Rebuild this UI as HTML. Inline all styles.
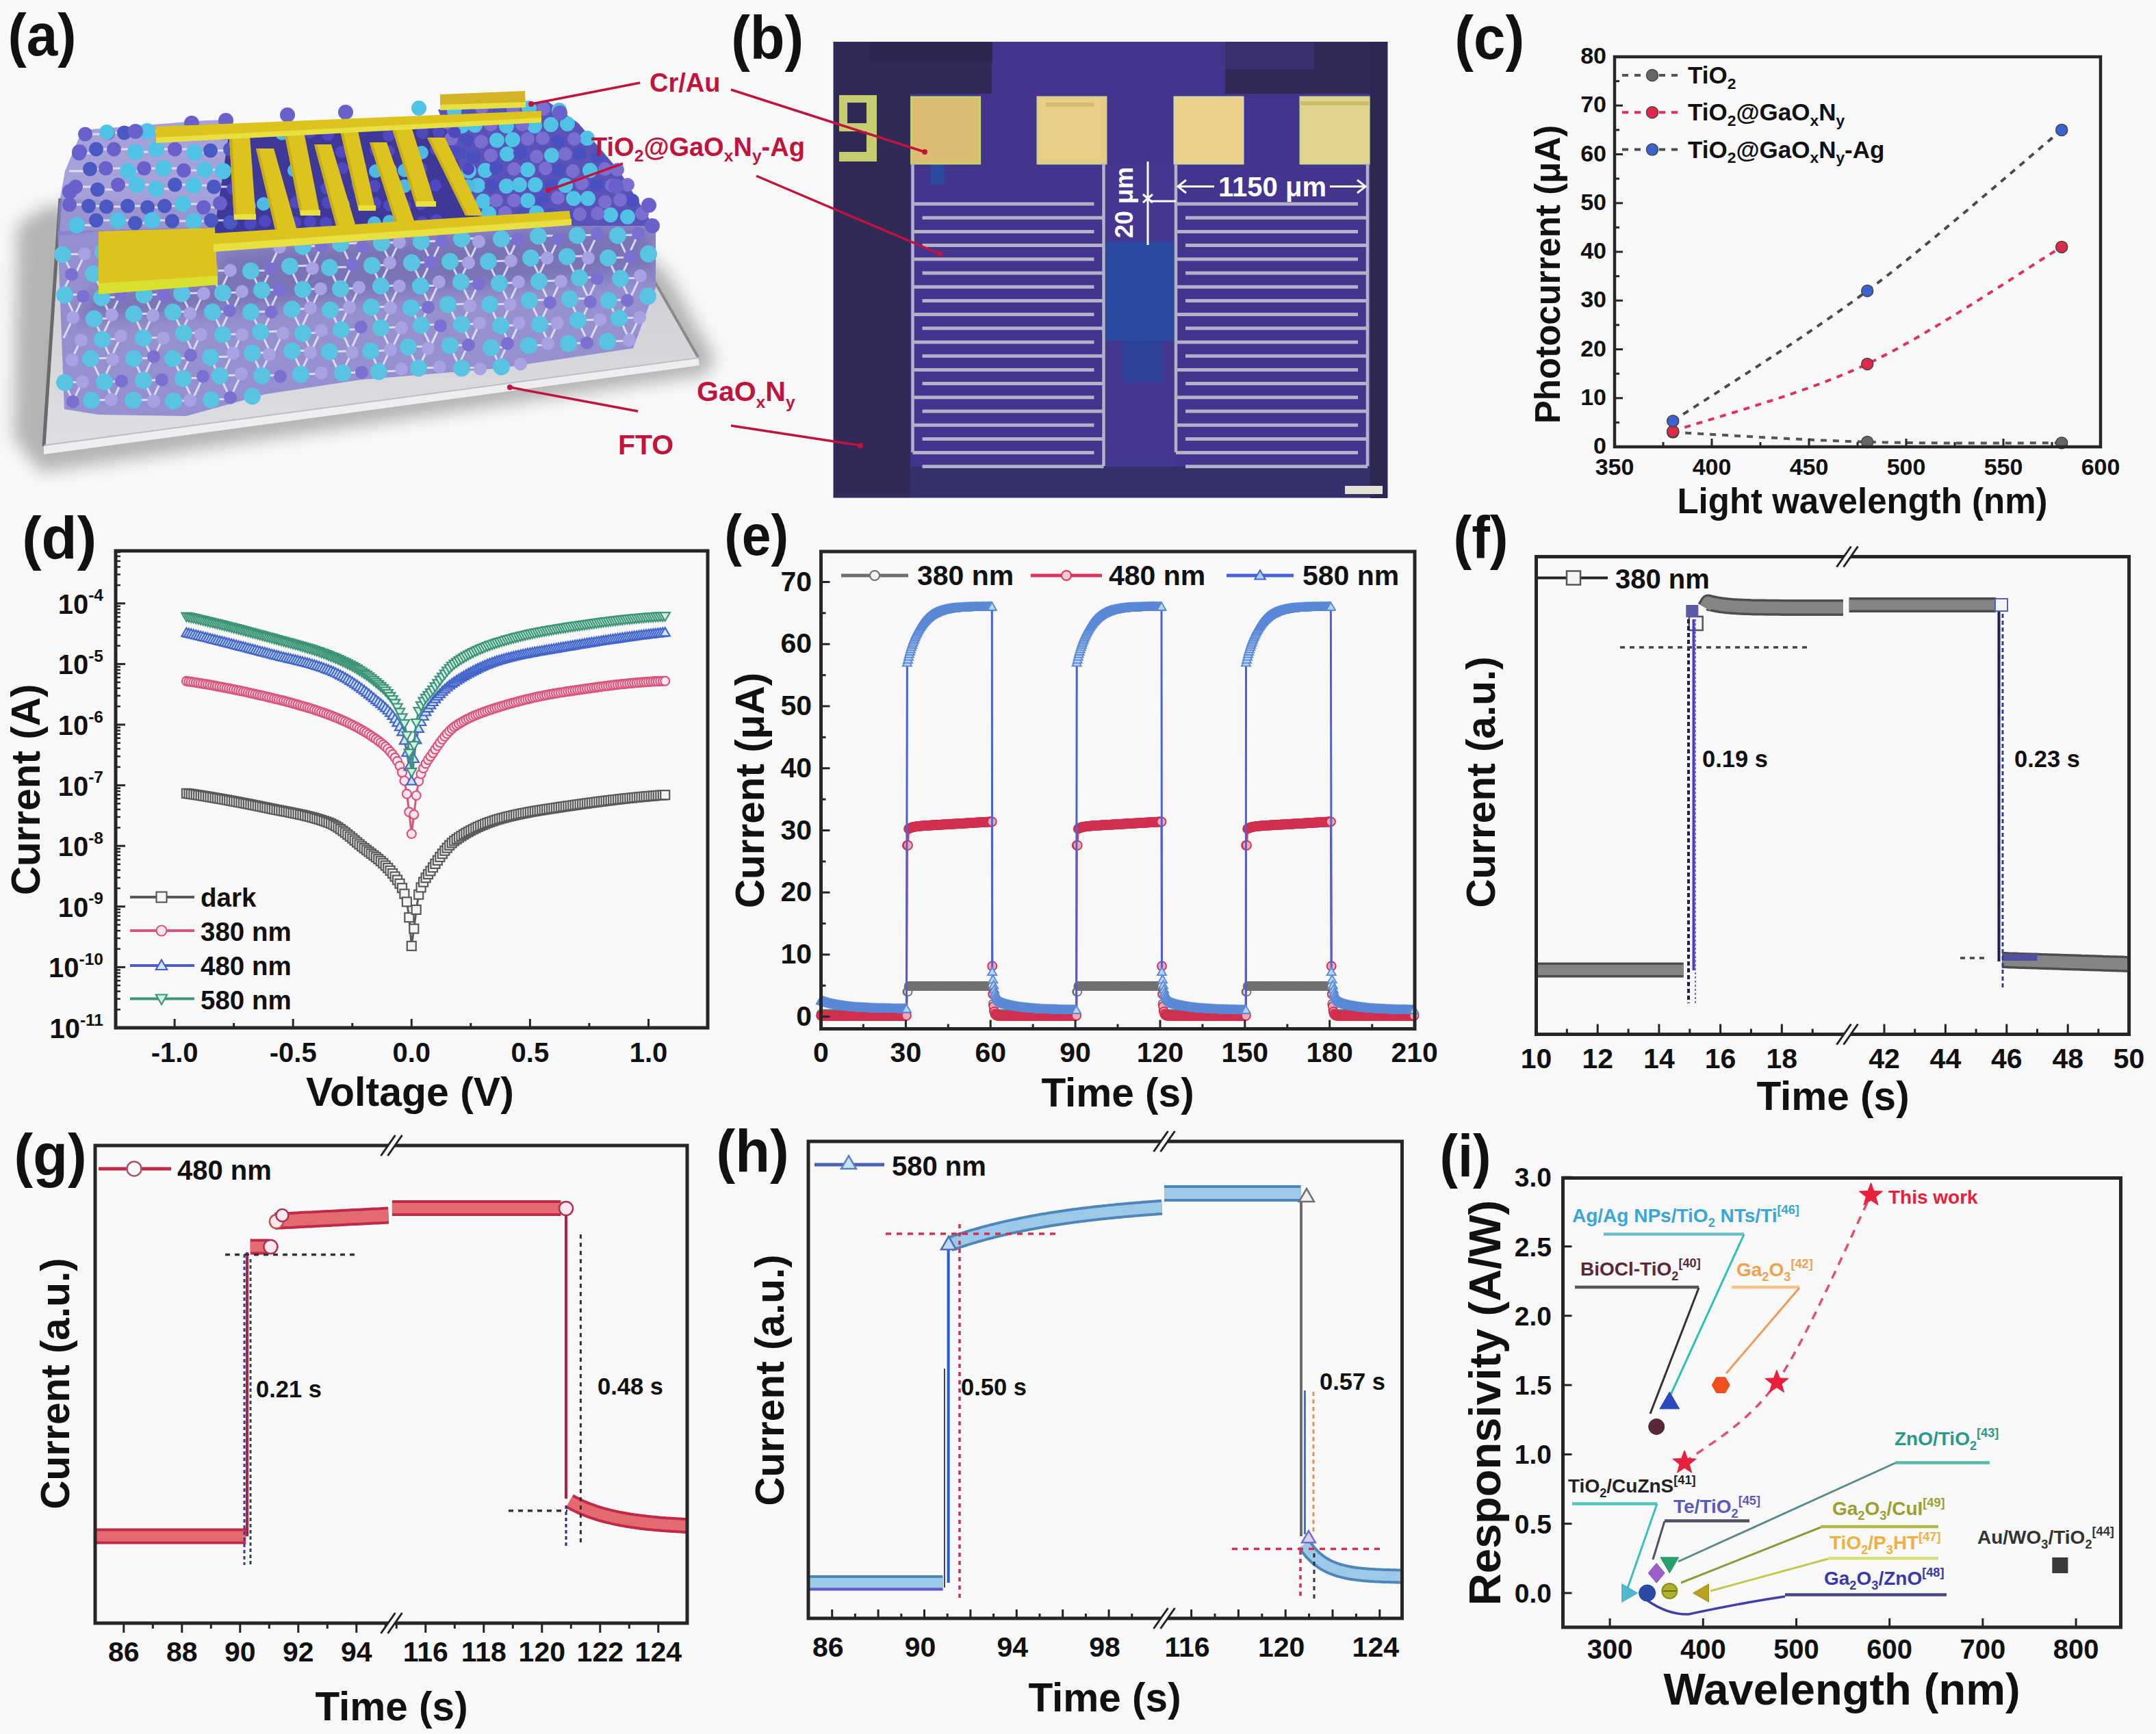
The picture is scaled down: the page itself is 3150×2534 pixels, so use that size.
<!DOCTYPE html>
<html><head><meta charset="utf-8"><title>Figure</title><style>
html,body{margin:0;padding:0;background:#f8f8f8;overflow:hidden}
svg{display:block}
text{font-family:"Liberation Sans",Arial,sans-serif;font-weight:bold}
</style></head><body>
<svg width="3150" height="2534" viewBox="0 0 3150 2534">
<rect x="0" y="0" width="3150" height="2534" fill="#f8f8f8"/>
<defs><filter id="blur12" x="-20%" y="-20%" width="140%" height="140%"><feGaussianBlur stdDeviation="12"/></filter><filter id="blur3"><feGaussianBlur stdDeviation="2"/></filter><linearGradient id="slabg" x1="0" y1="0" x2="0" y2="1"><stop offset="0" stop-color="#c8c8d0"/><stop offset="1" stop-color="#dedee2"/></linearGradient><clipPath id="lowclip"><polygon points="84,338 316,332 316,367 835,328 958,330 958,420 925,509 731,538 527,555 388,576 272,608 144,606 94,598"/></clipPath><marker id="m0" markerUnits="userSpaceOnUse" markerWidth="26.6" markerHeight="26.6" refX="13.3" refY="13.3" overflow="visible"><rect x="6.8" y="6.8" width="13.0" height="13.0" fill="#f4f4f4" stroke="#5a5a5a" stroke-width="2.2"/></marker><marker id="m1" markerUnits="userSpaceOnUse" markerWidth="26.6" markerHeight="26.6" refX="13.3" refY="13.3" overflow="visible"><circle cx="13.3" cy="13.3" r="6.5" fill="#fbe6ee" stroke="#d9557c" stroke-width="2.2"/></marker><marker id="m2" markerUnits="userSpaceOnUse" markerWidth="26.6" markerHeight="26.6" refX="13.3" refY="13.3" overflow="visible"><polygon points="13.3,6.2 20.5,18.5 6.2,18.5" fill="#cfe6f8" stroke="#4466cc" stroke-width="2.2"/></marker><marker id="m3" markerUnits="userSpaceOnUse" markerWidth="26.6" markerHeight="26.6" refX="13.3" refY="13.3" overflow="visible"><polygon points="13.3,20.5 20.5,8.1 6.2,8.1" fill="#d2efe6" stroke="#3d9478" stroke-width="2.2"/></marker><marker id="m4" markerUnits="userSpaceOnUse" markerWidth="24.4" markerHeight="24.4" refX="12.2" refY="12.2" overflow="visible"><circle cx="12.2" cy="12.2" r="6.0" fill="#f0f0f0" stroke="#707070" stroke-width="1.8"/></marker><marker id="m5" markerUnits="userSpaceOnUse" markerWidth="25.8" markerHeight="25.8" refX="12.9" refY="12.9" overflow="visible"><circle cx="12.9" cy="12.9" r="6.5" fill="#f0a8b8" stroke="#d03050" stroke-width="1.8"/></marker><marker id="m6" markerUnits="userSpaceOnUse" markerWidth="24.4" markerHeight="24.4" refX="12.2" refY="12.2" overflow="visible"><polygon points="12.2,5.6 18.8,17.0 5.6,17.0" fill="#b4d6f4" stroke="#5a88d6" stroke-width="1.8"/></marker></defs>
<polygon points="70,300 900,330 975,400 1045,525 1030,548 60,690 20,640 25,330" fill="#a8a8a8" filter="url(#blur12)" opacity="0.85"/>
<polygon points="88,290 900,330 950,400 1020,522 64,650" fill="url(#slabg)"/>
<polygon points="64,650 1020,522 1022,534 64,664" fill="#eeeeee"/>
<line x1="88" y1="290" x2="64" y2="652" stroke="#6a6a6a" stroke-width="5"/>
<line x1="950" y1="400" x2="1020" y2="522" stroke="#8a8a8a" stroke-width="4"/>
<line x1="64" y1="651" x2="1020" y2="523" stroke="#bdbdc4" stroke-width="2"/>
<polygon points="84,338 316,332 316,367 835,328 958,330 958,420 925,509 731,538 527,555 388,576 272,608 144,606 94,598" fill="#918ace" opacity="0.92"/>
<polygon points="86,300 95,250 120,190 300,176 340,175 350,330 312,341 150,338 84,345" fill="#8680cc" opacity="0.72"/>
<g clip-path="url(#lowclip)"><polygon points="144,420 316,412 316,367 835,328 958,330 958,400 600,430 300,455 100,470" fill="#5a5298" opacity="0.45" filter="url(#blur12)"/></g>
<polygon points="336,185 700,168 710,320 312,345" fill="#3e3898"/>
<polygon points="640,160 800,148 845,180 905,250 955,330 835,330 700,318" fill="#5a52b8"/>
<path d="M92,372l29,-1M92,372l14,30M124,371l-14,30M151,368l29,-1M151,368l14,30M179,370l-14,30M206,367l29,-1M206,367l14,30M235,369l-14,30M263,369l29,-1M263,369l14,30M298,366l-14,30M408,361l-14,30M442,360l29,-1M442,360l14,30M470,359l-14,30M498,356l29,-1M498,356l14,30M530,360l-14,30M557,355l29,-1M557,355l14,30M583,354l-14,30M616,353l29,-1M616,353l14,30M645,352l-14,30M674,349l29,-1M674,349l14,30M699,353l-14,30M733,349l29,-1M733,349l14,30M756,350l-14,30M787,345l29,-1M787,345l14,30M816,349l-14,30M844,344l29,-1M844,344l14,30M873,342l-14,30M902,344l29,-1M902,344l14,30M933,341l-14,30M104,401l-14,30M137,400l29,-1M137,400l14,30M166,399l-14,30M195,400l29,-1M195,400l14,30M220,401l-14,30M250,399l29,-1M250,399l14,30M279,395l-14,30M307,396l29,-1M307,396l14,30M336,395l-14,30M367,396l29,-1M367,396l14,30M396,393l-14,30M423,389l29,-1M423,389l14,30M456,392l-14,30M481,391l29,-1M481,391l14,30M515,386l-14,30M543,388l29,-1M543,388l14,30M570,384l-14,30M602,384l29,-1M602,384l14,30M629,383l-14,30M658,382l29,-1M658,382l14,30M684,384l-14,30M713,382l29,-1M713,382l14,30M746,381l-14,30M776,377l29,-1M776,377l14,30M799,377l-14,30M828,375l29,-1M828,375l14,30M859,377l-14,30M888,377l29,-1M888,377l14,30M921,375l-14,30M95,431l29,-1M95,431l14,30M122,433l-14,30M149,435l29,-1M149,435l14,30M176,431l-14,30M210,431l29,-1M210,431l14,30M238,431l-14,30M265,429l29,-1M265,429l14,30M297,429l-14,30M326,428l29,-1M326,428l14,30M353,426l-14,30M382,424l29,-1M382,424l14,30M408,424l-14,30M442,423l29,-1M442,423l14,30M468,422l-14,30M498,422l29,-1M498,422l14,30M525,420l-14,30M557,418l29,-1M557,418l14,30M583,418l-14,30M615,418l29,-1M615,418l14,30M642,412l-14,30M673,412l29,-1M673,412l14,30M699,415l-14,30M730,414l29,-1M730,414l14,30M758,412l-14,30M788,411l29,-1M788,411l14,30M819,411l-14,30M846,406l29,-1M846,406l14,30M873,407l-14,30M906,407l29,-1M906,407l14,30M936,403l-14,30M107,464l-14,30M137,466l29,-1M137,466l14,30M164,460l-14,30M195,459l29,-1M195,459l14,30M223,461l-14,30M253,456l29,-1M253,456l14,30M278,458l-14,30M311,456l29,-1M311,456l14,30M336,454l-14,30M367,456l29,-1M367,456l14,30M397,456l-14,30M426,452l29,-1M426,452l14,30M454,450l-14,30M483,453l29,-1M483,453l14,30M510,449l-14,30M542,449l29,-1M542,449l14,30M571,450l-14,30M601,450l29,-1M601,450l14,30M626,449l-14,30M655,445l29,-1M655,445l14,30M687,447l-14,30M715,445l29,-1M715,445l14,30M746,445l-14,30M774,439l29,-1M774,439l14,30M803,442l-14,30M832,437l29,-1M832,437l14,30M862,441l-14,30M889,439l29,-1M889,439l14,30M917,439l-14,30M118,497l-14,30M149,496l29,-1M149,496l14,30M177,491l-14,30M209,494l29,-1M209,494l14,30M238,494l-14,30M269,487l29,-1M269,487l14,30M293,489l-14,30M325,489l29,-1M325,489l14,30M353,489l-14,30M381,485l29,-1M381,485l14,30M413,487l-14,30M442,487l29,-1M442,487l14,30M469,483l-14,30M498,482l29,-1M498,482l14,30M528,478l-14,30M556,479l29,-1M556,479l14,30M587,479l-14,30M615,475l29,-1M615,475l14,30M643,476l-14,30M675,474l29,-1M675,474l14,30M701,472l-14,30M732,476l29,-1M732,476l14,30M759,472l-14,30M789,474l29,-1M789,474l14,30M815,472l-14,30M844,468l29,-1M844,468l14,30M876,467l-14,30M905,465l29,-1M905,465l14,30M934,464l-14,30M133,524l29,-1M133,524l14,30M165,525l-14,30M195,524l29,-1M195,524l14,30M224,521l-14,30M253,524l29,-1M253,524l14,30M279,519l-14,30M307,522l29,-1M307,522l14,30M340,516l-14,30M368,516l29,-1M368,516l14,30M394,518l-14,30M427,513l29,-1M427,513l14,30M453,515l-14,30M481,514l29,-1M481,514l14,30M514,515l-14,30M541,513l29,-1M541,513l14,30M570,511l-14,30M596,507l29,-1M596,507l14,30M625,509l-14,30M657,505l29,-1M657,505l14,30M684,504l-14,30M718,508l29,-1M718,508l14,30M742,502l-14,30M773,505l29,-1M831,502l29,-1M887,499l29,-1M94,559l29,-1M94,559l14,30M120,558l-14,30M153,558l29,-1M153,558l14,30M178,557l-14,30M210,556l29,-1M210,556l14,30M236,555l-14,30M267,553l29,-1M267,553l14,30M297,550l-14,30M321,549l29,-1M321,549l14,30M353,546l-14,30M383,549l29,-1M439,547l29,-1M501,545l29,-1M553,543l29,-1M611,538l29,-1M674,538l29,-1M134,585l29,-1M195,585l29,-1M254,586l29,-1M309,584l29,-1M125,196l28,0M157,194l28,0M182,194l28,0M215,192l28,0M242,196l28,0M266,194l28,0M298,194l28,0M116,224l28,0M141,218l28,0M167,218l28,0M198,222l28,0M228,218l28,0M255,218l28,0M284,223l28,0M307,220l28,0M101,250l28,0M131,247l28,0M154,246l28,0M187,250l28,0M211,246l28,0M239,246l28,0M269,249l28,0M299,248l28,0M110,273l28,0M143,277l28,0M172,270l28,0M200,270l28,0M228,276l28,0M255,270l28,0M283,271l28,0M312,273l28,0M101,299l28,0M130,301l28,0M155,302l28,0M187,301l28,0M215,303l28,0M240,301l28,0M267,298l28,0M298,303l28,0M112,329l28,0M140,322l28,0M172,322l28,0M198,326l28,0M222,322l28,0M252,323l28,0M283,323l28,0M308,322l28,0" stroke="#e8e6f8" stroke-width="3" fill="none" opacity="0.85"/>
<path d="M79,372a12.5,12.5 0 1,0 25.0,0a12.5,12.5 0 1,0 -25.0,0M138,368a12.5,12.5 0 1,0 25.0,0a12.5,12.5 0 1,0 -25.0,0M193,367a12.5,12.5 0 1,0 25.0,0a12.5,12.5 0 1,0 -25.0,0M251,369a12.5,12.5 0 1,0 25.0,0a12.5,12.5 0 1,0 -25.0,0M430,360a12.5,12.5 0 1,0 25.0,0a12.5,12.5 0 1,0 -25.0,0M485,356a12.5,12.5 0 1,0 25.0,0a12.5,12.5 0 1,0 -25.0,0M545,355a12.5,12.5 0 1,0 25.0,0a12.5,12.5 0 1,0 -25.0,0M603,353a12.5,12.5 0 1,0 25.0,0a12.5,12.5 0 1,0 -25.0,0M662,349a12.5,12.5 0 1,0 25.0,0a12.5,12.5 0 1,0 -25.0,0M720,349a12.5,12.5 0 1,0 25.0,0a12.5,12.5 0 1,0 -25.0,0M774,345a12.5,12.5 0 1,0 25.0,0a12.5,12.5 0 1,0 -25.0,0M831,344a12.5,12.5 0 1,0 25.0,0a12.5,12.5 0 1,0 -25.0,0M890,344a12.5,12.5 0 1,0 25.0,0a12.5,12.5 0 1,0 -25.0,0M124,400a12.5,12.5 0 1,0 25.0,0a12.5,12.5 0 1,0 -25.0,0M183,400a12.5,12.5 0 1,0 25.0,0a12.5,12.5 0 1,0 -25.0,0M237,399a12.5,12.5 0 1,0 25.0,0a12.5,12.5 0 1,0 -25.0,0M294,396a12.5,12.5 0 1,0 25.0,0a12.5,12.5 0 1,0 -25.0,0M354,396a12.5,12.5 0 1,0 25.0,0a12.5,12.5 0 1,0 -25.0,0M411,389a12.5,12.5 0 1,0 25.0,0a12.5,12.5 0 1,0 -25.0,0M469,391a12.5,12.5 0 1,0 25.0,0a12.5,12.5 0 1,0 -25.0,0M531,388a12.5,12.5 0 1,0 25.0,0a12.5,12.5 0 1,0 -25.0,0M589,384a12.5,12.5 0 1,0 25.0,0a12.5,12.5 0 1,0 -25.0,0M645,382a12.5,12.5 0 1,0 25.0,0a12.5,12.5 0 1,0 -25.0,0M701,382a12.5,12.5 0 1,0 25.0,0a12.5,12.5 0 1,0 -25.0,0M763,377a12.5,12.5 0 1,0 25.0,0a12.5,12.5 0 1,0 -25.0,0M816,375a12.5,12.5 0 1,0 25.0,0a12.5,12.5 0 1,0 -25.0,0M876,377a12.5,12.5 0 1,0 25.0,0a12.5,12.5 0 1,0 -25.0,0M935,371a12.5,12.5 0 1,0 25.0,0a12.5,12.5 0 1,0 -25.0,0M82,431a12.5,12.5 0 1,0 25.0,0a12.5,12.5 0 1,0 -25.0,0M136,435a12.5,12.5 0 1,0 25.0,0a12.5,12.5 0 1,0 -25.0,0M198,431a12.5,12.5 0 1,0 25.0,0a12.5,12.5 0 1,0 -25.0,0M253,429a12.5,12.5 0 1,0 25.0,0a12.5,12.5 0 1,0 -25.0,0M313,428a12.5,12.5 0 1,0 25.0,0a12.5,12.5 0 1,0 -25.0,0M370,424a12.5,12.5 0 1,0 25.0,0a12.5,12.5 0 1,0 -25.0,0M430,423a12.5,12.5 0 1,0 25.0,0a12.5,12.5 0 1,0 -25.0,0M485,422a12.5,12.5 0 1,0 25.0,0a12.5,12.5 0 1,0 -25.0,0M544,418a12.5,12.5 0 1,0 25.0,0a12.5,12.5 0 1,0 -25.0,0M602,418a12.5,12.5 0 1,0 25.0,0a12.5,12.5 0 1,0 -25.0,0M661,412a12.5,12.5 0 1,0 25.0,0a12.5,12.5 0 1,0 -25.0,0M717,414a12.5,12.5 0 1,0 25.0,0a12.5,12.5 0 1,0 -25.0,0M775,411a12.5,12.5 0 1,0 25.0,0a12.5,12.5 0 1,0 -25.0,0M834,406a12.5,12.5 0 1,0 25.0,0a12.5,12.5 0 1,0 -25.0,0M894,407a12.5,12.5 0 1,0 25.0,0a12.5,12.5 0 1,0 -25.0,0M125,466a12.5,12.5 0 1,0 25.0,0a12.5,12.5 0 1,0 -25.0,0M183,459a12.5,12.5 0 1,0 25.0,0a12.5,12.5 0 1,0 -25.0,0M240,456a12.5,12.5 0 1,0 25.0,0a12.5,12.5 0 1,0 -25.0,0M298,456a12.5,12.5 0 1,0 25.0,0a12.5,12.5 0 1,0 -25.0,0M354,456a12.5,12.5 0 1,0 25.0,0a12.5,12.5 0 1,0 -25.0,0M414,452a12.5,12.5 0 1,0 25.0,0a12.5,12.5 0 1,0 -25.0,0M470,453a12.5,12.5 0 1,0 25.0,0a12.5,12.5 0 1,0 -25.0,0M530,449a12.5,12.5 0 1,0 25.0,0a12.5,12.5 0 1,0 -25.0,0M588,450a12.5,12.5 0 1,0 25.0,0a12.5,12.5 0 1,0 -25.0,0M642,445a12.5,12.5 0 1,0 25.0,0a12.5,12.5 0 1,0 -25.0,0M703,445a12.5,12.5 0 1,0 25.0,0a12.5,12.5 0 1,0 -25.0,0M761,439a12.5,12.5 0 1,0 25.0,0a12.5,12.5 0 1,0 -25.0,0M820,437a12.5,12.5 0 1,0 25.0,0a12.5,12.5 0 1,0 -25.0,0M877,439a12.5,12.5 0 1,0 25.0,0a12.5,12.5 0 1,0 -25.0,0M934,433a12.5,12.5 0 1,0 25.0,0a12.5,12.5 0 1,0 -25.0,0M137,496a12.5,12.5 0 1,0 25.0,0a12.5,12.5 0 1,0 -25.0,0M197,494a12.5,12.5 0 1,0 25.0,0a12.5,12.5 0 1,0 -25.0,0M256,487a12.5,12.5 0 1,0 25.0,0a12.5,12.5 0 1,0 -25.0,0M313,489a12.5,12.5 0 1,0 25.0,0a12.5,12.5 0 1,0 -25.0,0M368,485a12.5,12.5 0 1,0 25.0,0a12.5,12.5 0 1,0 -25.0,0M430,487a12.5,12.5 0 1,0 25.0,0a12.5,12.5 0 1,0 -25.0,0M486,482a12.5,12.5 0 1,0 25.0,0a12.5,12.5 0 1,0 -25.0,0M544,479a12.5,12.5 0 1,0 25.0,0a12.5,12.5 0 1,0 -25.0,0M603,475a12.5,12.5 0 1,0 25.0,0a12.5,12.5 0 1,0 -25.0,0M662,474a12.5,12.5 0 1,0 25.0,0a12.5,12.5 0 1,0 -25.0,0M719,476a12.5,12.5 0 1,0 25.0,0a12.5,12.5 0 1,0 -25.0,0M776,474a12.5,12.5 0 1,0 25.0,0a12.5,12.5 0 1,0 -25.0,0M832,468a12.5,12.5 0 1,0 25.0,0a12.5,12.5 0 1,0 -25.0,0M892,465a12.5,12.5 0 1,0 25.0,0a12.5,12.5 0 1,0 -25.0,0M120,524a12.5,12.5 0 1,0 25.0,0a12.5,12.5 0 1,0 -25.0,0M183,524a12.5,12.5 0 1,0 25.0,0a12.5,12.5 0 1,0 -25.0,0M240,524a12.5,12.5 0 1,0 25.0,0a12.5,12.5 0 1,0 -25.0,0M295,522a12.5,12.5 0 1,0 25.0,0a12.5,12.5 0 1,0 -25.0,0M356,516a12.5,12.5 0 1,0 25.0,0a12.5,12.5 0 1,0 -25.0,0M414,513a12.5,12.5 0 1,0 25.0,0a12.5,12.5 0 1,0 -25.0,0M469,514a12.5,12.5 0 1,0 25.0,0a12.5,12.5 0 1,0 -25.0,0M529,513a12.5,12.5 0 1,0 25.0,0a12.5,12.5 0 1,0 -25.0,0M584,507a12.5,12.5 0 1,0 25.0,0a12.5,12.5 0 1,0 -25.0,0M645,505a12.5,12.5 0 1,0 25.0,0a12.5,12.5 0 1,0 -25.0,0M705,508a12.5,12.5 0 1,0 25.0,0a12.5,12.5 0 1,0 -25.0,0M760,505a12.5,12.5 0 1,0 25.0,0a12.5,12.5 0 1,0 -25.0,0M818,502a12.5,12.5 0 1,0 25.0,0a12.5,12.5 0 1,0 -25.0,0M875,499a12.5,12.5 0 1,0 25.0,0a12.5,12.5 0 1,0 -25.0,0M82,559a12.5,12.5 0 1,0 25.0,0a12.5,12.5 0 1,0 -25.0,0M140,558a12.5,12.5 0 1,0 25.0,0a12.5,12.5 0 1,0 -25.0,0M197,556a12.5,12.5 0 1,0 25.0,0a12.5,12.5 0 1,0 -25.0,0M255,553a12.5,12.5 0 1,0 25.0,0a12.5,12.5 0 1,0 -25.0,0M309,549a12.5,12.5 0 1,0 25.0,0a12.5,12.5 0 1,0 -25.0,0M370,549a12.5,12.5 0 1,0 25.0,0a12.5,12.5 0 1,0 -25.0,0M427,547a12.5,12.5 0 1,0 25.0,0a12.5,12.5 0 1,0 -25.0,0M488,545a12.5,12.5 0 1,0 25.0,0a12.5,12.5 0 1,0 -25.0,0M541,543a12.5,12.5 0 1,0 25.0,0a12.5,12.5 0 1,0 -25.0,0M599,538a12.5,12.5 0 1,0 25.0,0a12.5,12.5 0 1,0 -25.0,0M662,538a12.5,12.5 0 1,0 25.0,0a12.5,12.5 0 1,0 -25.0,0M720,536a12.5,12.5 0 1,0 25.0,0a12.5,12.5 0 1,0 -25.0,0M121,585a12.5,12.5 0 1,0 25.0,0a12.5,12.5 0 1,0 -25.0,0M182,585a12.5,12.5 0 1,0 25.0,0a12.5,12.5 0 1,0 -25.0,0M241,586a12.5,12.5 0 1,0 25.0,0a12.5,12.5 0 1,0 -25.0,0M296,584a12.5,12.5 0 1,0 25.0,0a12.5,12.5 0 1,0 -25.0,0M356,579a12.5,12.5 0 1,0 25.0,0a12.5,12.5 0 1,0 -25.0,0" fill="#58c4e2"/>
<path d="M114,371a9.5,9.5 0 1,0 19.0,0a9.5,9.5 0 1,0 -19.0,0M399,361a9.5,9.5 0 1,0 19.0,0a9.5,9.5 0 1,0 -19.0,0M574,354a9.5,9.5 0 1,0 19.0,0a9.5,9.5 0 1,0 -19.0,0M690,353a9.5,9.5 0 1,0 19.0,0a9.5,9.5 0 1,0 -19.0,0M157,399a9.5,9.5 0 1,0 19.0,0a9.5,9.5 0 1,0 -19.0,0M210,401a9.5,9.5 0 1,0 19.0,0a9.5,9.5 0 1,0 -19.0,0M269,395a9.5,9.5 0 1,0 19.0,0a9.5,9.5 0 1,0 -19.0,0M327,395a9.5,9.5 0 1,0 19.0,0a9.5,9.5 0 1,0 -19.0,0M447,392a9.5,9.5 0 1,0 19.0,0a9.5,9.5 0 1,0 -19.0,0M560,384a9.5,9.5 0 1,0 19.0,0a9.5,9.5 0 1,0 -19.0,0M675,384a9.5,9.5 0 1,0 19.0,0a9.5,9.5 0 1,0 -19.0,0M737,381a9.5,9.5 0 1,0 19.0,0a9.5,9.5 0 1,0 -19.0,0M790,377a9.5,9.5 0 1,0 19.0,0a9.5,9.5 0 1,0 -19.0,0M850,377a9.5,9.5 0 1,0 19.0,0a9.5,9.5 0 1,0 -19.0,0M288,429a9.5,9.5 0 1,0 19.0,0a9.5,9.5 0 1,0 -19.0,0M344,426a9.5,9.5 0 1,0 19.0,0a9.5,9.5 0 1,0 -19.0,0M459,422a9.5,9.5 0 1,0 19.0,0a9.5,9.5 0 1,0 -19.0,0M515,420a9.5,9.5 0 1,0 19.0,0a9.5,9.5 0 1,0 -19.0,0M574,418a9.5,9.5 0 1,0 19.0,0a9.5,9.5 0 1,0 -19.0,0M632,412a9.5,9.5 0 1,0 19.0,0a9.5,9.5 0 1,0 -19.0,0M748,412a9.5,9.5 0 1,0 19.0,0a9.5,9.5 0 1,0 -19.0,0M810,411a9.5,9.5 0 1,0 19.0,0a9.5,9.5 0 1,0 -19.0,0M926,403a9.5,9.5 0 1,0 19.0,0a9.5,9.5 0 1,0 -19.0,0M97,464a9.5,9.5 0 1,0 19.0,0a9.5,9.5 0 1,0 -19.0,0M154,460a9.5,9.5 0 1,0 19.0,0a9.5,9.5 0 1,0 -19.0,0M214,461a9.5,9.5 0 1,0 19.0,0a9.5,9.5 0 1,0 -19.0,0M268,458a9.5,9.5 0 1,0 19.0,0a9.5,9.5 0 1,0 -19.0,0M444,450a9.5,9.5 0 1,0 19.0,0a9.5,9.5 0 1,0 -19.0,0M501,449a9.5,9.5 0 1,0 19.0,0a9.5,9.5 0 1,0 -19.0,0M561,450a9.5,9.5 0 1,0 19.0,0a9.5,9.5 0 1,0 -19.0,0M677,447a9.5,9.5 0 1,0 19.0,0a9.5,9.5 0 1,0 -19.0,0M736,445a9.5,9.5 0 1,0 19.0,0a9.5,9.5 0 1,0 -19.0,0M109,497a9.5,9.5 0 1,0 19.0,0a9.5,9.5 0 1,0 -19.0,0M167,491a9.5,9.5 0 1,0 19.0,0a9.5,9.5 0 1,0 -19.0,0M229,494a9.5,9.5 0 1,0 19.0,0a9.5,9.5 0 1,0 -19.0,0M284,489a9.5,9.5 0 1,0 19.0,0a9.5,9.5 0 1,0 -19.0,0M344,489a9.5,9.5 0 1,0 19.0,0a9.5,9.5 0 1,0 -19.0,0M404,487a9.5,9.5 0 1,0 19.0,0a9.5,9.5 0 1,0 -19.0,0M460,483a9.5,9.5 0 1,0 19.0,0a9.5,9.5 0 1,0 -19.0,0M577,479a9.5,9.5 0 1,0 19.0,0a9.5,9.5 0 1,0 -19.0,0M691,472a9.5,9.5 0 1,0 19.0,0a9.5,9.5 0 1,0 -19.0,0M749,472a9.5,9.5 0 1,0 19.0,0a9.5,9.5 0 1,0 -19.0,0M805,472a9.5,9.5 0 1,0 19.0,0a9.5,9.5 0 1,0 -19.0,0M867,467a9.5,9.5 0 1,0 19.0,0a9.5,9.5 0 1,0 -19.0,0M925,464a9.5,9.5 0 1,0 19.0,0a9.5,9.5 0 1,0 -19.0,0M96,526a9.5,9.5 0 1,0 19.0,0a9.5,9.5 0 1,0 -19.0,0M155,525a9.5,9.5 0 1,0 19.0,0a9.5,9.5 0 1,0 -19.0,0M331,516a9.5,9.5 0 1,0 19.0,0a9.5,9.5 0 1,0 -19.0,0M384,518a9.5,9.5 0 1,0 19.0,0a9.5,9.5 0 1,0 -19.0,0M444,515a9.5,9.5 0 1,0 19.0,0a9.5,9.5 0 1,0 -19.0,0M505,515a9.5,9.5 0 1,0 19.0,0a9.5,9.5 0 1,0 -19.0,0M561,511a9.5,9.5 0 1,0 19.0,0a9.5,9.5 0 1,0 -19.0,0M616,509a9.5,9.5 0 1,0 19.0,0a9.5,9.5 0 1,0 -19.0,0M791,502a9.5,9.5 0 1,0 19.0,0a9.5,9.5 0 1,0 -19.0,0M910,497a9.5,9.5 0 1,0 19.0,0a9.5,9.5 0 1,0 -19.0,0M111,558a9.5,9.5 0 1,0 19.0,0a9.5,9.5 0 1,0 -19.0,0M343,546a9.5,9.5 0 1,0 19.0,0a9.5,9.5 0 1,0 -19.0,0M460,545a9.5,9.5 0 1,0 19.0,0a9.5,9.5 0 1,0 -19.0,0M577,539a9.5,9.5 0 1,0 19.0,0a9.5,9.5 0 1,0 -19.0,0M633,536a9.5,9.5 0 1,0 19.0,0a9.5,9.5 0 1,0 -19.0,0M692,539a9.5,9.5 0 1,0 19.0,0a9.5,9.5 0 1,0 -19.0,0M751,532a9.5,9.5 0 1,0 19.0,0a9.5,9.5 0 1,0 -19.0,0M153,584a9.5,9.5 0 1,0 19.0,0a9.5,9.5 0 1,0 -19.0,0M215,586a9.5,9.5 0 1,0 19.0,0a9.5,9.5 0 1,0 -19.0,0M268,585a9.5,9.5 0 1,0 19.0,0a9.5,9.5 0 1,0 -19.0,0" fill="#a8a2e2"/>
<path d="M170,370a9.5,9.5 0 1,0 19.0,0a9.5,9.5 0 1,0 -19.0,0M225,369a9.5,9.5 0 1,0 19.0,0a9.5,9.5 0 1,0 -19.0,0M288,366a9.5,9.5 0 1,0 19.0,0a9.5,9.5 0 1,0 -19.0,0M460,359a9.5,9.5 0 1,0 19.0,0a9.5,9.5 0 1,0 -19.0,0M520,360a9.5,9.5 0 1,0 19.0,0a9.5,9.5 0 1,0 -19.0,0M636,352a9.5,9.5 0 1,0 19.0,0a9.5,9.5 0 1,0 -19.0,0M747,350a9.5,9.5 0 1,0 19.0,0a9.5,9.5 0 1,0 -19.0,0M806,349a9.5,9.5 0 1,0 19.0,0a9.5,9.5 0 1,0 -19.0,0M863,342a9.5,9.5 0 1,0 19.0,0a9.5,9.5 0 1,0 -19.0,0M923,341a9.5,9.5 0 1,0 19.0,0a9.5,9.5 0 1,0 -19.0,0M95,401a9.5,9.5 0 1,0 19.0,0a9.5,9.5 0 1,0 -19.0,0M386,393a9.5,9.5 0 1,0 19.0,0a9.5,9.5 0 1,0 -19.0,0M505,386a9.5,9.5 0 1,0 19.0,0a9.5,9.5 0 1,0 -19.0,0M620,383a9.5,9.5 0 1,0 19.0,0a9.5,9.5 0 1,0 -19.0,0M911,375a9.5,9.5 0 1,0 19.0,0a9.5,9.5 0 1,0 -19.0,0M112,433a9.5,9.5 0 1,0 19.0,0a9.5,9.5 0 1,0 -19.0,0M167,431a9.5,9.5 0 1,0 19.0,0a9.5,9.5 0 1,0 -19.0,0M229,431a9.5,9.5 0 1,0 19.0,0a9.5,9.5 0 1,0 -19.0,0M399,424a9.5,9.5 0 1,0 19.0,0a9.5,9.5 0 1,0 -19.0,0M690,415a9.5,9.5 0 1,0 19.0,0a9.5,9.5 0 1,0 -19.0,0M863,407a9.5,9.5 0 1,0 19.0,0a9.5,9.5 0 1,0 -19.0,0M326,454a9.5,9.5 0 1,0 19.0,0a9.5,9.5 0 1,0 -19.0,0M387,456a9.5,9.5 0 1,0 19.0,0a9.5,9.5 0 1,0 -19.0,0M616,449a9.5,9.5 0 1,0 19.0,0a9.5,9.5 0 1,0 -19.0,0M794,442a9.5,9.5 0 1,0 19.0,0a9.5,9.5 0 1,0 -19.0,0M853,441a9.5,9.5 0 1,0 19.0,0a9.5,9.5 0 1,0 -19.0,0M907,439a9.5,9.5 0 1,0 19.0,0a9.5,9.5 0 1,0 -19.0,0M518,478a9.5,9.5 0 1,0 19.0,0a9.5,9.5 0 1,0 -19.0,0M634,476a9.5,9.5 0 1,0 19.0,0a9.5,9.5 0 1,0 -19.0,0M215,521a9.5,9.5 0 1,0 19.0,0a9.5,9.5 0 1,0 -19.0,0M269,519a9.5,9.5 0 1,0 19.0,0a9.5,9.5 0 1,0 -19.0,0M675,504a9.5,9.5 0 1,0 19.0,0a9.5,9.5 0 1,0 -19.0,0M732,502a9.5,9.5 0 1,0 19.0,0a9.5,9.5 0 1,0 -19.0,0M848,501a9.5,9.5 0 1,0 19.0,0a9.5,9.5 0 1,0 -19.0,0M168,557a9.5,9.5 0 1,0 19.0,0a9.5,9.5 0 1,0 -19.0,0M227,555a9.5,9.5 0 1,0 19.0,0a9.5,9.5 0 1,0 -19.0,0M287,550a9.5,9.5 0 1,0 19.0,0a9.5,9.5 0 1,0 -19.0,0M400,550a9.5,9.5 0 1,0 19.0,0a9.5,9.5 0 1,0 -19.0,0M519,544a9.5,9.5 0 1,0 19.0,0a9.5,9.5 0 1,0 -19.0,0M97,587a9.5,9.5 0 1,0 19.0,0a9.5,9.5 0 1,0 -19.0,0M327,581a9.5,9.5 0 1,0 19.0,0a9.5,9.5 0 1,0 -19.0,0" fill="#7a70d2"/>
<path d="M114,196a10.5,10.5 0 1,0 21.0,0a10.5,10.5 0 1,0 -21.0,0M147,194a10.5,10.5 0 1,0 21.0,0a10.5,10.5 0 1,0 -21.0,0M317,194a10.5,10.5 0 1,0 21.0,0a10.5,10.5 0 1,0 -21.0,0M105,224a10.5,10.5 0 1,0 21.0,0a10.5,10.5 0 1,0 -21.0,0M156,218a10.5,10.5 0 1,0 21.0,0a10.5,10.5 0 1,0 -21.0,0M245,218a10.5,10.5 0 1,0 21.0,0a10.5,10.5 0 1,0 -21.0,0M144,246a10.5,10.5 0 1,0 21.0,0a10.5,10.5 0 1,0 -21.0,0M200,246a10.5,10.5 0 1,0 21.0,0a10.5,10.5 0 1,0 -21.0,0M258,249a10.5,10.5 0 1,0 21.0,0a10.5,10.5 0 1,0 -21.0,0M100,273a10.5,10.5 0 1,0 21.0,0a10.5,10.5 0 1,0 -21.0,0M162,270a10.5,10.5 0 1,0 21.0,0a10.5,10.5 0 1,0 -21.0,0M91,299a10.5,10.5 0 1,0 21.0,0a10.5,10.5 0 1,0 -21.0,0M287,303a10.5,10.5 0 1,0 21.0,0a10.5,10.5 0 1,0 -21.0,0M311,297a10.5,10.5 0 1,0 21.0,0a10.5,10.5 0 1,0 -21.0,0" fill="#6a60cc"/>
<path d="M171,194a10.5,10.5 0 1,0 21.0,0a10.5,10.5 0 1,0 -21.0,0M232,196a10.5,10.5 0 1,0 21.0,0a10.5,10.5 0 1,0 -21.0,0M288,194a10.5,10.5 0 1,0 21.0,0a10.5,10.5 0 1,0 -21.0,0M130,218a10.5,10.5 0 1,0 21.0,0a10.5,10.5 0 1,0 -21.0,0M297,220a10.5,10.5 0 1,0 21.0,0a10.5,10.5 0 1,0 -21.0,0M326,218a10.5,10.5 0 1,0 21.0,0a10.5,10.5 0 1,0 -21.0,0M121,247a10.5,10.5 0 1,0 21.0,0a10.5,10.5 0 1,0 -21.0,0M132,277a10.5,10.5 0 1,0 21.0,0a10.5,10.5 0 1,0 -21.0,0M245,270a10.5,10.5 0 1,0 21.0,0a10.5,10.5 0 1,0 -21.0,0M302,273a10.5,10.5 0 1,0 21.0,0a10.5,10.5 0 1,0 -21.0,0M119,301a10.5,10.5 0 1,0 21.0,0a10.5,10.5 0 1,0 -21.0,0M145,302a10.5,10.5 0 1,0 21.0,0a10.5,10.5 0 1,0 -21.0,0M176,301a10.5,10.5 0 1,0 21.0,0a10.5,10.5 0 1,0 -21.0,0M205,303a10.5,10.5 0 1,0 21.0,0a10.5,10.5 0 1,0 -21.0,0M230,301a10.5,10.5 0 1,0 21.0,0a10.5,10.5 0 1,0 -21.0,0M130,322a10.5,10.5 0 1,0 21.0,0a10.5,10.5 0 1,0 -21.0,0M187,326a10.5,10.5 0 1,0 21.0,0a10.5,10.5 0 1,0 -21.0,0M241,323a10.5,10.5 0 1,0 21.0,0a10.5,10.5 0 1,0 -21.0,0M298,322a10.5,10.5 0 1,0 21.0,0a10.5,10.5 0 1,0 -21.0,0M326,325a10.5,10.5 0 1,0 21.0,0a10.5,10.5 0 1,0 -21.0,0" fill="#4a58c4"/>
<path d="M203,192a12,12 0 1,0 24,0a12,12 0 1,0 -24,0M254,194a12,12 0 1,0 24,0a12,12 0 1,0 -24,0M186,222a12,12 0 1,0 24,0a12,12 0 1,0 -24,0M216,218a12,12 0 1,0 24,0a12,12 0 1,0 -24,0M272,223a12,12 0 1,0 24,0a12,12 0 1,0 -24,0M175,250a12,12 0 1,0 24,0a12,12 0 1,0 -24,0M227,246a12,12 0 1,0 24,0a12,12 0 1,0 -24,0M287,248a12,12 0 1,0 24,0a12,12 0 1,0 -24,0M314,250a12,12 0 1,0 24,0a12,12 0 1,0 -24,0M188,270a12,12 0 1,0 24,0a12,12 0 1,0 -24,0M216,276a12,12 0 1,0 24,0a12,12 0 1,0 -24,0M271,271a12,12 0 1,0 24,0a12,12 0 1,0 -24,0M255,298a12,12 0 1,0 24,0a12,12 0 1,0 -24,0M100,329a12,12 0 1,0 24,0a12,12 0 1,0 -24,0M160,322a12,12 0 1,0 24,0a12,12 0 1,0 -24,0M210,322a12,12 0 1,0 24,0a12,12 0 1,0 -24,0M271,323a12,12 0 1,0 24,0a12,12 0 1,0 -24,0" fill="#4fc2e6"/>
<path d="M653,162a11,11 0 1,0 22,0a11,11 0 1,0 -22,0M762,158a11,11 0 1,0 22,0a11,11 0 1,0 -22,0M806,161a11,11 0 1,0 22,0a11,11 0 1,0 -22,0M664,184a11,11 0 1,0 22,0a11,11 0 1,0 -22,0M683,183a11,11 0 1,0 22,0a11,11 0 1,0 -22,0M729,184a11,11 0 1,0 22,0a11,11 0 1,0 -22,0M770,184a11,11 0 1,0 22,0a11,11 0 1,0 -22,0M794,182a11,11 0 1,0 22,0a11,11 0 1,0 -22,0M818,181a11,11 0 1,0 22,0a11,11 0 1,0 -22,0M715,205a11,11 0 1,0 22,0a11,11 0 1,0 -22,0M738,204a11,11 0 1,0 22,0a11,11 0 1,0 -22,0M847,202a11,11 0 1,0 22,0a11,11 0 1,0 -22,0M730,225a11,11 0 1,0 22,0a11,11 0 1,0 -22,0M795,227a11,11 0 1,0 22,0a11,11 0 1,0 -22,0M674,250a11,11 0 1,0 22,0a11,11 0 1,0 -22,0M698,249a11,11 0 1,0 22,0a11,11 0 1,0 -22,0M760,248a11,11 0 1,0 22,0a11,11 0 1,0 -22,0M851,249a11,11 0 1,0 22,0a11,11 0 1,0 -22,0M687,271a11,11 0 1,0 22,0a11,11 0 1,0 -22,0M729,272a11,11 0 1,0 22,0a11,11 0 1,0 -22,0M748,270a11,11 0 1,0 22,0a11,11 0 1,0 -22,0M771,270a11,11 0 1,0 22,0a11,11 0 1,0 -22,0M815,271a11,11 0 1,0 22,0a11,11 0 1,0 -22,0M695,294a11,11 0 1,0 22,0a11,11 0 1,0 -22,0M760,293a11,11 0 1,0 22,0a11,11 0 1,0 -22,0M827,290a11,11 0 1,0 22,0a11,11 0 1,0 -22,0M848,290a11,11 0 1,0 22,0a11,11 0 1,0 -22,0M703,312a11,11 0 1,0 22,0a11,11 0 1,0 -22,0M773,311a11,11 0 1,0 22,0a11,11 0 1,0 -22,0M881,314a11,11 0 1,0 22,0a11,11 0 1,0 -22,0M906,317a11,11 0 1,0 22,0a11,11 0 1,0 -22,0" fill="#4fc2e6"/>
<path d="M674,163a10,10 0 1,0 20,0a10,10 0 1,0 -20,0M720,159a10,10 0 1,0 20,0a10,10 0 1,0 -20,0M672,204a10,10 0 1,0 20,0a10,10 0 1,0 -20,0M805,207a10,10 0 1,0 20,0a10,10 0 1,0 -20,0M661,224a10,10 0 1,0 20,0a10,10 0 1,0 -20,0M682,229a10,10 0 1,0 20,0a10,10 0 1,0 -20,0M750,223a10,10 0 1,0 20,0a10,10 0 1,0 -20,0M837,225a10,10 0 1,0 20,0a10,10 0 1,0 -20,0M863,228a10,10 0 1,0 20,0a10,10 0 1,0 -20,0M715,246a10,10 0 1,0 20,0a10,10 0 1,0 -20,0M806,248a10,10 0 1,0 20,0a10,10 0 1,0 -20,0M708,271a10,10 0 1,0 20,0a10,10 0 1,0 -20,0M795,269a10,10 0 1,0 20,0a10,10 0 1,0 -20,0M862,270a10,10 0 1,0 20,0a10,10 0 1,0 -20,0M782,292a10,10 0 1,0 20,0a10,10 0 1,0 -20,0M914,293a10,10 0 1,0 20,0a10,10 0 1,0 -20,0M753,313a10,10 0 1,0 20,0a10,10 0 1,0 -20,0M797,313a10,10 0 1,0 20,0a10,10 0 1,0 -20,0M820,317a10,10 0 1,0 20,0a10,10 0 1,0 -20,0" fill="#4a50c0"/>
<path d="M694,157a10,10 0 1,0 20,0a10,10 0 1,0 -20,0M740,159a10,10 0 1,0 20,0a10,10 0 1,0 -20,0M784,159a10,10 0 1,0 20,0a10,10 0 1,0 -20,0M643,179a10,10 0 1,0 20,0a10,10 0 1,0 -20,0M707,182a10,10 0 1,0 20,0a10,10 0 1,0 -20,0M753,182a10,10 0 1,0 20,0a10,10 0 1,0 -20,0M649,203a10,10 0 1,0 20,0a10,10 0 1,0 -20,0M693,207a10,10 0 1,0 20,0a10,10 0 1,0 -20,0M761,203a10,10 0 1,0 20,0a10,10 0 1,0 -20,0M783,202a10,10 0 1,0 20,0a10,10 0 1,0 -20,0M829,203a10,10 0 1,0 20,0a10,10 0 1,0 -20,0M707,227a10,10 0 1,0 20,0a10,10 0 1,0 -20,0M774,229a10,10 0 1,0 20,0a10,10 0 1,0 -20,0M816,225a10,10 0 1,0 20,0a10,10 0 1,0 -20,0M741,247a10,10 0 1,0 20,0a10,10 0 1,0 -20,0M787,246a10,10 0 1,0 20,0a10,10 0 1,0 -20,0M827,250a10,10 0 1,0 20,0a10,10 0 1,0 -20,0M874,247a10,10 0 1,0 20,0a10,10 0 1,0 -20,0M892,248a10,10 0 1,0 20,0a10,10 0 1,0 -20,0M840,268a10,10 0 1,0 20,0a10,10 0 1,0 -20,0M884,271a10,10 0 1,0 20,0a10,10 0 1,0 -20,0M907,270a10,10 0 1,0 20,0a10,10 0 1,0 -20,0M715,293a10,10 0 1,0 20,0a10,10 0 1,0 -20,0M741,293a10,10 0 1,0 20,0a10,10 0 1,0 -20,0M805,289a10,10 0 1,0 20,0a10,10 0 1,0 -20,0M874,295a10,10 0 1,0 20,0a10,10 0 1,0 -20,0M896,292a10,10 0 1,0 20,0a10,10 0 1,0 -20,0M728,311a10,10 0 1,0 20,0a10,10 0 1,0 -20,0M837,313a10,10 0 1,0 20,0a10,10 0 1,0 -20,0M863,312a10,10 0 1,0 20,0a10,10 0 1,0 -20,0M928,312a10,10 0 1,0 20,0a10,10 0 1,0 -20,0" fill="#7a6ed0"/>
<path d="M402,195a10,10 0 1,0 20,0a10,10 0 1,0 -20,0M583,195a10,10 0 1,0 20,0a10,10 0 1,0 -20,0M606,223a10,10 0 1,0 20,0a10,10 0 1,0 -20,0M420,249a10,10 0 1,0 20,0a10,10 0 1,0 -20,0M470,249a10,10 0 1,0 20,0a10,10 0 1,0 -20,0M539,250a10,10 0 1,0 20,0a10,10 0 1,0 -20,0M560,248a10,10 0 1,0 20,0a10,10 0 1,0 -20,0M581,249a10,10 0 1,0 20,0a10,10 0 1,0 -20,0M581,272a10,10 0 1,0 20,0a10,10 0 1,0 -20,0M674,272a10,10 0 1,0 20,0a10,10 0 1,0 -20,0M354,301a10,10 0 1,0 20,0a10,10 0 1,0 -20,0M375,298a10,10 0 1,0 20,0a10,10 0 1,0 -20,0M443,296a10,10 0 1,0 20,0a10,10 0 1,0 -20,0M491,299a10,10 0 1,0 20,0a10,10 0 1,0 -20,0M537,326a10,10 0 1,0 20,0a10,10 0 1,0 -20,0M559,324a10,10 0 1,0 20,0a10,10 0 1,0 -20,0" fill="#4fb8e0"/>
<path d="M444,193a9,9 0 1,0 18,0a9,9 0 1,0 -18,0M470,197a9,9 0 1,0 18,0a9,9 0 1,0 -18,0M559,198a9,9 0 1,0 18,0a9,9 0 1,0 -18,0M608,194a9,9 0 1,0 18,0a9,9 0 1,0 -18,0M632,193a9,9 0 1,0 18,0a9,9 0 1,0 -18,0M655,193a9,9 0 1,0 18,0a9,9 0 1,0 -18,0M334,218a9,9 0 1,0 18,0a9,9 0 1,0 -18,0M490,222a9,9 0 1,0 18,0a9,9 0 1,0 -18,0M540,219a9,9 0 1,0 18,0a9,9 0 1,0 -18,0M559,221a9,9 0 1,0 18,0a9,9 0 1,0 -18,0M628,218a9,9 0 1,0 18,0a9,9 0 1,0 -18,0M653,221a9,9 0 1,0 18,0a9,9 0 1,0 -18,0M352,245a9,9 0 1,0 18,0a9,9 0 1,0 -18,0M491,246a9,9 0 1,0 18,0a9,9 0 1,0 -18,0M518,244a9,9 0 1,0 18,0a9,9 0 1,0 -18,0M606,246a9,9 0 1,0 18,0a9,9 0 1,0 -18,0M655,248a9,9 0 1,0 18,0a9,9 0 1,0 -18,0M675,247a9,9 0 1,0 18,0a9,9 0 1,0 -18,0M331,276a9,9 0 1,0 18,0a9,9 0 1,0 -18,0M468,275a9,9 0 1,0 18,0a9,9 0 1,0 -18,0M513,271a9,9 0 1,0 18,0a9,9 0 1,0 -18,0M538,272a9,9 0 1,0 18,0a9,9 0 1,0 -18,0M608,272a9,9 0 1,0 18,0a9,9 0 1,0 -18,0M627,271a9,9 0 1,0 18,0a9,9 0 1,0 -18,0M423,296a9,9 0 1,0 18,0a9,9 0 1,0 -18,0M470,296a9,9 0 1,0 18,0a9,9 0 1,0 -18,0M539,297a9,9 0 1,0 18,0a9,9 0 1,0 -18,0M560,300a9,9 0 1,0 18,0a9,9 0 1,0 -18,0M583,301a9,9 0 1,0 18,0a9,9 0 1,0 -18,0M606,298a9,9 0 1,0 18,0a9,9 0 1,0 -18,0M357,327a9,9 0 1,0 18,0a9,9 0 1,0 -18,0M378,323a9,9 0 1,0 18,0a9,9 0 1,0 -18,0M399,322a9,9 0 1,0 18,0a9,9 0 1,0 -18,0M422,325a9,9 0 1,0 18,0a9,9 0 1,0 -18,0M444,324a9,9 0 1,0 18,0a9,9 0 1,0 -18,0M467,326a9,9 0 1,0 18,0a9,9 0 1,0 -18,0M490,324a9,9 0 1,0 18,0a9,9 0 1,0 -18,0M583,322a9,9 0 1,0 18,0a9,9 0 1,0 -18,0M608,325a9,9 0 1,0 18,0a9,9 0 1,0 -18,0M629,322a9,9 0 1,0 18,0a9,9 0 1,0 -18,0" fill="#5048c0"/>
<circle cx="156" cy="193" r="11" fill="#4fc2e6"/>
<circle cx="198" cy="192" r="11" fill="#6a60cc"/>
<circle cx="116" cy="222" r="11" fill="#6a60cc"/>
<circle cx="102" cy="280" r="11" fill="#6a60cc"/>
<circle cx="280" cy="180" r="11" fill="#6a60cc"/>
<circle cx="330" cy="176" r="11" fill="#6a60cc"/>
<circle cx="420" cy="168" r="11" fill="#6a60cc"/>
<circle cx="505" cy="164" r="11" fill="#6a60cc"/>
<circle cx="612" cy="158" r="11" fill="#4fc2e6"/>
<circle cx="818" cy="165" r="11" fill="#6a60cc"/>
<circle cx="900" cy="272" r="11" fill="#6a60cc"/>
<circle cx="953" cy="330" r="11" fill="#6a60cc"/>
<circle cx="948" cy="300" r="11" fill="#6a60cc"/>
<polygon points="144,338 314,333 318,416 144,430" fill="#dcc31e"/>
<polygon points="144,414 318,403 318,416 144,430" fill="#d8e030"/>
<polygon points="334,185 364,185 374,321 342,321" fill="#dcc31e"/>
<polygon points="334,185 338,185 346,321 342,321" fill="#c8ac18"/>
<polygon points="413,182 442,182 468,315 439,315" fill="#dcc31e"/>
<polygon points="413,182 417,182 443,315 439,315" fill="#c8ac18"/>
<polygon points="494,178 520,178 549,308 524,308" fill="#dcc31e"/>
<polygon points="494,178 498,178 528,308 524,308" fill="#c8ac18"/>
<polygon points="569,175 598,175 637,302 608,302" fill="#dcc31e"/>
<polygon points="569,175 573,175 612,302 608,302" fill="#c8ac18"/>
<polygon points="374,217 400,217 436,344 404,344" fill="#dcc31e"/>
<polygon points="374,217 378,217 408,344 404,344" fill="#c8ac18"/>
<polygon points="459,211 484,211 523,341 494,341" fill="#dcc31e"/>
<polygon points="459,211 463,211 498,341 494,341" fill="#c8ac18"/>
<polygon points="540,208 565,208 608,331 579,331" fill="#dcc31e"/>
<polygon points="540,208 544,208 583,331 579,331" fill="#c8ac18"/>
<polygon points="624,201 650,201 705,315 680,315" fill="#dcc31e"/>
<polygon points="624,201 628,201 684,315 680,315" fill="#c8ac18"/>
<polygon points="342,313 374,313 374,321 342,321" fill="#e8e040"/>
<polygon points="439,307 468,307 468,315 439,315" fill="#e8e040"/>
<polygon points="524,300 549,300 549,308 524,308" fill="#e8e040"/>
<polygon points="608,294 637,294 637,302 608,302" fill="#e8e040"/>
<polygon points="228,185 791,162 791,177 228,208" fill="#dcc31e"/>
<polygon points="228,201 791,172 791,179 228,209" fill="#e8e040"/>
<polygon points="643,138 767,133 768,156 643,160" fill="#d2b424"/>
<polygon points="643,153 768,149 768,157 643,161" fill="#e8e040"/>
<polygon points="312,341 832,308 835,328 312,367" fill="#dcc31e"/>
<polygon points="312,357 835,320 835,329 312,368" fill="#e8e040"/>
<rect x="1217.5" y="61" width="810.0" height="666.5" fill="#2f2a58"/>
<rect x="1330" y="137" width="672" height="545" fill="#43358e"/>
<rect x="1449" y="61" width="341" height="80" fill="#43358e"/>
<rect x="1790" y="61" width="130" height="40" fill="#3a3070"/>
<rect x="1270" y="61" width="180" height="30" fill="#2c2750"/>
<rect x="2002" y="61" width="25" height="667" fill="#2c2852"/>
<rect x="1330" y="682" width="672" height="45" fill="#34306a"/>
<rect x="1616" y="240" width="100" height="442" fill="#45378f"/>
<rect x="1616" y="353" width="100" height="145" fill="#2a4aa0"/>
<rect x="1640" y="498" width="60" height="60" fill="#2f429a"/>
<rect x="1360" y="240" width="20" height="30" fill="#2a4aa0"/>
<rect x="1331.6" y="142" width="100" height="97" fill="#dcbd72" stroke="#c8d070" stroke-width="3"/>
<rect x="1516.0" y="142" width="100" height="97" fill="#e8cd84" stroke="#d8d090" stroke-width="3"/>
<rect x="1716.0" y="142" width="100" height="97" fill="#ecd088" stroke="#d8d8a0" stroke-width="3"/>
<rect x="1900.0" y="142" width="100" height="97" fill="#e2d48c" stroke="#d0d890" stroke-width="3"/>
<rect x="1900" y="148" width="100" height="6" fill="#c8b060" opacity="0.7"/>
<rect x="1528" y="150" width="70" height="6" fill="#d0b468" opacity="0.8"/>
<path d="M1226,139 h55 v97 h-55 v-14 h40 v-30 h-40 z M1238,150 v30 h28 v-30 z" fill="#c8cc70" fill-rule="evenodd"/>
<line x1="1333.5" y1="239" x2="1333.5" y2="661" stroke="#b4b0c8" stroke-width="4.5"/>
<line x1="1612.5" y1="239" x2="1612.5" y2="681" stroke="#b4b0c8" stroke-width="4.5"/>
<line x1="1333.5" y1="298.0" x2="1598.5" y2="298.0" stroke="#b4b0c8" stroke-width="5"/>
<line x1="1347.5" y1="318.2" x2="1612.5" y2="318.2" stroke="#b4b0c8" stroke-width="5"/>
<line x1="1333.5" y1="338.4" x2="1598.5" y2="338.4" stroke="#b4b0c8" stroke-width="5"/>
<line x1="1347.5" y1="358.6" x2="1612.5" y2="358.6" stroke="#b4b0c8" stroke-width="5"/>
<line x1="1333.5" y1="378.8" x2="1598.5" y2="378.8" stroke="#b4b0c8" stroke-width="5"/>
<line x1="1347.5" y1="399.0" x2="1612.5" y2="399.0" stroke="#b4b0c8" stroke-width="5"/>
<line x1="1333.5" y1="419.2" x2="1598.5" y2="419.2" stroke="#b4b0c8" stroke-width="5"/>
<line x1="1347.5" y1="439.4" x2="1612.5" y2="439.4" stroke="#b4b0c8" stroke-width="5"/>
<line x1="1333.5" y1="459.6" x2="1598.5" y2="459.6" stroke="#b4b0c8" stroke-width="5"/>
<line x1="1347.5" y1="479.8" x2="1612.5" y2="479.8" stroke="#b4b0c8" stroke-width="5"/>
<line x1="1333.5" y1="500.0" x2="1598.5" y2="500.0" stroke="#b4b0c8" stroke-width="5"/>
<line x1="1347.5" y1="520.2" x2="1612.5" y2="520.2" stroke="#b4b0c8" stroke-width="5"/>
<line x1="1333.5" y1="540.4" x2="1598.5" y2="540.4" stroke="#b4b0c8" stroke-width="5"/>
<line x1="1347.5" y1="560.6" x2="1612.5" y2="560.6" stroke="#b4b0c8" stroke-width="5"/>
<line x1="1333.5" y1="580.8" x2="1598.5" y2="580.8" stroke="#b4b0c8" stroke-width="5"/>
<line x1="1347.5" y1="601.0" x2="1612.5" y2="601.0" stroke="#b4b0c8" stroke-width="5"/>
<line x1="1333.5" y1="621.2" x2="1598.5" y2="621.2" stroke="#b4b0c8" stroke-width="5"/>
<line x1="1347.5" y1="641.4" x2="1612.5" y2="641.4" stroke="#b4b0c8" stroke-width="5"/>
<line x1="1333.5" y1="661.6" x2="1598.5" y2="661.6" stroke="#b4b0c8" stroke-width="5"/>
<line x1="1347.5" y1="681.8" x2="1612.5" y2="681.8" stroke="#b4b0c8" stroke-width="5"/>
<line x1="1718" y1="239" x2="1718" y2="661" stroke="#b4b0c8" stroke-width="4.5"/>
<line x1="1998" y1="239" x2="1998" y2="681" stroke="#b4b0c8" stroke-width="4.5"/>
<line x1="1718" y1="298.0" x2="1984" y2="298.0" stroke="#b4b0c8" stroke-width="5"/>
<line x1="1732" y1="318.2" x2="1998" y2="318.2" stroke="#b4b0c8" stroke-width="5"/>
<line x1="1718" y1="338.4" x2="1984" y2="338.4" stroke="#b4b0c8" stroke-width="5"/>
<line x1="1732" y1="358.6" x2="1998" y2="358.6" stroke="#b4b0c8" stroke-width="5"/>
<line x1="1718" y1="378.8" x2="1984" y2="378.8" stroke="#b4b0c8" stroke-width="5"/>
<line x1="1732" y1="399.0" x2="1998" y2="399.0" stroke="#b4b0c8" stroke-width="5"/>
<line x1="1718" y1="419.2" x2="1984" y2="419.2" stroke="#b4b0c8" stroke-width="5"/>
<line x1="1732" y1="439.4" x2="1998" y2="439.4" stroke="#b4b0c8" stroke-width="5"/>
<line x1="1718" y1="459.6" x2="1984" y2="459.6" stroke="#b4b0c8" stroke-width="5"/>
<line x1="1732" y1="479.8" x2="1998" y2="479.8" stroke="#b4b0c8" stroke-width="5"/>
<line x1="1718" y1="500.0" x2="1984" y2="500.0" stroke="#b4b0c8" stroke-width="5"/>
<line x1="1732" y1="520.2" x2="1998" y2="520.2" stroke="#b4b0c8" stroke-width="5"/>
<line x1="1718" y1="540.4" x2="1984" y2="540.4" stroke="#b4b0c8" stroke-width="5"/>
<line x1="1732" y1="560.6" x2="1998" y2="560.6" stroke="#b4b0c8" stroke-width="5"/>
<line x1="1718" y1="580.8" x2="1984" y2="580.8" stroke="#b4b0c8" stroke-width="5"/>
<line x1="1732" y1="601.0" x2="1998" y2="601.0" stroke="#b4b0c8" stroke-width="5"/>
<line x1="1718" y1="621.2" x2="1984" y2="621.2" stroke="#b4b0c8" stroke-width="5"/>
<line x1="1732" y1="641.4" x2="1998" y2="641.4" stroke="#b4b0c8" stroke-width="5"/>
<line x1="1718" y1="661.6" x2="1984" y2="661.6" stroke="#b4b0c8" stroke-width="5"/>
<line x1="1732" y1="681.8" x2="1998" y2="681.8" stroke="#b4b0c8" stroke-width="5"/>
<line x1="1677" y1="236" x2="1677" y2="358" stroke="#fff" stroke-width="3"/>
<line x1="1670" y1="284" x2="1684" y2="296" stroke="#fff" stroke-width="3"/><line x1="1670" y1="296" x2="1684" y2="284" stroke="#fff" stroke-width="3"/>
<line x1="1680" y1="294" x2="1718" y2="294" stroke="#fff" stroke-width="3"/>
<text x="1655.0" y="296.0" font-size="36" text-anchor="middle" fill="#ffffff" transform="rotate(-90 1655.0 296.0)">20 μm</text>
<text x="1859.0" y="286.5" font-size="40" text-anchor="middle" fill="#ffffff">1150 μm</text>
<line x1="1722" y1="272.6" x2="1774" y2="272.6" stroke="#fff" stroke-width="3"/>
<polyline points="1733,263 1721,272.6 1733,282" fill="none" stroke="#fff" stroke-width="3"/>
<line x1="1943" y1="272.6" x2="1994" y2="272.6" stroke="#fff" stroke-width="3"/>
<polyline points="1983,263 1995,272.6 1983,282" fill="none" stroke="#fff" stroke-width="3"/>
<rect x="1965" y="710" width="55" height="12" fill="#e4e2d6"/>
<polyline points="2444.2,631.6 2446.6,631.7 2449.2,631.9 2452.0,632.0 2454.9,632.2 2457.9,632.4 2461.1,632.5 2464.4,632.7 2467.8,632.9 2471.4,633.1 2475.1,633.3 2478.9,633.5 2482.8,633.8 2486.9,634.0 2491.0,634.2 2495.2,634.5 2499.6,634.7 2504.0,635.0 2508.5,635.3 2513.1,635.5 2517.8,635.8 2522.6,636.1 2527.4,636.3 2532.4,636.6 2537.4,636.9 2542.4,637.2 2547.5,637.5 2552.7,637.8 2557.9,638.1 2563.1,638.4 2568.4,638.7 2573.8,639.0 2579.2,639.2 2584.6,639.5 2590.0,639.8 2595.5,640.1 2601.0,640.4 2606.5,640.7 2612.0,641.0 2617.5,641.3 2623.0,641.5 2628.5,641.8 2634.1,642.1 2639.6,642.4 2645.1,642.6 2650.5,642.9 2656.0,643.1 2661.4,643.4 2666.9,643.6 2672.2,643.9 2677.6,644.1 2682.9,644.3 2688.1,644.5 2693.4,644.7 2698.5,644.9 2703.6,645.1 2708.7,645.3 2713.7,645.4 2718.6,645.6 2723.4,645.7 2728.2,645.9 2733.0,646.0 2737.8,646.1 2742.7,646.2 2747.7,646.3 2752.8,646.4 2757.9,646.5 2763.0,646.6 2768.3,646.7 2773.5,646.8 2778.8,646.9 2784.2,646.9 2789.5,647.0 2795.0,647.1 2800.4,647.1 2805.9,647.2 2811.3,647.2 2816.8,647.3 2822.3,647.3 2827.9,647.3 2833.4,647.4 2838.9,647.4 2844.4,647.4 2849.9,647.4 2855.4,647.4 2860.9,647.5 2866.4,647.5 2871.8,647.5 2877.2,647.5 2882.6,647.5 2887.9,647.5 2893.3,647.5 2898.5,647.5 2903.7,647.5 2908.9,647.5 2914.0,647.5 2919.0,647.4 2924.0,647.4 2929.0,647.4 2933.8,647.4 2938.6,647.4 2943.3,647.4 2947.9,647.4 2952.4,647.4 2956.8,647.4 2961.2,647.3 2965.4,647.3 2969.5,647.3 2973.6,647.3 2977.5,647.3 2981.3,647.3 2985.0,647.3 2988.6,647.3 2992.0,647.3 2995.3,647.3 2998.5,647.3 3001.5,647.3 3004.4,647.3 3007.2,647.3 3009.8,647.3 3012.2,647.3" fill="none" stroke="#555" stroke-width="4" stroke-dasharray="9,9" stroke-linejoin="round"/>
<polyline points="2444.2,615.2 2446.6,613.6 2449.2,611.9 2452.0,610.1 2454.9,608.2 2457.9,606.2 2461.1,604.1 2464.4,602.0 2467.8,599.7 2471.4,597.4 2475.1,595.1 2478.9,592.6 2482.8,590.1 2486.9,587.5 2491.0,584.8 2495.2,582.1 2499.6,579.3 2504.0,576.5 2508.5,573.6 2513.1,570.6 2517.8,567.6 2522.6,564.5 2527.4,561.4 2532.4,558.2 2537.4,555.0 2542.4,551.7 2547.5,548.4 2552.7,545.1 2557.9,541.7 2563.1,538.3 2568.4,534.8 2573.8,531.3 2579.2,527.8 2584.6,524.3 2590.0,520.7 2595.5,517.1 2601.0,513.5 2606.5,509.8 2612.0,506.2 2617.5,502.5 2623.0,498.8 2628.5,495.1 2634.1,491.4 2639.6,487.6 2645.1,483.9 2650.5,480.2 2656.0,476.4 2661.4,472.7 2666.9,469.0 2672.2,465.2 2677.6,461.5 2682.9,457.8 2688.1,454.1 2693.4,450.4 2698.5,446.7 2703.6,443.0 2708.7,439.4 2713.7,435.8 2718.6,432.1 2723.4,428.6 2728.2,425.0 2733.0,421.4 2737.8,417.7 2742.7,414.0 2747.7,410.1 2752.8,406.2 2757.9,402.2 2763.0,398.2 2768.3,394.1 2773.5,389.9 2778.8,385.7 2784.2,381.4 2789.5,377.1 2795.0,372.7 2800.4,368.3 2805.9,363.9 2811.3,359.4 2816.8,354.9 2822.3,350.4 2827.9,345.8 2833.4,341.2 2838.9,336.7 2844.4,332.1 2849.9,327.5 2855.4,322.9 2860.9,318.3 2866.4,313.7 2871.8,309.2 2877.2,304.6 2882.6,300.1 2887.9,295.5 2893.3,291.1 2898.5,286.6 2903.7,282.2 2908.9,277.8 2914.0,273.4 2919.0,269.2 2924.0,264.9 2929.0,260.7 2933.8,256.6 2938.6,252.5 2943.3,248.5 2947.9,244.5 2952.4,240.7 2956.8,236.9 2961.2,233.2 2965.4,229.6 2969.5,226.0 2973.6,222.6 2977.5,219.2 2981.3,216.0 2985.0,212.8 2988.6,209.8 2992.0,206.9 2995.3,204.1 2998.5,201.4 3001.5,198.8 3004.4,196.4 3007.2,194.1 3009.8,191.9 3012.2,189.9" fill="none" stroke="#4a4a4a" stroke-width="4" stroke-dasharray="9,9" stroke-linejoin="round"/>
<polyline points="2444.2,630.2 2446.6,629.4 2449.2,628.5 2452.0,627.6 2454.9,626.7 2457.9,625.7 2461.1,624.7 2464.4,623.6 2467.8,622.6 2471.4,621.5 2475.1,620.3 2478.9,619.2 2482.8,618.0 2486.9,616.8 2491.0,615.5 2495.2,614.2 2499.6,612.9 2504.0,611.6 2508.5,610.2 2513.1,608.8 2517.8,607.4 2522.6,605.9 2527.4,604.5 2532.4,603.0 2537.4,601.4 2542.4,599.9 2547.5,598.3 2552.7,596.7 2557.9,595.1 2563.1,593.4 2568.4,591.7 2573.8,590.0 2579.2,588.3 2584.6,586.5 2590.0,584.8 2595.5,583.0 2601.0,581.2 2606.5,579.3 2612.0,577.5 2617.5,575.6 2623.0,573.7 2628.5,571.8 2634.1,569.8 2639.6,567.9 2645.1,565.9 2650.5,563.9 2656.0,561.9 2661.4,559.8 2666.9,557.8 2672.2,555.7 2677.6,553.6 2682.9,551.5 2688.1,549.4 2693.4,547.2 2698.5,545.1 2703.6,542.9 2708.7,540.7 2713.7,538.5 2718.6,536.3 2723.4,534.1 2728.2,531.9 2733.0,529.6 2737.8,527.2 2742.7,524.8 2747.7,522.2 2752.8,519.6 2757.9,516.9 2763.0,514.2 2768.3,511.4 2773.5,508.5 2778.8,505.6 2784.2,502.6 2789.5,499.6 2795.0,496.5 2800.4,493.4 2805.9,490.2 2811.3,487.0 2816.8,483.8 2822.3,480.5 2827.9,477.2 2833.4,473.9 2838.9,470.6 2844.4,467.2 2849.9,463.9 2855.4,460.5 2860.9,457.1 2866.4,453.7 2871.8,450.3 2877.2,447.0 2882.6,443.6 2887.9,440.2 2893.3,436.9 2898.5,433.5 2903.7,430.2 2908.9,426.9 2914.0,423.7 2919.0,420.5 2924.0,417.3 2929.0,414.1 2933.8,411.0 2938.6,407.9 2943.3,404.9 2947.9,401.9 2952.4,399.0 2956.8,396.1 2961.2,393.3 2965.4,390.6 2969.5,387.9 2973.6,385.3 2977.5,382.8 2981.3,380.3 2985.0,378.0 2988.6,375.7 2992.0,373.5 2995.3,371.4 2998.5,369.4 3001.5,367.5 3004.4,365.7 3007.2,364.0 3009.8,362.4 3012.2,360.9" fill="none" stroke="#e0305a" stroke-width="4" stroke-dasharray="9,9" stroke-linejoin="round"/>
<g><circle cx="2444.2" cy="631.6" r="8.5" fill="#666" stroke="#444" stroke-width="1.5"/><circle cx="2728.2" cy="645.9" r="8.5" fill="#666" stroke="#444" stroke-width="1.5"/><circle cx="3012.2" cy="647.3" r="8.5" fill="#666" stroke="#444" stroke-width="1.5"/></g>
<g><circle cx="2444.2" cy="630.2" r="8.5" fill="#e02848" stroke="#444" stroke-width="1.5"/><circle cx="2728.2" cy="531.9" r="8.5" fill="#e02848" stroke="#444" stroke-width="1.5"/><circle cx="3012.2" cy="360.9" r="8.5" fill="#e02848" stroke="#444" stroke-width="1.5"/></g>
<g><circle cx="2444.2" cy="615.2" r="8.5" fill="#3a62d0" stroke="#444" stroke-width="1.5"/><circle cx="2728.2" cy="425.0" r="8.5" fill="#3a62d0" stroke="#444" stroke-width="1.5"/><circle cx="3012.2" cy="189.9" r="8.5" fill="#3a62d0" stroke="#444" stroke-width="1.5"/></g>
<rect x="2359.0" y="83.0" width="710.0" height="570.0" fill="none" stroke="#262626" stroke-width="4.5"/>
<line x1="2359.0" y1="653.0" x2="2359.0" y2="641.0" stroke="#262626" stroke-width="3"/>
<line x1="2430.0" y1="653.0" x2="2430.0" y2="646.0" stroke="#262626" stroke-width="3"/>
<line x1="2501.0" y1="653.0" x2="2501.0" y2="641.0" stroke="#262626" stroke-width="3"/>
<line x1="2572.0" y1="653.0" x2="2572.0" y2="646.0" stroke="#262626" stroke-width="3"/>
<line x1="2643.0" y1="653.0" x2="2643.0" y2="641.0" stroke="#262626" stroke-width="3"/>
<line x1="2714.0" y1="653.0" x2="2714.0" y2="646.0" stroke="#262626" stroke-width="3"/>
<line x1="2785.0" y1="653.0" x2="2785.0" y2="641.0" stroke="#262626" stroke-width="3"/>
<line x1="2856.0" y1="653.0" x2="2856.0" y2="646.0" stroke="#262626" stroke-width="3"/>
<line x1="2927.0" y1="653.0" x2="2927.0" y2="641.0" stroke="#262626" stroke-width="3"/>
<line x1="2998.0" y1="653.0" x2="2998.0" y2="646.0" stroke="#262626" stroke-width="3"/>
<line x1="3069.0" y1="653.0" x2="3069.0" y2="641.0" stroke="#262626" stroke-width="3"/>
<line x1="2359.0" y1="653.0" x2="2371.0" y2="653.0" stroke="#262626" stroke-width="3"/>
<line x1="2359.0" y1="617.4" x2="2366.0" y2="617.4" stroke="#262626" stroke-width="3"/>
<line x1="2359.0" y1="581.8" x2="2371.0" y2="581.8" stroke="#262626" stroke-width="3"/>
<line x1="2359.0" y1="546.1" x2="2366.0" y2="546.1" stroke="#262626" stroke-width="3"/>
<line x1="2359.0" y1="510.5" x2="2371.0" y2="510.5" stroke="#262626" stroke-width="3"/>
<line x1="2359.0" y1="474.9" x2="2366.0" y2="474.9" stroke="#262626" stroke-width="3"/>
<line x1="2359.0" y1="439.2" x2="2371.0" y2="439.2" stroke="#262626" stroke-width="3"/>
<line x1="2359.0" y1="403.6" x2="2366.0" y2="403.6" stroke="#262626" stroke-width="3"/>
<line x1="2359.0" y1="368.0" x2="2371.0" y2="368.0" stroke="#262626" stroke-width="3"/>
<line x1="2359.0" y1="332.4" x2="2366.0" y2="332.4" stroke="#262626" stroke-width="3"/>
<line x1="2359.0" y1="296.8" x2="2371.0" y2="296.8" stroke="#262626" stroke-width="3"/>
<line x1="2359.0" y1="261.1" x2="2366.0" y2="261.1" stroke="#262626" stroke-width="3"/>
<line x1="2359.0" y1="225.5" x2="2371.0" y2="225.5" stroke="#262626" stroke-width="3"/>
<line x1="2359.0" y1="189.9" x2="2366.0" y2="189.9" stroke="#262626" stroke-width="3"/>
<line x1="2359.0" y1="154.2" x2="2371.0" y2="154.2" stroke="#262626" stroke-width="3"/>
<line x1="2359.0" y1="118.6" x2="2366.0" y2="118.6" stroke="#262626" stroke-width="3"/>
<line x1="2359.0" y1="83.0" x2="2371.0" y2="83.0" stroke="#262626" stroke-width="3"/>
<text x="2359.0" y="694.0" font-size="34" text-anchor="middle" fill="#111">350</text>
<text x="2501.0" y="694.0" font-size="34" text-anchor="middle" fill="#111">400</text>
<text x="2643.0" y="694.0" font-size="34" text-anchor="middle" fill="#111">450</text>
<text x="2785.0" y="694.0" font-size="34" text-anchor="middle" fill="#111">500</text>
<text x="2927.0" y="694.0" font-size="34" text-anchor="middle" fill="#111">550</text>
<text x="3069.0" y="694.0" font-size="34" text-anchor="middle" fill="#111">600</text>
<text x="2347.0" y="663.0" font-size="34" text-anchor="end" fill="#111">0</text>
<text x="2347.0" y="591.8" font-size="34" text-anchor="end" fill="#111">10</text>
<text x="2347.0" y="520.5" font-size="34" text-anchor="end" fill="#111">20</text>
<text x="2347.0" y="449.2" font-size="34" text-anchor="end" fill="#111">30</text>
<text x="2347.0" y="378.0" font-size="34" text-anchor="end" fill="#111">40</text>
<text x="2347.0" y="306.8" font-size="34" text-anchor="end" fill="#111">50</text>
<text x="2347.0" y="235.5" font-size="34" text-anchor="end" fill="#111">60</text>
<text x="2347.0" y="164.2" font-size="34" text-anchor="end" fill="#111">70</text>
<text x="2347.0" y="93.0" font-size="34" text-anchor="end" fill="#111">80</text>
<text x="2721.0" y="750.0" font-size="51" text-anchor="middle" fill="#111">Light wavelength (nm)</text>
<text x="2279.0" y="401.0" font-size="51" text-anchor="middle" fill="#111" transform="rotate(-90 2279.0 401.0)">Photocurrent (μA)</text>
<line x1="2370.0" y1="110.0" x2="2455.0" y2="110.0" stroke="#555" stroke-width="4" stroke-dasharray="9,9"/>
<circle cx="2414.0" cy="110.0" r="8.5" fill="#666" stroke="#444" stroke-width="1.5"/>
<text x="2466.0" y="122.0" font-size="35" text-anchor="start" fill="#111">TiO<tspan font-size="22.8" dy="7.7">2</tspan></text>
<line x1="2370.0" y1="164.3" x2="2455.0" y2="164.3" stroke="#e0305a" stroke-width="4" stroke-dasharray="9,9"/>
<circle cx="2414.0" cy="164.3" r="8.5" fill="#e02848" stroke="#444" stroke-width="1.5"/>
<text x="2466.0" y="176.3" font-size="35" text-anchor="start" fill="#111">TiO<tspan font-size="22.8" dy="7.7">2</tspan><tspan dy="-7.7">@GaO</tspan><tspan font-size="22.8" dy="7.7">x</tspan><tspan dy="-7.7">N</tspan><tspan font-size="22.8" dy="7.7">y</tspan></text>
<line x1="2370.0" y1="218.6" x2="2455.0" y2="218.6" stroke="#4a4a4a" stroke-width="4" stroke-dasharray="9,9"/>
<circle cx="2414.0" cy="218.6" r="8.5" fill="#3a62d0" stroke="#444" stroke-width="1.5"/>
<text x="2466.0" y="230.6" font-size="35" text-anchor="start" fill="#111">TiO<tspan font-size="22.8" dy="7.7">2</tspan><tspan dy="-7.7">@GaO</tspan><tspan font-size="22.8" dy="7.7">x</tspan><tspan dy="-7.7">N</tspan><tspan font-size="22.8" dy="7.7">y</tspan><tspan dy="-7.7">-Ag</tspan></text>
<polyline points="272.4,1159.4 275.9,1159.9 279.3,1160.4 282.8,1160.9 286.3,1161.4 289.7,1162.0 293.2,1162.5 296.6,1163.1 300.1,1163.6 303.6,1164.2 307.0,1164.8 310.5,1165.4 314.0,1166.0 317.4,1166.6 320.9,1167.2 324.3,1167.8 327.8,1168.4 331.3,1169.0 334.7,1169.7 338.2,1170.3 341.6,1171.0 345.1,1171.6 348.6,1172.3 352.0,1172.9 355.5,1173.6 359.0,1174.3 362.4,1174.9 365.9,1175.6 369.3,1176.3 372.8,1177.0 376.3,1177.7 379.7,1178.4 383.2,1179.1 386.7,1179.8 390.1,1180.5 393.6,1181.3 397.0,1182.0 400.5,1182.7 404.0,1183.4 407.4,1184.0 410.9,1184.7 414.4,1185.4 417.8,1186.0 421.3,1186.7 424.7,1187.4 428.2,1188.1 431.7,1188.8 435.1,1189.5 438.6,1190.3 442.0,1191.0 445.5,1191.8 449.0,1192.7 452.4,1193.5 455.9,1194.4 459.4,1195.4 462.8,1196.4 466.3,1197.4 469.7,1198.5 473.2,1199.7 476.7,1200.9 480.1,1202.1 483.6,1203.5 487.1,1205.2 490.5,1207.1 494.0,1209.2 497.4,1211.6 500.9,1214.1 504.4,1216.7 507.8,1219.5 511.3,1222.3 514.8,1225.2 518.2,1228.1 521.7,1231.0 525.1,1233.9 528.6,1236.8 532.1,1239.5 535.5,1242.2 539.0,1244.8 542.4,1247.4 545.9,1250.0 549.4,1252.7 552.8,1255.5 556.3,1258.4 559.8,1261.5 563.2,1264.9 566.7,1268.4 570.1,1272.3 573.6,1276.5 577.1,1281.0 580.5,1285.9 584.0,1291.3 587.5,1297.7 590.9,1306.2 594.4,1317.9 597.8,1340.7 601.3,1382.4 604.8,1357.2 608.2,1329.4 611.7,1307.3 615.1,1296.9 618.6,1289.0 622.1,1282.8 625.5,1277.6 629.0,1272.8 632.5,1267.7 635.9,1262.4 639.4,1257.3 642.8,1252.4 646.3,1247.7 649.8,1243.2 653.2,1239.1 656.7,1235.3 660.2,1231.9 663.6,1228.9 667.1,1226.4 670.5,1224.0 674.0,1221.7 677.5,1219.5 680.9,1217.5 684.4,1215.5 687.8,1213.6 691.3,1211.8 694.8,1210.1 698.2,1208.4 701.7,1206.9 705.2,1205.4 708.6,1204.0 712.1,1202.6 715.5,1201.4 719.0,1200.2 722.5,1199.0 725.9,1197.9 729.4,1196.9 732.9,1195.9 736.3,1195.0 739.8,1194.1 743.2,1193.2 746.7,1192.4 750.2,1191.6 753.6,1190.8 757.1,1190.1 760.6,1189.3 764.0,1188.6 767.5,1188.0 770.9,1187.3 774.4,1186.6 777.9,1186.0 781.3,1185.4 784.8,1184.8 788.2,1184.2 791.7,1183.7 795.2,1183.1 798.6,1182.6 802.1,1182.0 805.6,1181.5 809.0,1181.0 812.5,1180.5 815.9,1180.0 819.4,1179.4 822.9,1178.9 826.3,1178.4 829.8,1177.9 833.3,1177.4 836.7,1176.9 840.2,1176.4 843.6,1175.9 847.1,1175.4 850.6,1174.9 854.0,1174.5 857.5,1174.0 860.9,1173.5 864.4,1173.0 867.9,1172.6 871.3,1172.1 874.8,1171.6 878.3,1171.2 881.7,1170.8 885.2,1170.3 888.6,1169.9 892.1,1169.5 895.6,1169.0 899.0,1168.6 902.5,1168.2 906.0,1167.8 909.4,1167.4 912.9,1167.0 916.3,1166.6 919.8,1166.3 923.3,1165.9 926.7,1165.6 930.2,1165.2 933.7,1164.9 937.1,1164.5 940.6,1164.2 944.0,1163.9 947.5,1163.6 951.0,1163.3 954.4,1163.0 957.9,1162.7 961.3,1162.4 964.8,1162.2 968.3,1161.9 971.7,1161.7" fill="none" stroke="#5a5a5a" stroke-width="3" stroke-linejoin="round" marker-start="url(#m0)" marker-mid="url(#m0)" marker-end="url(#m0)"/>
<polyline points="272.4,995.4 275.9,995.9 279.3,996.4 282.8,997.0 286.3,997.5 289.7,998.0 293.2,998.6 296.6,999.1 300.1,999.7 303.6,1000.3 307.0,1000.9 310.5,1001.5 314.0,1002.2 317.4,1002.8 320.9,1003.5 324.3,1004.1 327.8,1004.8 331.3,1005.5 334.7,1006.2 338.2,1006.9 341.6,1007.6 345.1,1008.3 348.6,1009.0 352.0,1009.7 355.5,1010.5 359.0,1011.2 362.4,1012.0 365.9,1012.8 369.3,1013.5 372.8,1014.3 376.3,1015.1 379.7,1015.9 383.2,1016.7 386.7,1017.5 390.1,1018.3 393.6,1019.1 397.0,1020.0 400.5,1020.8 404.0,1021.6 407.4,1022.5 410.9,1023.3 414.4,1024.2 417.8,1025.1 421.3,1026.0 424.7,1026.9 428.2,1027.9 431.7,1028.8 435.1,1029.8 438.6,1030.8 442.0,1031.8 445.5,1032.8 449.0,1033.9 452.4,1034.9 455.9,1036.0 459.4,1037.2 462.8,1038.3 466.3,1039.5 469.7,1040.7 473.2,1041.9 476.7,1043.1 480.1,1044.4 483.6,1045.7 487.1,1047.1 490.5,1048.5 494.0,1049.9 497.4,1051.3 500.9,1052.8 504.4,1054.4 507.8,1056.0 511.3,1057.6 514.8,1059.3 518.2,1061.1 521.7,1062.9 525.1,1064.8 528.6,1066.8 532.1,1068.8 535.5,1070.9 539.0,1073.1 542.4,1075.4 545.9,1077.8 549.4,1080.2 552.8,1082.7 556.3,1085.3 559.8,1088.1 563.2,1091.2 566.7,1094.5 570.1,1098.3 573.6,1102.4 577.1,1107.1 580.5,1112.4 584.0,1119.3 587.5,1128.8 590.9,1141.0 594.4,1160.1 597.8,1186.7 601.3,1218.5 604.8,1190.3 608.2,1162.5 611.7,1141.6 615.1,1131.0 618.6,1122.6 622.1,1115.9 625.5,1110.3 629.0,1105.3 632.5,1100.3 635.9,1095.1 639.4,1090.0 642.8,1085.1 646.3,1080.5 649.8,1076.1 653.2,1072.1 656.7,1068.4 660.2,1065.1 663.6,1062.2 667.1,1059.9 670.5,1057.7 674.0,1055.6 677.5,1053.6 680.9,1051.7 684.4,1050.0 687.8,1048.3 691.3,1046.7 694.8,1045.2 698.2,1043.8 701.7,1042.4 705.2,1041.1 708.6,1039.8 712.1,1038.6 715.5,1037.5 719.0,1036.3 722.5,1035.2 725.9,1034.1 729.4,1033.1 732.9,1032.0 736.3,1031.0 739.8,1029.9 743.2,1028.9 746.7,1027.9 750.2,1027.0 753.6,1026.0 757.1,1025.1 760.6,1024.2 764.0,1023.3 767.5,1022.4 770.9,1021.6 774.4,1020.8 777.9,1020.0 781.3,1019.2 784.8,1018.4 788.2,1017.7 791.7,1017.0 795.2,1016.3 798.6,1015.6 802.1,1014.9 805.6,1014.3 809.0,1013.7 812.5,1013.1 815.9,1012.5 819.4,1012.0 822.9,1011.5 826.3,1010.9 829.8,1010.4 833.3,1009.9 836.7,1009.3 840.2,1008.8 843.6,1008.3 847.1,1007.8 850.6,1007.3 854.0,1006.8 857.5,1006.3 860.9,1005.8 864.4,1005.3 867.9,1004.8 871.3,1004.3 874.8,1003.9 878.3,1003.4 881.7,1003.0 885.2,1002.5 888.6,1002.1 892.1,1001.6 895.6,1001.2 899.0,1000.8 902.5,1000.4 906.0,1000.0 909.4,999.7 912.9,999.3 916.3,999.0 919.8,998.6 923.3,998.3 926.7,998.0 930.2,997.7 933.7,997.4 937.1,997.1 940.6,996.8 944.0,996.6 947.5,996.4 951.0,996.1 954.4,995.9 957.9,995.7 961.3,995.6 964.8,995.4 968.3,995.3 971.7,995.2" fill="none" stroke="#d9557c" stroke-width="3" stroke-linejoin="round" marker-start="url(#m1)" marker-mid="url(#m1)" marker-end="url(#m1)"/>
<polyline points="272.4,924.7 275.9,925.6 279.3,926.4 282.8,927.3 286.3,928.1 289.7,928.9 293.2,929.8 296.6,930.6 300.1,931.5 303.6,932.3 307.0,933.2 310.5,934.1 314.0,934.9 317.4,935.8 320.9,936.7 324.3,937.5 327.8,938.4 331.3,939.3 334.7,940.1 338.2,941.0 341.6,941.9 345.1,942.8 348.6,943.7 352.0,944.6 355.5,945.4 359.0,946.3 362.4,947.2 365.9,948.1 369.3,949.0 372.8,949.9 376.3,950.8 379.7,951.7 383.2,952.6 386.7,953.5 390.1,954.4 393.6,955.3 397.0,956.2 400.5,957.1 404.0,958.0 407.4,958.8 410.9,959.6 414.4,960.5 417.8,961.3 421.3,962.1 424.7,962.9 428.2,963.7 431.7,964.5 435.1,965.4 438.6,966.2 442.0,967.1 445.5,968.0 449.0,968.9 452.4,969.8 455.9,970.8 459.4,971.8 462.8,972.9 466.3,974.0 469.7,975.1 473.2,976.3 476.7,977.6 480.1,978.9 483.6,980.2 487.1,981.7 490.5,983.3 494.0,984.9 497.4,986.7 500.9,988.5 504.4,990.5 507.8,992.5 511.3,994.6 514.8,996.8 518.2,999.1 521.7,1001.4 525.1,1003.9 528.6,1006.4 532.1,1009.0 535.5,1011.6 539.0,1014.4 542.4,1017.2 545.9,1020.0 549.4,1022.9 552.8,1025.7 556.3,1028.5 559.8,1031.4 563.2,1034.4 566.7,1037.8 570.1,1041.5 573.6,1045.7 577.1,1050.5 580.5,1055.9 584.0,1062.1 587.5,1069.5 590.9,1082.1 594.4,1099.7 597.8,1120.2 601.3,1141.4 604.8,1108.8 608.2,1081.1 611.7,1064.7 615.1,1054.8 618.6,1046.8 622.1,1040.3 625.5,1034.9 629.0,1030.2 632.5,1025.8 635.9,1021.5 639.4,1017.5 642.8,1013.9 646.3,1010.4 649.8,1007.2 653.2,1004.3 656.7,1001.5 660.2,999.0 663.6,996.6 667.1,994.3 670.5,992.1 674.0,990.0 677.5,988.0 680.9,986.0 684.4,984.0 687.8,982.2 691.3,980.4 694.8,978.6 698.2,976.9 701.7,975.3 705.2,973.8 708.6,972.3 712.1,970.9 715.5,969.5 719.0,968.2 722.5,967.0 725.9,965.9 729.4,964.8 732.9,963.8 736.3,962.8 739.8,961.9 743.2,961.0 746.7,960.2 750.2,959.3 753.6,958.5 757.1,957.7 760.6,957.0 764.0,956.3 767.5,955.6 770.9,954.9 774.4,954.2 777.9,953.6 781.3,952.9 784.8,952.3 788.2,951.7 791.7,951.1 795.2,950.5 798.6,949.9 802.1,949.4 805.6,948.8 809.0,948.2 812.5,947.6 815.9,947.0 819.4,946.4 822.9,945.8 826.3,945.2 829.8,944.6 833.3,944.1 836.7,943.5 840.2,942.9 843.6,942.3 847.1,941.7 850.6,941.2 854.0,940.6 857.5,940.0 860.9,939.5 864.4,938.9 867.9,938.4 871.3,937.8 874.8,937.3 878.3,936.7 881.7,936.2 885.2,935.7 888.6,935.2 892.1,934.6 895.6,934.1 899.0,933.6 902.5,933.1 906.0,932.6 909.4,932.1 912.9,931.6 916.3,931.1 919.8,930.6 923.3,930.2 926.7,929.7 930.2,929.2 933.7,928.8 937.1,928.3 940.6,927.9 944.0,927.4 947.5,927.0 951.0,926.6 954.4,926.2 957.9,925.8 961.3,925.4 964.8,925.0 968.3,924.6 971.7,924.2" fill="none" stroke="#4a78c8" stroke-width="3" stroke-linejoin="round" marker-start="url(#m2)" marker-mid="url(#m2)" marker-end="url(#m2)"/>
<polyline points="272.4,900.8 275.9,901.6 279.3,902.4 282.8,903.1 286.3,903.9 289.7,904.7 293.2,905.6 296.6,906.4 300.1,907.2 303.6,908.0 307.0,908.9 310.5,909.7 314.0,910.5 317.4,911.4 320.9,912.2 324.3,913.1 327.8,914.0 331.3,914.9 334.7,915.7 338.2,916.6 341.6,917.5 345.1,918.4 348.6,919.3 352.0,920.2 355.5,921.1 359.0,922.0 362.4,923.0 365.9,923.9 369.3,924.8 372.8,925.7 376.3,926.7 379.7,927.6 383.2,928.6 386.7,929.5 390.1,930.5 393.6,931.4 397.0,932.4 400.5,933.3 404.0,934.2 407.4,935.2 410.9,936.1 414.4,937.0 417.8,938.0 421.3,938.9 424.7,939.8 428.2,940.8 431.7,941.7 435.1,942.7 438.6,943.7 442.0,944.7 445.5,945.7 449.0,946.8 452.4,947.8 455.9,948.9 459.4,950.1 462.8,951.2 466.3,952.4 469.7,953.7 473.2,954.9 476.7,956.2 480.1,957.6 483.6,959.0 487.1,960.4 490.5,961.8 494.0,963.3 497.4,964.9 500.9,966.5 504.4,968.1 507.8,969.8 511.3,971.6 514.8,973.4 518.2,975.4 521.7,977.4 525.1,979.5 528.6,981.7 532.1,984.0 535.5,986.4 539.0,988.9 542.4,991.6 545.9,994.4 549.4,997.2 552.8,1000.1 556.3,1003.0 559.8,1006.1 563.2,1009.5 566.7,1013.3 570.1,1017.5 573.6,1022.2 577.1,1027.6 580.5,1033.7 584.0,1040.6 587.5,1048.5 590.9,1057.3 594.4,1074.5 597.8,1100.3 601.3,1128.1 604.8,1089.0 608.2,1056.2 611.7,1039.3 615.1,1031.1 618.6,1024.8 622.1,1020.0 625.5,1016.0 629.0,1012.3 632.5,1008.1 635.9,1003.4 639.4,998.6 642.8,993.9 646.3,989.3 649.8,984.8 653.2,980.6 656.7,976.7 660.2,973.2 663.6,970.2 667.1,967.7 670.5,965.3 674.0,963.1 677.5,960.9 680.9,958.9 684.4,956.9 687.8,955.1 691.3,953.3 694.8,951.6 698.2,950.0 701.7,948.4 705.2,947.0 708.6,945.6 712.1,944.2 715.5,942.9 719.0,941.7 722.5,940.5 725.9,939.4 729.4,938.3 732.9,937.2 736.3,936.2 739.8,935.1 743.2,934.2 746.7,933.2 750.2,932.3 753.6,931.4 757.1,930.5 760.6,929.6 764.0,928.8 767.5,928.0 770.9,927.2 774.4,926.4 777.9,925.7 781.3,924.9 784.8,924.2 788.2,923.5 791.7,922.9 795.2,922.2 798.6,921.6 802.1,921.0 805.6,920.4 809.0,919.8 812.5,919.2 815.9,918.6 819.4,918.1 822.9,917.5 826.3,917.0 829.8,916.4 833.3,915.9 836.7,915.4 840.2,914.8 843.6,914.3 847.1,913.8 850.6,913.3 854.0,912.8 857.5,912.3 860.9,911.8 864.4,911.3 867.9,910.8 871.3,910.3 874.8,909.8 878.3,909.4 881.7,908.9 885.2,908.4 888.6,908.0 892.1,907.6 895.6,907.1 899.0,906.7 902.5,906.3 906.0,905.9 909.4,905.5 912.9,905.1 916.3,904.7 919.8,904.4 923.3,904.0 926.7,903.7 930.2,903.3 933.7,903.0 937.1,902.7 940.6,902.4 944.0,902.1 947.5,901.9 951.0,901.6 954.4,901.4 957.9,901.1 961.3,900.9 964.8,900.7 968.3,900.5 971.7,900.3" fill="none" stroke="#3d9478" stroke-width="3" stroke-linejoin="round" marker-start="url(#m3)" marker-mid="url(#m3)" marker-end="url(#m3)"/>
<rect x="169.0" y="805.0" width="865.0" height="697.0" fill="none" stroke="#262626" stroke-width="5"/>
<line x1="168.5" y1="1502.0" x2="168.5" y2="1495.0" stroke="#262626" stroke-width="3"/>
<line x1="255.1" y1="1502.0" x2="255.1" y2="1489.0" stroke="#262626" stroke-width="3"/>
<line x1="341.6" y1="1502.0" x2="341.6" y2="1495.0" stroke="#262626" stroke-width="3"/>
<line x1="428.2" y1="1502.0" x2="428.2" y2="1489.0" stroke="#262626" stroke-width="3"/>
<line x1="514.8" y1="1502.0" x2="514.8" y2="1495.0" stroke="#262626" stroke-width="3"/>
<line x1="601.3" y1="1502.0" x2="601.3" y2="1489.0" stroke="#262626" stroke-width="3"/>
<line x1="687.8" y1="1502.0" x2="687.8" y2="1495.0" stroke="#262626" stroke-width="3"/>
<line x1="774.4" y1="1502.0" x2="774.4" y2="1489.0" stroke="#262626" stroke-width="3"/>
<line x1="860.9" y1="1502.0" x2="860.9" y2="1495.0" stroke="#262626" stroke-width="3"/>
<line x1="947.5" y1="1502.0" x2="947.5" y2="1489.0" stroke="#262626" stroke-width="3"/>
<line x1="1034.0" y1="1502.0" x2="1034.0" y2="1495.0" stroke="#262626" stroke-width="3"/>
<text x="255.1" y="1552.0" font-size="40" text-anchor="middle" fill="#111">-1.0</text>
<text x="428.2" y="1552.0" font-size="40" text-anchor="middle" fill="#111">-0.5</text>
<text x="601.3" y="1552.0" font-size="40" text-anchor="middle" fill="#111">0.0</text>
<text x="774.4" y="1552.0" font-size="40" text-anchor="middle" fill="#111">0.5</text>
<text x="947.5" y="1552.0" font-size="40" text-anchor="middle" fill="#111">1.0</text>
<line x1="169.0" y1="1502.0" x2="183.0" y2="1502.0" stroke="#262626" stroke-width="3"/>
<line x1="169.0" y1="1475.3" x2="176.0" y2="1475.3" stroke="#262626" stroke-width="2.5"/>
<line x1="169.0" y1="1459.7" x2="176.0" y2="1459.7" stroke="#262626" stroke-width="2.5"/>
<line x1="169.0" y1="1448.7" x2="176.0" y2="1448.7" stroke="#262626" stroke-width="2.5"/>
<line x1="169.0" y1="1440.1" x2="176.0" y2="1440.1" stroke="#262626" stroke-width="2.5"/>
<line x1="169.0" y1="1433.1" x2="176.0" y2="1433.1" stroke="#262626" stroke-width="2.5"/>
<line x1="169.0" y1="1427.1" x2="176.0" y2="1427.1" stroke="#262626" stroke-width="2.5"/>
<line x1="169.0" y1="1422.0" x2="176.0" y2="1422.0" stroke="#262626" stroke-width="2.5"/>
<line x1="169.0" y1="1417.5" x2="176.0" y2="1417.5" stroke="#262626" stroke-width="2.5"/>
<line x1="169.0" y1="1413.4" x2="183.0" y2="1413.4" stroke="#262626" stroke-width="3"/>
<line x1="169.0" y1="1386.7" x2="176.0" y2="1386.7" stroke="#262626" stroke-width="2.5"/>
<line x1="169.0" y1="1371.1" x2="176.0" y2="1371.1" stroke="#262626" stroke-width="2.5"/>
<line x1="169.0" y1="1360.1" x2="176.0" y2="1360.1" stroke="#262626" stroke-width="2.5"/>
<line x1="169.0" y1="1351.5" x2="176.0" y2="1351.5" stroke="#262626" stroke-width="2.5"/>
<line x1="169.0" y1="1344.5" x2="176.0" y2="1344.5" stroke="#262626" stroke-width="2.5"/>
<line x1="169.0" y1="1338.5" x2="176.0" y2="1338.5" stroke="#262626" stroke-width="2.5"/>
<line x1="169.0" y1="1333.4" x2="176.0" y2="1333.4" stroke="#262626" stroke-width="2.5"/>
<line x1="169.0" y1="1328.9" x2="176.0" y2="1328.9" stroke="#262626" stroke-width="2.5"/>
<line x1="169.0" y1="1324.8" x2="183.0" y2="1324.8" stroke="#262626" stroke-width="3"/>
<line x1="169.0" y1="1298.1" x2="176.0" y2="1298.1" stroke="#262626" stroke-width="2.5"/>
<line x1="169.0" y1="1282.5" x2="176.0" y2="1282.5" stroke="#262626" stroke-width="2.5"/>
<line x1="169.0" y1="1271.5" x2="176.0" y2="1271.5" stroke="#262626" stroke-width="2.5"/>
<line x1="169.0" y1="1262.9" x2="176.0" y2="1262.9" stroke="#262626" stroke-width="2.5"/>
<line x1="169.0" y1="1255.9" x2="176.0" y2="1255.9" stroke="#262626" stroke-width="2.5"/>
<line x1="169.0" y1="1249.9" x2="176.0" y2="1249.9" stroke="#262626" stroke-width="2.5"/>
<line x1="169.0" y1="1244.8" x2="176.0" y2="1244.8" stroke="#262626" stroke-width="2.5"/>
<line x1="169.0" y1="1240.3" x2="176.0" y2="1240.3" stroke="#262626" stroke-width="2.5"/>
<line x1="169.0" y1="1236.2" x2="183.0" y2="1236.2" stroke="#262626" stroke-width="3"/>
<line x1="169.0" y1="1209.5" x2="176.0" y2="1209.5" stroke="#262626" stroke-width="2.5"/>
<line x1="169.0" y1="1193.9" x2="176.0" y2="1193.9" stroke="#262626" stroke-width="2.5"/>
<line x1="169.0" y1="1182.9" x2="176.0" y2="1182.9" stroke="#262626" stroke-width="2.5"/>
<line x1="169.0" y1="1174.3" x2="176.0" y2="1174.3" stroke="#262626" stroke-width="2.5"/>
<line x1="169.0" y1="1167.3" x2="176.0" y2="1167.3" stroke="#262626" stroke-width="2.5"/>
<line x1="169.0" y1="1161.3" x2="176.0" y2="1161.3" stroke="#262626" stroke-width="2.5"/>
<line x1="169.0" y1="1156.2" x2="176.0" y2="1156.2" stroke="#262626" stroke-width="2.5"/>
<line x1="169.0" y1="1151.7" x2="176.0" y2="1151.7" stroke="#262626" stroke-width="2.5"/>
<line x1="169.0" y1="1147.6" x2="183.0" y2="1147.6" stroke="#262626" stroke-width="3"/>
<line x1="169.0" y1="1120.9" x2="176.0" y2="1120.9" stroke="#262626" stroke-width="2.5"/>
<line x1="169.0" y1="1105.3" x2="176.0" y2="1105.3" stroke="#262626" stroke-width="2.5"/>
<line x1="169.0" y1="1094.3" x2="176.0" y2="1094.3" stroke="#262626" stroke-width="2.5"/>
<line x1="169.0" y1="1085.7" x2="176.0" y2="1085.7" stroke="#262626" stroke-width="2.5"/>
<line x1="169.0" y1="1078.7" x2="176.0" y2="1078.7" stroke="#262626" stroke-width="2.5"/>
<line x1="169.0" y1="1072.7" x2="176.0" y2="1072.7" stroke="#262626" stroke-width="2.5"/>
<line x1="169.0" y1="1067.6" x2="176.0" y2="1067.6" stroke="#262626" stroke-width="2.5"/>
<line x1="169.0" y1="1063.1" x2="176.0" y2="1063.1" stroke="#262626" stroke-width="2.5"/>
<line x1="169.0" y1="1059.0" x2="183.0" y2="1059.0" stroke="#262626" stroke-width="3"/>
<line x1="169.0" y1="1032.3" x2="176.0" y2="1032.3" stroke="#262626" stroke-width="2.5"/>
<line x1="169.0" y1="1016.7" x2="176.0" y2="1016.7" stroke="#262626" stroke-width="2.5"/>
<line x1="169.0" y1="1005.7" x2="176.0" y2="1005.7" stroke="#262626" stroke-width="2.5"/>
<line x1="169.0" y1="997.1" x2="176.0" y2="997.1" stroke="#262626" stroke-width="2.5"/>
<line x1="169.0" y1="990.1" x2="176.0" y2="990.1" stroke="#262626" stroke-width="2.5"/>
<line x1="169.0" y1="984.1" x2="176.0" y2="984.1" stroke="#262626" stroke-width="2.5"/>
<line x1="169.0" y1="979.0" x2="176.0" y2="979.0" stroke="#262626" stroke-width="2.5"/>
<line x1="169.0" y1="974.5" x2="176.0" y2="974.5" stroke="#262626" stroke-width="2.5"/>
<line x1="169.0" y1="970.4" x2="183.0" y2="970.4" stroke="#262626" stroke-width="3"/>
<line x1="169.0" y1="943.7" x2="176.0" y2="943.7" stroke="#262626" stroke-width="2.5"/>
<line x1="169.0" y1="928.1" x2="176.0" y2="928.1" stroke="#262626" stroke-width="2.5"/>
<line x1="169.0" y1="917.1" x2="176.0" y2="917.1" stroke="#262626" stroke-width="2.5"/>
<line x1="169.0" y1="908.5" x2="176.0" y2="908.5" stroke="#262626" stroke-width="2.5"/>
<line x1="169.0" y1="901.5" x2="176.0" y2="901.5" stroke="#262626" stroke-width="2.5"/>
<line x1="169.0" y1="895.5" x2="176.0" y2="895.5" stroke="#262626" stroke-width="2.5"/>
<line x1="169.0" y1="890.4" x2="176.0" y2="890.4" stroke="#262626" stroke-width="2.5"/>
<line x1="169.0" y1="885.9" x2="176.0" y2="885.9" stroke="#262626" stroke-width="2.5"/>
<line x1="169.0" y1="881.8" x2="183.0" y2="881.8" stroke="#262626" stroke-width="3"/>
<line x1="169.0" y1="855.1" x2="176.0" y2="855.1" stroke="#262626" stroke-width="2.5"/>
<line x1="169.0" y1="839.5" x2="176.0" y2="839.5" stroke="#262626" stroke-width="2.5"/>
<line x1="169.0" y1="828.5" x2="176.0" y2="828.5" stroke="#262626" stroke-width="2.5"/>
<line x1="169.0" y1="819.9" x2="176.0" y2="819.9" stroke="#262626" stroke-width="2.5"/>
<line x1="169.0" y1="812.9" x2="176.0" y2="812.9" stroke="#262626" stroke-width="2.5"/>
<line x1="169.0" y1="806.9" x2="176.0" y2="806.9" stroke="#262626" stroke-width="2.5"/>
<text x="151.0" y="1517.0" font-size="40" text-anchor="end" fill="#111">10<tspan font-size="24.5" dy="-18.5">-11</tspan></text>
<text x="151.0" y="1428.4" font-size="40" text-anchor="end" fill="#111">10<tspan font-size="24.5" dy="-18.5">-10</tspan></text>
<text x="151.0" y="1339.8" font-size="40" text-anchor="end" fill="#111">10<tspan font-size="24.5" dy="-18.5">-9</tspan></text>
<text x="151.0" y="1251.2" font-size="40" text-anchor="end" fill="#111">10<tspan font-size="24.5" dy="-18.5">-8</tspan></text>
<text x="151.0" y="1162.6" font-size="40" text-anchor="end" fill="#111">10<tspan font-size="24.5" dy="-18.5">-7</tspan></text>
<text x="151.0" y="1074.0" font-size="40" text-anchor="end" fill="#111">10<tspan font-size="24.5" dy="-18.5">-6</tspan></text>
<text x="151.0" y="985.4" font-size="40" text-anchor="end" fill="#111">10<tspan font-size="24.5" dy="-18.5">-5</tspan></text>
<text x="151.0" y="896.8" font-size="40" text-anchor="end" fill="#111">10<tspan font-size="24.5" dy="-18.5">-4</tspan></text>
<text x="599.0" y="1616.0" font-size="59" text-anchor="middle" fill="#111">Voltage (V)</text>
<text x="58.0" y="1154.0" font-size="58.5" text-anchor="middle" fill="#111" transform="rotate(-90 58.0 1154.0)">Current (A)</text>
<line x1="190.0" y1="1311.0" x2="284.0" y2="1311.0" stroke="#5a5a5a" stroke-width="4"/>
<rect x="228.5" y="1303.5" width="15.0" height="15.0" fill="#f4f4f4" stroke="#5a5a5a" stroke-width="2.2"/>
<text x="293.0" y="1325.4" font-size="38.5" text-anchor="start" fill="#111">dark</text>
<line x1="190.0" y1="1360.0" x2="284.0" y2="1360.0" stroke="#d9557c" stroke-width="4"/>
<circle cx="236.0" cy="1360.0" r="7.5" fill="#fbe6ee" stroke="#d9557c" stroke-width="2.2"/>
<text x="293.0" y="1374.7" font-size="38.5" text-anchor="start" fill="#111">380 nm</text>
<line x1="190.0" y1="1411.0" x2="284.0" y2="1411.0" stroke="#4a5cd0" stroke-width="4"/>
<polygon points="236.0,1402.8 244.2,1417.0 227.8,1417.0" fill="#cfe6f8" stroke="#4a5cd0" stroke-width="2.2"/>
<text x="293.0" y="1424.5" font-size="38.5" text-anchor="start" fill="#111">480 nm</text>
<line x1="190.0" y1="1459.5" x2="284.0" y2="1459.5" stroke="#3d9478" stroke-width="4"/>
<polygon points="236.0,1467.8 244.2,1453.5 227.8,1453.5" fill="#d2efe6" stroke="#3d9478" stroke-width="2.2"/>
<text x="293.0" y="1474.5" font-size="38.5" text-anchor="start" fill="#111">580 nm</text>
<polyline points="1199.5,1481.6 1200.5,1481.6 1201.6,1481.6 1202.6,1481.6 1203.6,1481.6 1204.7,1481.6 1205.7,1481.6 1206.7,1481.6 1207.8,1481.6 1208.8,1481.6 1209.8,1481.6 1210.9,1481.6 1211.9,1481.6 1212.9,1481.6 1214.0,1481.6 1215.0,1481.6 1216.0,1481.6 1217.0,1481.6 1218.1,1481.6 1219.1,1481.6 1220.1,1481.6 1221.2,1481.6 1222.2,1481.6 1223.2,1481.6 1224.3,1481.6 1225.3,1481.6 1226.3,1481.6 1227.4,1481.6 1228.4,1481.6 1229.4,1481.6 1230.5,1481.6 1231.5,1481.6 1232.5,1481.6 1233.6,1481.6 1234.6,1481.6 1235.6,1481.6 1236.7,1481.6 1237.7,1481.6 1238.7,1481.6 1239.8,1481.6 1240.8,1481.6 1241.8,1481.6 1242.9,1481.6 1243.9,1481.6 1244.9,1481.6 1246.0,1481.6 1247.0,1481.6 1248.0,1481.6 1249.0,1481.6 1250.1,1481.6 1251.1,1481.6 1252.1,1481.6 1253.2,1481.6 1254.2,1481.6 1255.2,1481.6 1256.3,1481.6 1257.3,1481.6 1258.3,1481.6 1259.4,1481.6 1260.4,1481.6 1261.4,1481.6 1262.5,1481.6 1263.5,1481.6 1264.5,1481.6 1265.6,1481.6 1266.6,1481.6 1267.6,1481.6 1268.7,1481.6 1269.7,1481.6 1270.7,1481.6 1271.8,1481.6 1272.8,1481.6 1273.8,1481.6 1274.9,1481.6 1275.9,1481.6 1276.9,1481.6 1278.0,1481.6 1279.0,1481.6 1280.0,1481.6 1281.0,1481.6 1282.1,1481.6 1283.1,1481.6 1284.1,1481.6 1285.2,1481.6 1286.2,1481.6 1287.2,1481.6 1288.3,1481.6 1289.3,1481.6 1290.3,1481.6 1291.4,1481.6 1292.4,1481.6 1293.4,1481.6 1294.5,1481.6 1295.5,1481.6 1296.5,1481.6 1297.6,1481.6 1298.6,1481.6 1299.6,1481.6 1300.7,1481.6 1301.7,1481.6 1302.7,1481.6 1303.8,1481.6 1304.8,1481.6 1305.8,1481.6 1306.9,1481.6 1307.9,1481.6 1308.9,1481.6 1310.0,1481.6 1311.0,1481.6 1312.0,1481.6 1313.0,1481.6 1314.1,1481.6 1315.1,1481.6 1316.1,1481.6 1317.2,1481.6 1318.2,1481.6 1319.2,1481.6 1320.3,1481.6 1321.3,1481.6 1322.3,1481.6 1323.4,1481.6 1324.4,1481.6 1325.4,1449.4 1326.5,1449.4 1327.5,1441.2 1328.5,1441.2 1329.6,1441.2 1330.6,1441.2 1331.6,1441.2 1332.7,1441.2 1333.7,1441.2 1334.7,1441.2 1335.8,1441.2 1336.8,1441.2 1337.8,1441.2 1338.9,1441.2 1339.9,1441.2 1340.9,1441.2 1342.0,1441.2 1343.0,1441.2 1344.0,1441.2 1345.0,1441.2 1346.1,1441.2 1347.1,1441.2 1348.1,1441.2 1349.2,1441.2 1350.2,1441.2 1351.2,1441.2 1352.3,1441.2 1353.3,1441.2 1354.3,1441.2 1355.4,1441.2 1356.4,1441.2 1357.4,1441.2 1358.5,1441.2 1359.5,1441.2 1360.5,1441.2 1361.6,1441.2 1362.6,1441.2 1363.6,1441.2 1364.7,1441.2 1365.7,1441.2 1366.7,1441.2 1367.8,1441.2 1368.8,1441.2 1369.8,1441.2 1370.9,1441.2 1371.9,1441.2 1372.9,1441.2 1374.0,1441.2 1375.0,1441.2 1376.0,1441.2 1377.0,1441.2 1378.1,1441.2 1379.1,1441.2 1380.1,1441.2 1381.2,1441.2 1382.2,1441.2 1383.2,1441.2 1384.3,1441.2 1385.3,1441.2 1386.3,1441.2 1387.4,1441.2 1388.4,1441.2 1389.4,1441.2 1390.5,1441.2 1391.5,1441.2 1392.5,1441.2 1393.6,1441.2 1394.6,1441.2 1395.6,1441.2 1396.7,1441.2 1397.7,1441.2 1398.7,1441.2 1399.8,1441.2 1400.8,1441.2 1401.8,1441.2 1402.9,1441.2 1403.9,1441.2 1404.9,1441.2 1406.0,1441.2 1407.0,1441.2 1408.0,1441.2 1409.0,1441.2 1410.1,1441.2 1411.1,1441.2 1412.1,1441.2 1413.2,1441.2 1414.2,1441.2 1415.2,1441.2 1416.3,1441.2 1417.3,1441.2 1418.3,1441.2 1419.4,1441.2 1420.4,1441.2 1421.4,1441.2 1422.5,1441.2 1423.5,1441.2 1424.5,1441.2 1425.6,1441.2 1426.6,1441.2 1427.6,1441.2 1428.7,1441.2 1429.7,1441.2 1430.7,1441.2 1431.8,1441.2 1432.8,1441.2 1433.8,1441.2 1434.9,1441.2 1435.9,1441.2 1436.9,1441.2 1437.9,1441.2 1439.0,1441.2 1440.0,1441.2 1441.0,1441.2 1442.1,1441.2 1443.1,1441.2 1444.1,1441.2 1445.2,1441.2 1446.2,1441.2 1447.2,1441.2 1448.3,1441.2 1449.3,1441.2 1449.7,1441.7 1450.7,1466.9 1451.8,1476.2 1452.8,1479.6 1453.8,1480.9 1454.9,1481.3 1455.9,1481.5 1456.9,1481.6 1458.0,1481.6 1459.0,1481.6 1460.0,1481.6 1461.1,1481.6 1462.1,1481.6 1463.1,1481.6 1464.2,1481.6 1465.2,1481.6 1466.2,1481.6 1467.3,1481.6 1468.3,1481.6 1469.3,1481.6 1470.4,1481.6 1471.4,1481.6 1472.4,1481.6 1473.5,1481.6 1474.5,1481.6 1475.5,1481.6 1476.6,1481.6 1477.6,1481.6 1478.6,1481.6 1479.7,1481.6 1480.7,1481.6 1481.7,1481.6 1482.7,1481.6 1483.8,1481.6 1484.8,1481.6 1485.8,1481.6 1486.9,1481.6 1487.9,1481.6 1488.9,1481.6 1490.0,1481.6 1491.0,1481.6 1492.0,1481.6 1493.1,1481.6 1494.1,1481.6 1495.1,1481.6 1496.2,1481.6 1497.2,1481.6 1498.2,1481.6 1499.3,1481.6 1500.3,1481.6 1501.3,1481.6 1502.4,1481.6 1503.4,1481.6 1504.4,1481.6 1505.5,1481.6 1506.5,1481.6 1507.5,1481.6 1508.6,1481.6 1509.6,1481.6 1510.6,1481.6 1511.7,1481.6 1512.7,1481.6 1513.7,1481.6 1514.7,1481.6 1515.8,1481.6 1516.8,1481.6 1517.8,1481.6 1518.9,1481.6 1519.9,1481.6 1520.9,1481.6 1522.0,1481.6 1523.0,1481.6 1524.0,1481.6 1525.1,1481.6 1526.1,1481.6 1527.1,1481.6 1528.2,1481.6 1529.2,1481.6 1530.2,1481.6 1531.3,1481.6 1532.3,1481.6 1533.3,1481.6 1534.4,1481.6 1535.4,1481.6 1536.4,1481.6 1537.5,1481.6 1538.5,1481.6 1539.5,1481.6 1540.6,1481.6 1541.6,1481.6 1542.6,1481.6 1543.7,1481.6 1544.7,1481.6 1545.7,1481.6 1546.7,1481.6 1547.8,1481.6 1548.8,1481.6 1549.8,1481.6 1550.9,1481.6 1551.9,1481.6 1552.9,1481.6 1554.0,1481.6 1555.0,1481.6 1556.0,1481.6 1557.1,1481.6 1558.1,1481.6 1559.1,1481.6 1560.2,1481.6 1561.2,1481.6 1562.2,1481.6 1563.3,1481.6 1564.3,1481.6 1565.3,1481.6 1566.4,1481.6 1567.4,1481.6 1568.4,1481.6 1569.5,1481.6 1570.5,1481.6 1571.5,1481.6 1572.6,1481.6 1573.2,1449.4 1574.2,1449.4 1575.2,1441.2 1576.3,1441.2 1577.3,1441.2 1578.3,1441.2 1579.4,1441.2 1580.4,1441.2 1581.4,1441.2 1582.5,1441.2 1583.5,1441.2 1584.5,1441.2 1585.6,1441.2 1586.6,1441.2 1587.6,1441.2 1588.7,1441.2 1589.7,1441.2 1590.7,1441.2 1591.8,1441.2 1592.8,1441.2 1593.8,1441.2 1594.9,1441.2 1595.9,1441.2 1596.9,1441.2 1597.9,1441.2 1599.0,1441.2 1600.0,1441.2 1601.0,1441.2 1602.1,1441.2 1603.1,1441.2 1604.1,1441.2 1605.2,1441.2 1606.2,1441.2 1607.2,1441.2 1608.3,1441.2 1609.3,1441.2 1610.3,1441.2 1611.4,1441.2 1612.4,1441.2 1613.4,1441.2 1614.5,1441.2 1615.5,1441.2 1616.5,1441.2 1617.6,1441.2 1618.6,1441.2 1619.6,1441.2 1620.7,1441.2 1621.7,1441.2 1622.7,1441.2 1623.8,1441.2 1624.8,1441.2 1625.8,1441.2 1626.9,1441.2 1627.9,1441.2 1628.9,1441.2 1629.9,1441.2 1631.0,1441.2 1632.0,1441.2 1633.0,1441.2 1634.1,1441.2 1635.1,1441.2 1636.1,1441.2 1637.2,1441.2 1638.2,1441.2 1639.2,1441.2 1640.3,1441.2 1641.3,1441.2 1642.3,1441.2 1643.4,1441.2 1644.4,1441.2 1645.4,1441.2 1646.5,1441.2 1647.5,1441.2 1648.5,1441.2 1649.6,1441.2 1650.6,1441.2 1651.6,1441.2 1652.7,1441.2 1653.7,1441.2 1654.7,1441.2 1655.8,1441.2 1656.8,1441.2 1657.8,1441.2 1658.9,1441.2 1659.9,1441.2 1660.9,1441.2 1661.9,1441.2 1663.0,1441.2 1664.0,1441.2 1665.0,1441.2 1666.1,1441.2 1667.1,1441.2 1668.1,1441.2 1669.2,1441.2 1670.2,1441.2 1671.2,1441.2 1672.3,1441.2 1673.3,1441.2 1674.3,1441.2 1675.4,1441.2 1676.4,1441.2 1677.4,1441.2 1678.5,1441.2 1679.5,1441.2 1680.5,1441.2 1681.6,1441.2 1682.6,1441.2 1683.6,1441.2 1684.7,1441.2 1685.7,1441.2 1686.7,1441.2 1687.8,1441.2 1688.8,1441.2 1689.8,1441.2 1690.9,1441.2 1691.9,1441.2 1692.9,1441.2 1693.9,1441.2 1695.0,1441.2 1696.0,1441.2 1697.0,1441.2 1697.5,1441.7 1698.5,1466.9 1699.5,1476.2 1700.6,1479.6 1701.6,1480.9 1702.6,1481.3 1703.7,1481.5 1704.7,1481.6 1705.7,1481.6 1706.7,1481.6 1707.8,1481.6 1708.8,1481.6 1709.8,1481.6 1710.9,1481.6 1711.9,1481.6 1712.9,1481.6 1714.0,1481.6 1715.0,1481.6 1716.0,1481.6 1717.1,1481.6 1718.1,1481.6 1719.1,1481.6 1720.2,1481.6 1721.2,1481.6 1722.2,1481.6 1723.3,1481.6 1724.3,1481.6 1725.3,1481.6 1726.4,1481.6 1727.4,1481.6 1728.4,1481.6 1729.5,1481.6 1730.5,1481.6 1731.5,1481.6 1732.6,1481.6 1733.6,1481.6 1734.6,1481.6 1735.7,1481.6 1736.7,1481.6 1737.7,1481.6 1738.7,1481.6 1739.8,1481.6 1740.8,1481.6 1741.8,1481.6 1742.9,1481.6 1743.9,1481.6 1744.9,1481.6 1746.0,1481.6 1747.0,1481.6 1748.0,1481.6 1749.1,1481.6 1750.1,1481.6 1751.1,1481.6 1752.2,1481.6 1753.2,1481.6 1754.2,1481.6 1755.3,1481.6 1756.3,1481.6 1757.3,1481.6 1758.4,1481.6 1759.4,1481.6 1760.4,1481.6 1761.5,1481.6 1762.5,1481.6 1763.5,1481.6 1764.6,1481.6 1765.6,1481.6 1766.6,1481.6 1767.7,1481.6 1768.7,1481.6 1769.7,1481.6 1770.7,1481.6 1771.8,1481.6 1772.8,1481.6 1773.8,1481.6 1774.9,1481.6 1775.9,1481.6 1776.9,1481.6 1778.0,1481.6 1779.0,1481.6 1780.0,1481.6 1781.1,1481.6 1782.1,1481.6 1783.1,1481.6 1784.2,1481.6 1785.2,1481.6 1786.2,1481.6 1787.3,1481.6 1788.3,1481.6 1789.3,1481.6 1790.4,1481.6 1791.4,1481.6 1792.4,1481.6 1793.5,1481.6 1794.5,1481.6 1795.5,1481.6 1796.6,1481.6 1797.6,1481.6 1798.6,1481.6 1799.7,1481.6 1800.7,1481.6 1801.7,1481.6 1802.7,1481.6 1803.8,1481.6 1804.8,1481.6 1805.8,1481.6 1806.9,1481.6 1807.9,1481.6 1808.9,1481.6 1810.0,1481.6 1811.0,1481.6 1812.0,1481.6 1813.1,1481.6 1814.1,1481.6 1815.1,1481.6 1816.2,1481.6 1817.2,1481.6 1818.2,1481.6 1819.3,1481.6 1820.3,1481.6 1820.5,1449.4 1821.5,1449.4 1822.6,1441.2 1823.6,1441.2 1824.6,1441.2 1825.7,1441.2 1826.7,1441.2 1827.7,1441.2 1828.8,1441.2 1829.8,1441.2 1830.8,1441.2 1831.9,1441.2 1832.9,1441.2 1833.9,1441.2 1835.0,1441.2 1836.0,1441.2 1837.0,1441.2 1838.0,1441.2 1839.1,1441.2 1840.1,1441.2 1841.1,1441.2 1842.2,1441.2 1843.2,1441.2 1844.2,1441.2 1845.3,1441.2 1846.3,1441.2 1847.3,1441.2 1848.4,1441.2 1849.4,1441.2 1850.4,1441.2 1851.5,1441.2 1852.5,1441.2 1853.5,1441.2 1854.6,1441.2 1855.6,1441.2 1856.6,1441.2 1857.7,1441.2 1858.7,1441.2 1859.7,1441.2 1860.8,1441.2 1861.8,1441.2 1862.8,1441.2 1863.9,1441.2 1864.9,1441.2 1865.9,1441.2 1867.0,1441.2 1868.0,1441.2 1869.0,1441.2 1870.0,1441.2 1871.1,1441.2 1872.1,1441.2 1873.1,1441.2 1874.2,1441.2 1875.2,1441.2 1876.2,1441.2 1877.3,1441.2 1878.3,1441.2 1879.3,1441.2 1880.4,1441.2 1881.4,1441.2 1882.4,1441.2 1883.5,1441.2 1884.5,1441.2 1885.5,1441.2 1886.6,1441.2 1887.6,1441.2 1888.6,1441.2 1889.7,1441.2 1890.7,1441.2 1891.7,1441.2 1892.8,1441.2 1893.8,1441.2 1894.8,1441.2 1895.9,1441.2 1896.9,1441.2 1897.9,1441.2 1899.0,1441.2 1900.0,1441.2 1901.0,1441.2 1902.0,1441.2 1903.1,1441.2 1904.1,1441.2 1905.1,1441.2 1906.2,1441.2 1907.2,1441.2 1908.2,1441.2 1909.3,1441.2 1910.3,1441.2 1911.3,1441.2 1912.4,1441.2 1913.4,1441.2 1914.4,1441.2 1915.5,1441.2 1916.5,1441.2 1917.5,1441.2 1918.6,1441.2 1919.6,1441.2 1920.6,1441.2 1921.7,1441.2 1922.7,1441.2 1923.7,1441.2 1924.8,1441.2 1925.8,1441.2 1926.8,1441.2 1927.9,1441.2 1928.9,1441.2 1929.9,1441.2 1931.0,1441.2 1932.0,1441.2 1933.0,1441.2 1934.0,1441.2 1935.1,1441.2 1936.1,1441.2 1937.1,1441.2 1938.2,1441.2 1939.2,1441.2 1940.2,1441.2 1941.3,1441.2 1942.3,1441.2 1943.3,1441.2 1944.4,1441.2 1945.2,1441.7 1946.2,1466.9 1947.3,1476.2 1948.3,1479.6 1949.3,1480.9 1950.4,1481.3 1951.4,1481.5 1952.4,1481.6 1953.5,1481.6 1954.5,1481.6 1955.5,1481.6 1956.6,1481.6 1957.6,1481.6 1958.6,1481.6 1959.6,1481.6 1960.7,1481.6 1961.7,1481.6 1962.7,1481.6 1963.8,1481.6 1964.8,1481.6 1965.8,1481.6 1966.9,1481.6 1967.9,1481.6 1968.9,1481.6 1970.0,1481.6 1971.0,1481.6 1972.0,1481.6 1973.1,1481.6 1974.1,1481.6 1975.1,1481.6 1976.2,1481.6 1977.2,1481.6 1978.2,1481.6 1979.3,1481.6 1980.3,1481.6 1981.3,1481.6 1982.4,1481.6 1983.4,1481.6 1984.4,1481.6 1985.5,1481.6 1986.5,1481.6 1987.5,1481.6 1988.6,1481.6 1989.6,1481.6 1990.6,1481.6 1991.6,1481.6 1992.7,1481.6 1993.7,1481.6 1994.7,1481.6 1995.8,1481.6 1996.8,1481.6 1997.8,1481.6 1998.9,1481.6 1999.9,1481.6 2000.9,1481.6 2002.0,1481.6 2003.0,1481.6 2004.0,1481.6 2005.1,1481.6 2006.1,1481.6 2007.1,1481.6 2008.2,1481.6 2009.2,1481.6 2010.2,1481.6 2011.3,1481.6 2012.3,1481.6 2013.3,1481.6 2014.4,1481.6 2015.4,1481.6 2016.4,1481.6 2017.5,1481.6 2018.5,1481.6 2019.5,1481.6 2020.6,1481.6 2021.6,1481.6 2022.6,1481.6 2023.6,1481.6 2024.7,1481.6 2025.7,1481.6 2026.7,1481.6 2027.8,1481.6 2028.8,1481.6 2029.8,1481.6 2030.9,1481.6 2031.9,1481.6 2032.9,1481.6 2034.0,1481.6 2035.0,1481.6 2036.0,1481.6 2037.1,1481.6 2038.1,1481.6 2039.1,1481.6 2040.2,1481.6 2041.2,1481.6 2042.2,1481.6 2043.3,1481.6 2044.3,1481.6 2045.3,1481.6 2046.4,1481.6 2047.4,1481.6 2048.4,1481.6 2049.5,1481.6 2050.5,1481.6 2051.5,1481.6 2052.6,1481.6 2053.6,1481.6 2054.6,1481.6 2055.6,1481.6 2056.7,1481.6 2057.7,1481.6 2058.7,1481.6 2059.8,1481.6 2060.8,1481.6 2061.8,1481.6 2062.9,1481.6 2063.9,1481.6 2064.9,1481.6 2066.0,1481.6" fill="none" stroke="#6e6e6e" stroke-width="3" stroke-linejoin="round" marker-start="url(#m4)" marker-mid="url(#m4)" marker-end="url(#m4)"/>
<polyline points="1199.5,1484.3 1200.5,1484.3 1201.6,1484.3 1202.6,1484.3 1203.6,1484.3 1204.7,1484.3 1205.7,1484.3 1206.7,1484.3 1207.8,1484.3 1208.8,1484.3 1209.8,1484.3 1210.9,1484.3 1211.9,1484.3 1212.9,1484.3 1214.0,1484.3 1215.0,1484.3 1216.0,1484.3 1217.0,1484.3 1218.1,1484.3 1219.1,1484.3 1220.1,1484.3 1221.2,1484.3 1222.2,1484.3 1223.2,1484.3 1224.3,1484.3 1225.3,1484.3 1226.3,1484.3 1227.4,1484.3 1228.4,1484.3 1229.4,1484.3 1230.5,1484.3 1231.5,1484.3 1232.5,1484.3 1233.6,1484.3 1234.6,1484.3 1235.6,1484.3 1236.7,1484.3 1237.7,1484.3 1238.7,1484.3 1239.8,1484.3 1240.8,1484.3 1241.8,1484.3 1242.9,1484.3 1243.9,1484.3 1244.9,1484.3 1246.0,1484.3 1247.0,1484.3 1248.0,1484.3 1249.0,1484.3 1250.1,1484.3 1251.1,1484.3 1252.1,1484.3 1253.2,1484.3 1254.2,1484.3 1255.2,1484.3 1256.3,1484.3 1257.3,1484.3 1258.3,1484.3 1259.4,1484.3 1260.4,1484.3 1261.4,1484.3 1262.5,1484.3 1263.5,1484.3 1264.5,1484.3 1265.6,1484.3 1266.6,1484.3 1267.6,1484.3 1268.7,1484.3 1269.7,1484.3 1270.7,1484.3 1271.8,1484.3 1272.8,1484.3 1273.8,1484.3 1274.9,1484.3 1275.9,1484.3 1276.9,1484.3 1278.0,1484.3 1279.0,1484.3 1280.0,1484.3 1281.0,1484.3 1282.1,1484.3 1283.1,1484.3 1284.1,1484.3 1285.2,1484.3 1286.2,1484.3 1287.2,1484.3 1288.3,1484.3 1289.3,1484.3 1290.3,1484.3 1291.4,1484.3 1292.4,1484.3 1293.4,1484.3 1294.5,1484.3 1295.5,1484.3 1296.5,1484.3 1297.6,1484.3 1298.6,1484.3 1299.6,1484.3 1300.7,1484.3 1301.7,1484.3 1302.7,1484.3 1303.8,1484.3 1304.8,1484.3 1305.8,1484.3 1306.9,1484.3 1307.9,1484.3 1308.9,1484.3 1310.0,1484.3 1311.0,1484.3 1312.0,1484.3 1313.0,1484.3 1314.1,1484.3 1315.1,1484.3 1316.1,1484.3 1317.2,1484.3 1318.2,1484.3 1319.2,1484.3 1320.3,1484.3 1321.3,1484.3 1322.3,1484.3 1323.4,1484.3 1324.4,1484.3 1325.4,1235.3 1326.5,1235.3 1327.5,1211.2 1328.5,1210.6 1329.6,1210.1 1330.6,1209.7 1331.6,1209.3 1332.7,1209.0 1333.7,1208.7 1334.7,1208.5 1335.8,1208.3 1336.8,1208.1 1337.8,1207.9 1338.9,1207.8 1339.9,1207.6 1340.9,1207.5 1342.0,1207.4 1343.0,1207.3 1344.0,1207.2 1345.0,1207.1 1346.1,1207.0 1347.1,1206.9 1348.1,1206.8 1349.2,1206.7 1350.2,1206.7 1351.2,1206.6 1352.3,1206.5 1353.3,1206.5 1354.3,1206.4 1355.4,1206.3 1356.4,1206.3 1357.4,1206.2 1358.5,1206.1 1359.5,1206.1 1360.5,1206.0 1361.6,1205.9 1362.6,1205.9 1363.6,1205.8 1364.7,1205.7 1365.7,1205.7 1366.7,1205.6 1367.8,1205.6 1368.8,1205.5 1369.8,1205.4 1370.9,1205.4 1371.9,1205.3 1372.9,1205.3 1374.0,1205.2 1375.0,1205.1 1376.0,1205.1 1377.0,1205.0 1378.1,1205.0 1379.1,1204.9 1380.1,1204.8 1381.2,1204.8 1382.2,1204.7 1383.2,1204.6 1384.3,1204.6 1385.3,1204.5 1386.3,1204.5 1387.4,1204.4 1388.4,1204.3 1389.4,1204.3 1390.5,1204.2 1391.5,1204.2 1392.5,1204.1 1393.6,1204.0 1394.6,1204.0 1395.6,1203.9 1396.7,1203.9 1397.7,1203.8 1398.7,1203.7 1399.8,1203.7 1400.8,1203.6 1401.8,1203.6 1402.9,1203.5 1403.9,1203.4 1404.9,1203.4 1406.0,1203.3 1407.0,1203.3 1408.0,1203.2 1409.0,1203.1 1410.1,1203.1 1411.1,1203.0 1412.1,1203.0 1413.2,1202.9 1414.2,1202.8 1415.2,1202.8 1416.3,1202.7 1417.3,1202.7 1418.3,1202.6 1419.4,1202.5 1420.4,1202.5 1421.4,1202.4 1422.5,1202.3 1423.5,1202.3 1424.5,1202.2 1425.6,1202.2 1426.6,1202.1 1427.6,1202.0 1428.7,1202.0 1429.7,1201.9 1430.7,1201.9 1431.8,1201.8 1432.8,1201.7 1433.8,1201.7 1434.9,1201.6 1435.9,1201.6 1436.9,1201.5 1437.9,1201.4 1439.0,1201.4 1440.0,1201.3 1441.0,1201.3 1442.1,1201.2 1443.1,1201.1 1444.1,1201.1 1445.2,1201.0 1446.2,1201.0 1447.2,1200.9 1448.3,1200.8 1449.3,1200.8 1449.7,1411.7 1450.7,1452.8 1451.8,1470.6 1452.8,1478.4 1453.8,1481.7 1454.9,1483.2 1455.9,1483.8 1456.9,1484.1 1458.0,1484.2 1459.0,1484.3 1460.0,1484.3 1461.1,1484.3 1462.1,1484.3 1463.1,1484.3 1464.2,1484.3 1465.2,1484.3 1466.2,1484.3 1467.3,1484.3 1468.3,1484.3 1469.3,1484.3 1470.4,1484.3 1471.4,1484.3 1472.4,1484.3 1473.5,1484.3 1474.5,1484.3 1475.5,1484.3 1476.6,1484.3 1477.6,1484.3 1478.6,1484.3 1479.7,1484.3 1480.7,1484.3 1481.7,1484.3 1482.7,1484.3 1483.8,1484.3 1484.8,1484.3 1485.8,1484.3 1486.9,1484.3 1487.9,1484.3 1488.9,1484.3 1490.0,1484.3 1491.0,1484.3 1492.0,1484.3 1493.1,1484.3 1494.1,1484.3 1495.1,1484.3 1496.2,1484.3 1497.2,1484.3 1498.2,1484.3 1499.3,1484.3 1500.3,1484.3 1501.3,1484.3 1502.4,1484.3 1503.4,1484.3 1504.4,1484.3 1505.5,1484.3 1506.5,1484.3 1507.5,1484.3 1508.6,1484.3 1509.6,1484.3 1510.6,1484.3 1511.7,1484.3 1512.7,1484.3 1513.7,1484.3 1514.7,1484.3 1515.8,1484.3 1516.8,1484.3 1517.8,1484.3 1518.9,1484.3 1519.9,1484.3 1520.9,1484.3 1522.0,1484.3 1523.0,1484.3 1524.0,1484.3 1525.1,1484.3 1526.1,1484.3 1527.1,1484.3 1528.2,1484.3 1529.2,1484.3 1530.2,1484.3 1531.3,1484.3 1532.3,1484.3 1533.3,1484.3 1534.4,1484.3 1535.4,1484.3 1536.4,1484.3 1537.5,1484.3 1538.5,1484.3 1539.5,1484.3 1540.6,1484.3 1541.6,1484.3 1542.6,1484.3 1543.7,1484.3 1544.7,1484.3 1545.7,1484.3 1546.7,1484.3 1547.8,1484.3 1548.8,1484.3 1549.8,1484.3 1550.9,1484.3 1551.9,1484.3 1552.9,1484.3 1554.0,1484.3 1555.0,1484.3 1556.0,1484.3 1557.1,1484.3 1558.1,1484.3 1559.1,1484.3 1560.2,1484.3 1561.2,1484.3 1562.2,1484.3 1563.3,1484.3 1564.3,1484.3 1565.3,1484.3 1566.4,1484.3 1567.4,1484.3 1568.4,1484.3 1569.5,1484.3 1570.5,1484.3 1571.5,1484.3 1572.6,1484.3 1573.2,1235.3 1574.2,1235.3 1575.2,1211.2 1576.3,1210.6 1577.3,1210.1 1578.3,1209.7 1579.4,1209.3 1580.4,1209.0 1581.4,1208.7 1582.5,1208.5 1583.5,1208.3 1584.5,1208.1 1585.6,1207.9 1586.6,1207.8 1587.6,1207.6 1588.7,1207.5 1589.7,1207.4 1590.7,1207.3 1591.8,1207.2 1592.8,1207.1 1593.8,1207.0 1594.9,1206.9 1595.9,1206.8 1596.9,1206.7 1597.9,1206.7 1599.0,1206.6 1600.0,1206.5 1601.0,1206.5 1602.1,1206.4 1603.1,1206.3 1604.1,1206.3 1605.2,1206.2 1606.2,1206.1 1607.2,1206.1 1608.3,1206.0 1609.3,1205.9 1610.3,1205.9 1611.4,1205.8 1612.4,1205.7 1613.4,1205.7 1614.5,1205.6 1615.5,1205.6 1616.5,1205.5 1617.6,1205.4 1618.6,1205.4 1619.6,1205.3 1620.7,1205.3 1621.7,1205.2 1622.7,1205.1 1623.8,1205.1 1624.8,1205.0 1625.8,1205.0 1626.9,1204.9 1627.9,1204.8 1628.9,1204.8 1629.9,1204.7 1631.0,1204.6 1632.0,1204.6 1633.0,1204.5 1634.1,1204.5 1635.1,1204.4 1636.1,1204.3 1637.2,1204.3 1638.2,1204.2 1639.2,1204.2 1640.3,1204.1 1641.3,1204.0 1642.3,1204.0 1643.4,1203.9 1644.4,1203.9 1645.4,1203.8 1646.5,1203.7 1647.5,1203.7 1648.5,1203.6 1649.6,1203.6 1650.6,1203.5 1651.6,1203.4 1652.7,1203.4 1653.7,1203.3 1654.7,1203.3 1655.8,1203.2 1656.8,1203.1 1657.8,1203.1 1658.9,1203.0 1659.9,1203.0 1660.9,1202.9 1661.9,1202.8 1663.0,1202.8 1664.0,1202.7 1665.0,1202.7 1666.1,1202.6 1667.1,1202.5 1668.1,1202.5 1669.2,1202.4 1670.2,1202.3 1671.2,1202.3 1672.3,1202.2 1673.3,1202.2 1674.3,1202.1 1675.4,1202.0 1676.4,1202.0 1677.4,1201.9 1678.5,1201.9 1679.5,1201.8 1680.5,1201.7 1681.6,1201.7 1682.6,1201.6 1683.6,1201.6 1684.7,1201.5 1685.7,1201.4 1686.7,1201.4 1687.8,1201.3 1688.8,1201.3 1689.8,1201.2 1690.9,1201.1 1691.9,1201.1 1692.9,1201.0 1693.9,1201.0 1695.0,1200.9 1696.0,1200.8 1697.0,1200.8 1697.5,1411.7 1698.5,1452.8 1699.5,1470.6 1700.6,1478.4 1701.6,1481.7 1702.6,1483.2 1703.7,1483.8 1704.7,1484.1 1705.7,1484.2 1706.7,1484.3 1707.8,1484.3 1708.8,1484.3 1709.8,1484.3 1710.9,1484.3 1711.9,1484.3 1712.9,1484.3 1714.0,1484.3 1715.0,1484.3 1716.0,1484.3 1717.1,1484.3 1718.1,1484.3 1719.1,1484.3 1720.2,1484.3 1721.2,1484.3 1722.2,1484.3 1723.3,1484.3 1724.3,1484.3 1725.3,1484.3 1726.4,1484.3 1727.4,1484.3 1728.4,1484.3 1729.5,1484.3 1730.5,1484.3 1731.5,1484.3 1732.6,1484.3 1733.6,1484.3 1734.6,1484.3 1735.7,1484.3 1736.7,1484.3 1737.7,1484.3 1738.7,1484.3 1739.8,1484.3 1740.8,1484.3 1741.8,1484.3 1742.9,1484.3 1743.9,1484.3 1744.9,1484.3 1746.0,1484.3 1747.0,1484.3 1748.0,1484.3 1749.1,1484.3 1750.1,1484.3 1751.1,1484.3 1752.2,1484.3 1753.2,1484.3 1754.2,1484.3 1755.3,1484.3 1756.3,1484.3 1757.3,1484.3 1758.4,1484.3 1759.4,1484.3 1760.4,1484.3 1761.5,1484.3 1762.5,1484.3 1763.5,1484.3 1764.6,1484.3 1765.6,1484.3 1766.6,1484.3 1767.7,1484.3 1768.7,1484.3 1769.7,1484.3 1770.7,1484.3 1771.8,1484.3 1772.8,1484.3 1773.8,1484.3 1774.9,1484.3 1775.9,1484.3 1776.9,1484.3 1778.0,1484.3 1779.0,1484.3 1780.0,1484.3 1781.1,1484.3 1782.1,1484.3 1783.1,1484.3 1784.2,1484.3 1785.2,1484.3 1786.2,1484.3 1787.3,1484.3 1788.3,1484.3 1789.3,1484.3 1790.4,1484.3 1791.4,1484.3 1792.4,1484.3 1793.5,1484.3 1794.5,1484.3 1795.5,1484.3 1796.6,1484.3 1797.6,1484.3 1798.6,1484.3 1799.7,1484.3 1800.7,1484.3 1801.7,1484.3 1802.7,1484.3 1803.8,1484.3 1804.8,1484.3 1805.8,1484.3 1806.9,1484.3 1807.9,1484.3 1808.9,1484.3 1810.0,1484.3 1811.0,1484.3 1812.0,1484.3 1813.1,1484.3 1814.1,1484.3 1815.1,1484.3 1816.2,1484.3 1817.2,1484.3 1818.2,1484.3 1819.3,1484.3 1820.3,1484.3 1820.5,1235.3 1821.5,1235.3 1822.6,1211.2 1823.6,1210.6 1824.6,1210.1 1825.7,1209.7 1826.7,1209.3 1827.7,1209.0 1828.8,1208.7 1829.8,1208.5 1830.8,1208.3 1831.9,1208.1 1832.9,1207.9 1833.9,1207.8 1835.0,1207.6 1836.0,1207.5 1837.0,1207.4 1838.0,1207.3 1839.1,1207.2 1840.1,1207.1 1841.1,1207.0 1842.2,1206.9 1843.2,1206.8 1844.2,1206.7 1845.3,1206.7 1846.3,1206.6 1847.3,1206.5 1848.4,1206.5 1849.4,1206.4 1850.4,1206.3 1851.5,1206.3 1852.5,1206.2 1853.5,1206.1 1854.6,1206.1 1855.6,1206.0 1856.6,1205.9 1857.7,1205.9 1858.7,1205.8 1859.7,1205.7 1860.8,1205.7 1861.8,1205.6 1862.8,1205.6 1863.9,1205.5 1864.9,1205.4 1865.9,1205.4 1867.0,1205.3 1868.0,1205.3 1869.0,1205.2 1870.0,1205.1 1871.1,1205.1 1872.1,1205.0 1873.1,1205.0 1874.2,1204.9 1875.2,1204.8 1876.2,1204.8 1877.3,1204.7 1878.3,1204.6 1879.3,1204.6 1880.4,1204.5 1881.4,1204.5 1882.4,1204.4 1883.5,1204.3 1884.5,1204.3 1885.5,1204.2 1886.6,1204.2 1887.6,1204.1 1888.6,1204.0 1889.7,1204.0 1890.7,1203.9 1891.7,1203.9 1892.8,1203.8 1893.8,1203.7 1894.8,1203.7 1895.9,1203.6 1896.9,1203.6 1897.9,1203.5 1899.0,1203.4 1900.0,1203.4 1901.0,1203.3 1902.0,1203.3 1903.1,1203.2 1904.1,1203.1 1905.1,1203.1 1906.2,1203.0 1907.2,1203.0 1908.2,1202.9 1909.3,1202.8 1910.3,1202.8 1911.3,1202.7 1912.4,1202.7 1913.4,1202.6 1914.4,1202.5 1915.5,1202.5 1916.5,1202.4 1917.5,1202.3 1918.6,1202.3 1919.6,1202.2 1920.6,1202.2 1921.7,1202.1 1922.7,1202.0 1923.7,1202.0 1924.8,1201.9 1925.8,1201.9 1926.8,1201.8 1927.9,1201.7 1928.9,1201.7 1929.9,1201.6 1931.0,1201.6 1932.0,1201.5 1933.0,1201.4 1934.0,1201.4 1935.1,1201.3 1936.1,1201.3 1937.1,1201.2 1938.2,1201.1 1939.2,1201.1 1940.2,1201.0 1941.3,1201.0 1942.3,1200.9 1943.3,1200.8 1944.4,1200.8 1945.2,1411.7 1946.2,1452.8 1947.3,1470.6 1948.3,1478.4 1949.3,1481.7 1950.4,1483.2 1951.4,1483.8 1952.4,1484.1 1953.5,1484.2 1954.5,1484.3 1955.5,1484.3 1956.6,1484.3 1957.6,1484.3 1958.6,1484.3 1959.6,1484.3 1960.7,1484.3 1961.7,1484.3 1962.7,1484.3 1963.8,1484.3 1964.8,1484.3 1965.8,1484.3 1966.9,1484.3 1967.9,1484.3 1968.9,1484.3 1970.0,1484.3 1971.0,1484.3 1972.0,1484.3 1973.1,1484.3 1974.1,1484.3 1975.1,1484.3 1976.2,1484.3 1977.2,1484.3 1978.2,1484.3 1979.3,1484.3 1980.3,1484.3 1981.3,1484.3 1982.4,1484.3 1983.4,1484.3 1984.4,1484.3 1985.5,1484.3 1986.5,1484.3 1987.5,1484.3 1988.6,1484.3 1989.6,1484.3 1990.6,1484.3 1991.6,1484.3 1992.7,1484.3 1993.7,1484.3 1994.7,1484.3 1995.8,1484.3 1996.8,1484.3 1997.8,1484.3 1998.9,1484.3 1999.9,1484.3 2000.9,1484.3 2002.0,1484.3 2003.0,1484.3 2004.0,1484.3 2005.1,1484.3 2006.1,1484.3 2007.1,1484.3 2008.2,1484.3 2009.2,1484.3 2010.2,1484.3 2011.3,1484.3 2012.3,1484.3 2013.3,1484.3 2014.4,1484.3 2015.4,1484.3 2016.4,1484.3 2017.5,1484.3 2018.5,1484.3 2019.5,1484.3 2020.6,1484.3 2021.6,1484.3 2022.6,1484.3 2023.6,1484.3 2024.7,1484.3 2025.7,1484.3 2026.7,1484.3 2027.8,1484.3 2028.8,1484.3 2029.8,1484.3 2030.9,1484.3 2031.9,1484.3 2032.9,1484.3 2034.0,1484.3 2035.0,1484.3 2036.0,1484.3 2037.1,1484.3 2038.1,1484.3 2039.1,1484.3 2040.2,1484.3 2041.2,1484.3 2042.2,1484.3 2043.3,1484.3 2044.3,1484.3 2045.3,1484.3 2046.4,1484.3 2047.4,1484.3 2048.4,1484.3 2049.5,1484.3 2050.5,1484.3 2051.5,1484.3 2052.6,1484.3 2053.6,1484.3 2054.6,1484.3 2055.6,1484.3 2056.7,1484.3 2057.7,1484.3 2058.7,1484.3 2059.8,1484.3 2060.8,1484.3 2061.8,1484.3 2062.9,1484.3 2063.9,1484.3 2064.9,1484.3 2066.0,1484.3" fill="none" stroke="#d8375a" stroke-width="3" stroke-linejoin="round" marker-start="url(#m5)" marker-mid="url(#m5)" marker-end="url(#m5)"/>
<polyline points="1199.5,1462.1 1200.5,1462.5 1201.6,1462.9 1202.6,1463.2 1203.6,1463.6 1204.7,1463.9 1205.7,1464.3 1206.7,1464.6 1207.8,1464.9 1208.8,1465.2 1209.8,1465.5 1210.9,1465.8 1211.9,1466.1 1212.9,1466.3 1214.0,1466.6 1215.0,1466.9 1216.0,1467.1 1217.0,1467.3 1218.1,1467.6 1219.1,1467.8 1220.1,1468.0 1221.2,1468.2 1222.2,1468.4 1223.2,1468.6 1224.3,1468.8 1225.3,1469.0 1226.3,1469.2 1227.4,1469.3 1228.4,1469.5 1229.4,1469.7 1230.5,1469.8 1231.5,1470.0 1232.5,1470.1 1233.6,1470.3 1234.6,1470.4 1235.6,1470.6 1236.7,1470.7 1237.7,1470.8 1238.7,1470.9 1239.8,1471.1 1240.8,1471.2 1241.8,1471.3 1242.9,1471.4 1243.9,1471.5 1244.9,1471.6 1246.0,1471.7 1247.0,1471.8 1248.0,1471.9 1249.0,1472.0 1250.1,1472.1 1251.1,1472.1 1252.1,1472.2 1253.2,1472.3 1254.2,1472.4 1255.2,1472.5 1256.3,1472.5 1257.3,1472.6 1258.3,1472.7 1259.4,1472.7 1260.4,1472.8 1261.4,1472.9 1262.5,1472.9 1263.5,1473.0 1264.5,1473.0 1265.6,1473.1 1266.6,1473.1 1267.6,1473.2 1268.7,1473.2 1269.7,1473.3 1270.7,1473.3 1271.8,1473.4 1272.8,1473.4 1273.8,1473.5 1274.9,1473.5 1275.9,1473.6 1276.9,1473.6 1278.0,1473.6 1279.0,1473.7 1280.0,1473.7 1281.0,1473.7 1282.1,1473.8 1283.1,1473.8 1284.1,1473.8 1285.2,1473.9 1286.2,1473.9 1287.2,1473.9 1288.3,1473.9 1289.3,1474.0 1290.3,1474.0 1291.4,1474.0 1292.4,1474.0 1293.4,1474.1 1294.5,1474.1 1295.5,1474.1 1296.5,1474.1 1297.6,1474.2 1298.6,1474.2 1299.6,1474.2 1300.7,1474.2 1301.7,1474.2 1302.7,1474.3 1303.8,1474.3 1304.8,1474.3 1305.8,1474.3 1306.9,1474.3 1307.9,1474.3 1308.9,1474.3 1310.0,1474.4 1311.0,1474.4 1312.0,1474.4 1313.0,1474.4 1314.1,1474.4 1315.1,1474.4 1316.1,1474.4 1317.2,1474.5 1318.2,1474.5 1319.2,1474.5 1320.3,1474.5 1321.3,1474.5 1322.3,1474.5 1323.4,1474.5 1324.4,1474.5 1325.4,968.5 1326.5,964.1 1327.5,959.9 1328.5,955.9 1329.6,952.2 1330.6,948.7 1331.6,945.3 1332.7,942.2 1333.7,939.2 1334.7,936.3 1335.8,933.7 1336.8,931.1 1337.8,928.7 1338.9,926.5 1339.9,924.3 1340.9,922.3 1342.0,920.4 1343.0,918.6 1344.0,916.9 1345.0,915.2 1346.1,913.7 1347.1,912.2 1348.1,910.9 1349.2,909.6 1350.2,908.3 1351.2,907.2 1352.3,906.1 1353.3,905.0 1354.3,904.1 1355.4,903.1 1356.4,902.2 1357.4,901.4 1358.5,900.6 1359.5,899.9 1360.5,899.2 1361.6,898.5 1362.6,897.9 1363.6,897.3 1364.7,896.7 1365.7,896.2 1366.7,895.7 1367.8,895.2 1368.8,894.7 1369.8,894.3 1370.9,893.9 1371.9,893.5 1372.9,893.2 1374.0,892.8 1375.0,892.5 1376.0,892.2 1377.0,891.9 1378.1,891.6 1379.1,891.4 1380.1,891.1 1381.2,890.9 1382.2,890.7 1383.2,890.5 1384.3,890.3 1385.3,890.1 1386.3,889.9 1387.4,889.7 1388.4,889.6 1389.4,889.4 1390.5,889.3 1391.5,889.1 1392.5,889.0 1393.6,888.9 1394.6,888.8 1395.6,888.7 1396.7,888.6 1397.7,888.5 1398.7,888.4 1399.8,888.3 1400.8,888.2 1401.8,888.2 1402.9,888.1 1403.9,888.0 1404.9,887.9 1406.0,887.9 1407.0,887.8 1408.0,887.8 1409.0,887.7 1410.1,887.7 1411.1,887.6 1412.1,887.6 1413.2,887.5 1414.2,887.5 1415.2,887.5 1416.3,887.4 1417.3,887.4 1418.3,887.4 1419.4,887.3 1420.4,887.3 1421.4,887.3 1422.5,887.3 1423.5,887.2 1424.5,887.2 1425.6,887.2 1426.6,887.2 1427.6,887.1 1428.7,887.1 1429.7,887.1 1430.7,887.1 1431.8,887.1 1432.8,887.1 1433.8,887.1 1434.9,887.0 1435.9,887.0 1436.9,887.0 1437.9,887.0 1439.0,887.0 1440.0,887.0 1441.0,887.0 1442.1,887.0 1443.1,887.0 1444.1,887.0 1445.2,886.9 1446.2,886.9 1447.2,886.9 1448.3,886.9 1449.3,886.9 1449.7,1420.4 1450.7,1431.6 1451.8,1439.9 1452.8,1446.1 1453.8,1450.8 1454.9,1454.3 1455.9,1457.0 1456.9,1459.0 1458.0,1460.6 1459.0,1461.9 1460.0,1462.9 1461.1,1463.8 1462.1,1464.5 1463.1,1465.1 1464.2,1465.6 1465.2,1466.0 1466.2,1466.5 1467.3,1466.8 1468.3,1467.2 1469.3,1467.5 1470.4,1467.8 1471.4,1468.1 1472.4,1468.4 1473.5,1468.6 1474.5,1468.9 1475.5,1469.1 1476.6,1469.4 1477.6,1469.6 1478.6,1469.8 1479.7,1470.0 1480.7,1470.2 1481.7,1470.4 1482.7,1470.6 1483.8,1470.8 1484.8,1471.0 1485.8,1471.2 1486.9,1471.3 1487.9,1471.5 1488.9,1471.6 1490.0,1471.8 1491.0,1471.9 1492.0,1472.1 1493.1,1472.2 1494.1,1472.4 1495.1,1472.5 1496.2,1472.6 1497.2,1472.7 1498.2,1472.9 1499.3,1473.0 1500.3,1473.1 1501.3,1473.2 1502.4,1473.3 1503.4,1473.4 1504.4,1473.5 1505.5,1473.6 1506.5,1473.7 1507.5,1473.8 1508.6,1473.9 1509.6,1474.0 1510.6,1474.0 1511.7,1474.1 1512.7,1474.2 1513.7,1474.3 1514.7,1474.3 1515.8,1474.4 1516.8,1474.5 1517.8,1474.5 1518.9,1474.6 1519.9,1474.7 1520.9,1474.7 1522.0,1474.8 1523.0,1474.8 1524.0,1474.9 1525.1,1475.0 1526.1,1475.0 1527.1,1475.1 1528.2,1475.1 1529.2,1475.2 1530.2,1475.2 1531.3,1475.2 1532.3,1475.3 1533.3,1475.3 1534.4,1475.4 1535.4,1475.4 1536.4,1475.4 1537.5,1475.5 1538.5,1475.5 1539.5,1475.5 1540.6,1475.6 1541.6,1475.6 1542.6,1475.6 1543.7,1475.7 1544.7,1475.7 1545.7,1475.7 1546.7,1475.8 1547.8,1475.8 1548.8,1475.8 1549.8,1475.8 1550.9,1475.9 1551.9,1475.9 1552.9,1475.9 1554.0,1475.9 1555.0,1476.0 1556.0,1476.0 1557.1,1476.0 1558.1,1476.0 1559.1,1476.0 1560.2,1476.0 1561.2,1476.1 1562.2,1476.1 1563.3,1476.1 1564.3,1476.1 1565.3,1476.1 1566.4,1476.1 1567.4,1476.2 1568.4,1476.2 1569.5,1476.2 1570.5,1476.2 1571.5,1476.2 1572.6,1476.2 1573.2,968.5 1574.2,964.1 1575.2,959.9 1576.3,955.9 1577.3,952.2 1578.3,948.7 1579.4,945.3 1580.4,942.2 1581.4,939.2 1582.5,936.3 1583.5,933.7 1584.5,931.1 1585.6,928.7 1586.6,926.5 1587.6,924.3 1588.7,922.3 1589.7,920.4 1590.7,918.6 1591.8,916.9 1592.8,915.2 1593.8,913.7 1594.9,912.2 1595.9,910.9 1596.9,909.6 1597.9,908.3 1599.0,907.2 1600.0,906.1 1601.0,905.0 1602.1,904.1 1603.1,903.1 1604.1,902.2 1605.2,901.4 1606.2,900.6 1607.2,899.9 1608.3,899.2 1609.3,898.5 1610.3,897.9 1611.4,897.3 1612.4,896.7 1613.4,896.2 1614.5,895.7 1615.5,895.2 1616.5,894.7 1617.6,894.3 1618.6,893.9 1619.6,893.5 1620.7,893.2 1621.7,892.8 1622.7,892.5 1623.8,892.2 1624.8,891.9 1625.8,891.6 1626.9,891.4 1627.9,891.1 1628.9,890.9 1629.9,890.7 1631.0,890.5 1632.0,890.3 1633.0,890.1 1634.1,889.9 1635.1,889.7 1636.1,889.6 1637.2,889.4 1638.2,889.3 1639.2,889.1 1640.3,889.0 1641.3,888.9 1642.3,888.8 1643.4,888.7 1644.4,888.6 1645.4,888.5 1646.5,888.4 1647.5,888.3 1648.5,888.2 1649.6,888.2 1650.6,888.1 1651.6,888.0 1652.7,887.9 1653.7,887.9 1654.7,887.8 1655.8,887.8 1656.8,887.7 1657.8,887.7 1658.9,887.6 1659.9,887.6 1660.9,887.5 1661.9,887.5 1663.0,887.5 1664.0,887.4 1665.0,887.4 1666.1,887.4 1667.1,887.3 1668.1,887.3 1669.2,887.3 1670.2,887.3 1671.2,887.2 1672.3,887.2 1673.3,887.2 1674.3,887.2 1675.4,887.1 1676.4,887.1 1677.4,887.1 1678.5,887.1 1679.5,887.1 1680.5,887.1 1681.6,887.1 1682.6,887.0 1683.6,887.0 1684.7,887.0 1685.7,887.0 1686.7,887.0 1687.8,887.0 1688.8,887.0 1689.8,887.0 1690.9,887.0 1691.9,887.0 1692.9,886.9 1693.9,886.9 1695.0,886.9 1696.0,886.9 1697.0,886.9 1697.5,1420.4 1698.5,1431.6 1699.5,1439.9 1700.6,1446.1 1701.6,1450.8 1702.6,1454.3 1703.7,1457.0 1704.7,1459.0 1705.7,1460.6 1706.7,1461.9 1707.8,1462.9 1708.8,1463.8 1709.8,1464.5 1710.9,1465.1 1711.9,1465.6 1712.9,1466.0 1714.0,1466.5 1715.0,1466.8 1716.0,1467.2 1717.1,1467.5 1718.1,1467.8 1719.1,1468.1 1720.2,1468.4 1721.2,1468.6 1722.2,1468.9 1723.3,1469.1 1724.3,1469.4 1725.3,1469.6 1726.4,1469.8 1727.4,1470.0 1728.4,1470.2 1729.5,1470.4 1730.5,1470.6 1731.5,1470.8 1732.6,1471.0 1733.6,1471.2 1734.6,1471.3 1735.7,1471.5 1736.7,1471.6 1737.7,1471.8 1738.7,1471.9 1739.8,1472.1 1740.8,1472.2 1741.8,1472.4 1742.9,1472.5 1743.9,1472.6 1744.9,1472.7 1746.0,1472.9 1747.0,1473.0 1748.0,1473.1 1749.1,1473.2 1750.1,1473.3 1751.1,1473.4 1752.2,1473.5 1753.2,1473.6 1754.2,1473.7 1755.3,1473.8 1756.3,1473.9 1757.3,1474.0 1758.4,1474.0 1759.4,1474.1 1760.4,1474.2 1761.5,1474.3 1762.5,1474.3 1763.5,1474.4 1764.6,1474.5 1765.6,1474.5 1766.6,1474.6 1767.7,1474.7 1768.7,1474.7 1769.7,1474.8 1770.7,1474.8 1771.8,1474.9 1772.8,1475.0 1773.8,1475.0 1774.9,1475.1 1775.9,1475.1 1776.9,1475.2 1778.0,1475.2 1779.0,1475.2 1780.0,1475.3 1781.1,1475.3 1782.1,1475.4 1783.1,1475.4 1784.2,1475.4 1785.2,1475.5 1786.2,1475.5 1787.3,1475.5 1788.3,1475.6 1789.3,1475.6 1790.4,1475.6 1791.4,1475.7 1792.4,1475.7 1793.5,1475.7 1794.5,1475.8 1795.5,1475.8 1796.6,1475.8 1797.6,1475.8 1798.6,1475.9 1799.7,1475.9 1800.7,1475.9 1801.7,1475.9 1802.7,1476.0 1803.8,1476.0 1804.8,1476.0 1805.8,1476.0 1806.9,1476.0 1807.9,1476.0 1808.9,1476.1 1810.0,1476.1 1811.0,1476.1 1812.0,1476.1 1813.1,1476.1 1814.1,1476.1 1815.1,1476.2 1816.2,1476.2 1817.2,1476.2 1818.2,1476.2 1819.3,1476.2 1820.3,1476.2 1820.5,968.5 1821.5,964.1 1822.6,959.9 1823.6,955.9 1824.6,952.2 1825.7,948.7 1826.7,945.3 1827.7,942.2 1828.8,939.2 1829.8,936.3 1830.8,933.7 1831.9,931.1 1832.9,928.7 1833.9,926.5 1835.0,924.3 1836.0,922.3 1837.0,920.4 1838.0,918.6 1839.1,916.9 1840.1,915.2 1841.1,913.7 1842.2,912.2 1843.2,910.9 1844.2,909.6 1845.3,908.3 1846.3,907.2 1847.3,906.1 1848.4,905.0 1849.4,904.1 1850.4,903.1 1851.5,902.2 1852.5,901.4 1853.5,900.6 1854.6,899.9 1855.6,899.2 1856.6,898.5 1857.7,897.9 1858.7,897.3 1859.7,896.7 1860.8,896.2 1861.8,895.7 1862.8,895.2 1863.9,894.7 1864.9,894.3 1865.9,893.9 1867.0,893.5 1868.0,893.2 1869.0,892.8 1870.0,892.5 1871.1,892.2 1872.1,891.9 1873.1,891.6 1874.2,891.4 1875.2,891.1 1876.2,890.9 1877.3,890.7 1878.3,890.5 1879.3,890.3 1880.4,890.1 1881.4,889.9 1882.4,889.7 1883.5,889.6 1884.5,889.4 1885.5,889.3 1886.6,889.1 1887.6,889.0 1888.6,888.9 1889.7,888.8 1890.7,888.7 1891.7,888.6 1892.8,888.5 1893.8,888.4 1894.8,888.3 1895.9,888.2 1896.9,888.2 1897.9,888.1 1899.0,888.0 1900.0,887.9 1901.0,887.9 1902.0,887.8 1903.1,887.8 1904.1,887.7 1905.1,887.7 1906.2,887.6 1907.2,887.6 1908.2,887.5 1909.3,887.5 1910.3,887.5 1911.3,887.4 1912.4,887.4 1913.4,887.4 1914.4,887.3 1915.5,887.3 1916.5,887.3 1917.5,887.3 1918.6,887.2 1919.6,887.2 1920.6,887.2 1921.7,887.2 1922.7,887.1 1923.7,887.1 1924.8,887.1 1925.8,887.1 1926.8,887.1 1927.9,887.1 1928.9,887.1 1929.9,887.0 1931.0,887.0 1932.0,887.0 1933.0,887.0 1934.0,887.0 1935.1,887.0 1936.1,887.0 1937.1,887.0 1938.2,887.0 1939.2,887.0 1940.2,886.9 1941.3,886.9 1942.3,886.9 1943.3,886.9 1944.4,886.9 1945.2,1420.4 1946.2,1431.6 1947.3,1439.9 1948.3,1446.1 1949.3,1450.8 1950.4,1454.3 1951.4,1457.0 1952.4,1459.0 1953.5,1460.6 1954.5,1461.9 1955.5,1462.9 1956.6,1463.8 1957.6,1464.5 1958.6,1465.1 1959.6,1465.6 1960.7,1466.0 1961.7,1466.5 1962.7,1466.8 1963.8,1467.2 1964.8,1467.5 1965.8,1467.8 1966.9,1468.1 1967.9,1468.4 1968.9,1468.6 1970.0,1468.9 1971.0,1469.1 1972.0,1469.4 1973.1,1469.6 1974.1,1469.8 1975.1,1470.0 1976.2,1470.2 1977.2,1470.4 1978.2,1470.6 1979.3,1470.8 1980.3,1471.0 1981.3,1471.2 1982.4,1471.3 1983.4,1471.5 1984.4,1471.6 1985.5,1471.8 1986.5,1471.9 1987.5,1472.1 1988.6,1472.2 1989.6,1472.4 1990.6,1472.5 1991.6,1472.6 1992.7,1472.7 1993.7,1472.9 1994.7,1473.0 1995.8,1473.1 1996.8,1473.2 1997.8,1473.3 1998.9,1473.4 1999.9,1473.5 2000.9,1473.6 2002.0,1473.7 2003.0,1473.8 2004.0,1473.9 2005.1,1474.0 2006.1,1474.0 2007.1,1474.1 2008.2,1474.2 2009.2,1474.3 2010.2,1474.3 2011.3,1474.4 2012.3,1474.5 2013.3,1474.5 2014.4,1474.6 2015.4,1474.7 2016.4,1474.7 2017.5,1474.8 2018.5,1474.8 2019.5,1474.9 2020.6,1475.0 2021.6,1475.0 2022.6,1475.1 2023.6,1475.1 2024.7,1475.2 2025.7,1475.2 2026.7,1475.2 2027.8,1475.3 2028.8,1475.3 2029.8,1475.4 2030.9,1475.4 2031.9,1475.4 2032.9,1475.5 2034.0,1475.5 2035.0,1475.5 2036.0,1475.6 2037.1,1475.6 2038.1,1475.6 2039.1,1475.7 2040.2,1475.7 2041.2,1475.7 2042.2,1475.8 2043.3,1475.8 2044.3,1475.8 2045.3,1475.8 2046.4,1475.9 2047.4,1475.9 2048.4,1475.9 2049.5,1475.9 2050.5,1476.0 2051.5,1476.0 2052.6,1476.0 2053.6,1476.0 2054.6,1476.0 2055.6,1476.0 2056.7,1476.1 2057.7,1476.1 2058.7,1476.1 2059.8,1476.1 2060.8,1476.1 2061.8,1476.1 2062.9,1476.2 2063.9,1476.2 2064.9,1476.2 2066.0,1476.2" fill="none" stroke="#4a62d8" stroke-width="3" stroke-linejoin="round" marker-start="url(#m6)" marker-mid="url(#m6)" marker-end="url(#m6)"/>
<rect x="1199.5" y="806.0" width="867.5" height="697.5" fill="none" stroke="#262626" stroke-width="5"/>
<line x1="1199.5" y1="1503.5" x2="1199.5" y2="1490.5" stroke="#262626" stroke-width="3"/>
<line x1="1261.4" y1="1503.5" x2="1261.4" y2="1496.5" stroke="#262626" stroke-width="3"/>
<line x1="1323.4" y1="1503.5" x2="1323.4" y2="1490.5" stroke="#262626" stroke-width="3"/>
<line x1="1385.3" y1="1503.5" x2="1385.3" y2="1496.5" stroke="#262626" stroke-width="3"/>
<line x1="1447.2" y1="1503.5" x2="1447.2" y2="1490.5" stroke="#262626" stroke-width="3"/>
<line x1="1509.2" y1="1503.5" x2="1509.2" y2="1496.5" stroke="#262626" stroke-width="3"/>
<line x1="1571.1" y1="1503.5" x2="1571.1" y2="1490.5" stroke="#262626" stroke-width="3"/>
<line x1="1633.0" y1="1503.5" x2="1633.0" y2="1496.5" stroke="#262626" stroke-width="3"/>
<line x1="1695.0" y1="1503.5" x2="1695.0" y2="1490.5" stroke="#262626" stroke-width="3"/>
<line x1="1756.9" y1="1503.5" x2="1756.9" y2="1496.5" stroke="#262626" stroke-width="3"/>
<line x1="1818.8" y1="1503.5" x2="1818.8" y2="1490.5" stroke="#262626" stroke-width="3"/>
<line x1="1880.8" y1="1503.5" x2="1880.8" y2="1496.5" stroke="#262626" stroke-width="3"/>
<line x1="1942.7" y1="1503.5" x2="1942.7" y2="1490.5" stroke="#262626" stroke-width="3"/>
<line x1="2004.7" y1="1503.5" x2="2004.7" y2="1496.5" stroke="#262626" stroke-width="3"/>
<line x1="2066.6" y1="1503.5" x2="2066.6" y2="1490.5" stroke="#262626" stroke-width="3"/>
<text x="1199.5" y="1551.5" font-size="41" text-anchor="middle" fill="#111">0</text>
<text x="1323.4" y="1551.5" font-size="41" text-anchor="middle" fill="#111">30</text>
<text x="1447.2" y="1551.5" font-size="41" text-anchor="middle" fill="#111">60</text>
<text x="1571.1" y="1551.5" font-size="41" text-anchor="middle" fill="#111">90</text>
<text x="1695.0" y="1551.5" font-size="41" text-anchor="middle" fill="#111">120</text>
<text x="1818.8" y="1551.5" font-size="41" text-anchor="middle" fill="#111">150</text>
<text x="1942.7" y="1551.5" font-size="41" text-anchor="middle" fill="#111">180</text>
<text x="2066.6" y="1551.5" font-size="41" text-anchor="middle" fill="#111">210</text>
<line x1="1199.5" y1="1485.7" x2="1212.5" y2="1485.7" stroke="#262626" stroke-width="3"/>
<line x1="1199.5" y1="1440.3" x2="1206.5" y2="1440.3" stroke="#262626" stroke-width="3"/>
<line x1="1199.5" y1="1395.0" x2="1212.5" y2="1395.0" stroke="#262626" stroke-width="3"/>
<line x1="1199.5" y1="1349.6" x2="1206.5" y2="1349.6" stroke="#262626" stroke-width="3"/>
<line x1="1199.5" y1="1304.2" x2="1212.5" y2="1304.2" stroke="#262626" stroke-width="3"/>
<line x1="1199.5" y1="1258.9" x2="1206.5" y2="1258.9" stroke="#262626" stroke-width="3"/>
<line x1="1199.5" y1="1213.5" x2="1212.5" y2="1213.5" stroke="#262626" stroke-width="3"/>
<line x1="1199.5" y1="1168.1" x2="1206.5" y2="1168.1" stroke="#262626" stroke-width="3"/>
<line x1="1199.5" y1="1122.7" x2="1212.5" y2="1122.7" stroke="#262626" stroke-width="3"/>
<line x1="1199.5" y1="1077.4" x2="1206.5" y2="1077.4" stroke="#262626" stroke-width="3"/>
<line x1="1199.5" y1="1032.0" x2="1212.5" y2="1032.0" stroke="#262626" stroke-width="3"/>
<line x1="1199.5" y1="986.6" x2="1206.5" y2="986.6" stroke="#262626" stroke-width="3"/>
<line x1="1199.5" y1="941.3" x2="1212.5" y2="941.3" stroke="#262626" stroke-width="3"/>
<line x1="1199.5" y1="895.9" x2="1206.5" y2="895.9" stroke="#262626" stroke-width="3"/>
<line x1="1199.5" y1="850.5" x2="1212.5" y2="850.5" stroke="#262626" stroke-width="3"/>
<text x="1186.0" y="1498.7" font-size="41" text-anchor="end" fill="#111">0</text>
<text x="1186.0" y="1408.0" font-size="41" text-anchor="end" fill="#111">10</text>
<text x="1186.0" y="1317.2" font-size="41" text-anchor="end" fill="#111">20</text>
<text x="1186.0" y="1226.5" font-size="41" text-anchor="end" fill="#111">30</text>
<text x="1186.0" y="1135.7" font-size="41" text-anchor="end" fill="#111">40</text>
<text x="1186.0" y="1045.0" font-size="41" text-anchor="end" fill="#111">50</text>
<text x="1186.0" y="954.3" font-size="41" text-anchor="end" fill="#111">60</text>
<text x="1186.0" y="863.5" font-size="41" text-anchor="end" fill="#111">70</text>
<text x="1633.0" y="1617.0" font-size="58.5" text-anchor="middle" fill="#111">Time (s)</text>
<text x="1116.0" y="1155.0" font-size="58.5" text-anchor="middle" fill="#111" transform="rotate(-90 1116.0 1155.0)">Current (μA)</text>
<line x1="1229.0" y1="841.0" x2="1327.0" y2="841.0" stroke="#6e6e6e" stroke-width="5"/>
<circle cx="1278.0" cy="841.0" r="7.0" fill="#f0f0f0" stroke="#6e6e6e" stroke-width="2"/>
<text x="1340.0" y="855.0" font-size="41" text-anchor="start" fill="#111">380 nm</text>
<line x1="1506.0" y1="841.0" x2="1610.0" y2="841.0" stroke="#d8375a" stroke-width="5"/>
<circle cx="1558.0" cy="841.0" r="7.0" fill="#f6c8d4" stroke="#d8375a" stroke-width="2"/>
<text x="1620.0" y="855.0" font-size="41" text-anchor="start" fill="#111">480 nm</text>
<line x1="1792.0" y1="841.0" x2="1890.0" y2="841.0" stroke="#4a62d8" stroke-width="5"/>
<polygon points="1841.0,833.3 1848.7,846.6 1833.3,846.6" fill="#a9d2f2" stroke="#4a62d8" stroke-width="2"/>
<text x="1903.0" y="855.0" font-size="41" text-anchor="start" fill="#111">580 nm</text>
<polyline points="2244.5,1417.5 2253.5,1417.5 2262.4,1417.5 2271.4,1417.5 2280.4,1417.5 2289.3,1417.5 2298.3,1417.5 2307.3,1417.5 2316.3,1417.5 2325.2,1417.5 2334.2,1417.5 2343.2,1417.5 2352.1,1417.5 2361.1,1417.5 2370.1,1417.5 2379.0,1417.5 2388.0,1417.5 2397.0,1417.5 2406.0,1417.5 2414.9,1417.5 2423.9,1417.5 2432.9,1417.5 2441.8,1417.5 2450.8,1417.5 2459.8,1417.5" fill="none" stroke="#4d4d4d" stroke-width="22" stroke-linejoin="round"/>
<polyline points="2244.5,1417.5 2253.5,1417.5 2262.4,1417.5 2271.4,1417.5 2280.4,1417.5 2289.3,1417.5 2298.3,1417.5 2307.3,1417.5 2316.3,1417.5 2325.2,1417.5 2334.2,1417.5 2343.2,1417.5 2352.1,1417.5 2361.1,1417.5 2370.1,1417.5 2379.0,1417.5 2388.0,1417.5 2397.0,1417.5 2406.0,1417.5 2414.9,1417.5 2423.9,1417.5 2432.9,1417.5 2441.8,1417.5 2450.8,1417.5 2459.8,1417.5" fill="none" stroke="#858585" stroke-width="15" stroke-linejoin="round"/>
<polyline points="2491.2,888.0 2495.7,880.4 2500.1,881.6 2504.6,882.5 2509.1,883.4 2513.6,884.1 2518.1,884.7 2522.6,885.2 2527.1,885.6 2531.5,886.0 2536.0,886.3 2540.5,886.6 2545.0,886.8 2549.5,887.0 2554.0,887.1 2558.4,887.3 2562.9,887.4 2567.4,887.5 2571.9,887.6 2576.4,887.6 2580.9,887.7 2585.4,887.7 2589.8,887.8 2594.3,887.8 2598.8,887.8 2603.3,887.9 2607.8,887.9 2612.3,887.9 2616.8,887.9 2621.2,887.9 2625.7,887.9 2630.2,887.9 2634.7,888.0 2639.2,888.0 2643.7,888.0 2648.1,888.0 2652.6,888.0 2657.1,888.0 2661.6,888.0 2666.1,888.0 2670.6,888.0 2675.1,888.0 2679.5,888.0 2684.0,888.0 2688.5,888.0 2693.0,888.0" fill="none" stroke="#4d4d4d" stroke-width="24" stroke-linejoin="round"/>
<polyline points="2491.2,888.0 2495.7,880.4 2500.1,881.6 2504.6,882.5 2509.1,883.4 2513.6,884.1 2518.1,884.7 2522.6,885.2 2527.1,885.6 2531.5,886.0 2536.0,886.3 2540.5,886.6 2545.0,886.8 2549.5,887.0 2554.0,887.1 2558.4,887.3 2562.9,887.4 2567.4,887.5 2571.9,887.6 2576.4,887.6 2580.9,887.7 2585.4,887.7 2589.8,887.8 2594.3,887.8 2598.8,887.8 2603.3,887.9 2607.8,887.9 2612.3,887.9 2616.8,887.9 2621.2,887.9 2625.7,887.9 2630.2,887.9 2634.7,888.0 2639.2,888.0 2643.7,888.0 2648.1,888.0 2652.6,888.0 2657.1,888.0 2661.6,888.0 2666.1,888.0 2670.6,888.0 2675.1,888.0 2679.5,888.0 2684.0,888.0 2688.5,888.0 2693.0,888.0" fill="none" stroke="#858585" stroke-width="17" stroke-linejoin="round"/>
<rect x="2467.7" y="901.0" width="20.0" height="20.0" fill="#f4f4f4" stroke="#555" stroke-width="2.5"/>
<rect x="2464.3" y="885.0" width="16.0" height="16.0" fill="#5a5aa8" stroke="#5a5aa8" stroke-width="2"/>
<polyline points="2701.6,884.0 2706.1,884.0 2710.5,884.0 2715.0,884.0 2719.5,884.0 2723.9,884.0 2728.4,884.0 2732.9,884.0 2737.4,884.0 2741.8,884.0 2746.3,884.0 2750.8,884.0 2755.2,884.0 2759.7,884.0 2764.2,884.0 2768.6,884.0 2773.1,884.0 2777.6,884.0 2782.1,884.0 2786.5,884.0 2791.0,884.0 2795.5,884.0 2799.9,884.0 2804.4,884.0 2808.9,884.0 2813.3,884.0 2817.8,884.0 2822.3,884.0 2826.8,884.0 2831.2,884.0 2835.7,884.0 2840.2,884.0 2844.6,884.0 2849.1,884.0 2853.6,884.0 2858.0,884.0 2862.5,884.0 2867.0,884.0 2871.5,884.0 2875.9,884.0 2880.4,884.0 2884.9,884.0 2889.3,884.0 2893.8,884.0 2898.3,884.0 2902.7,884.0 2907.2,884.0 2911.7,884.0 2916.2,884.0" fill="none" stroke="#4d4d4d" stroke-width="22" stroke-linejoin="round"/>
<polyline points="2701.6,884.0 2706.1,884.0 2710.5,884.0 2715.0,884.0 2719.5,884.0 2723.9,884.0 2728.4,884.0 2732.9,884.0 2737.4,884.0 2741.8,884.0 2746.3,884.0 2750.8,884.0 2755.2,884.0 2759.7,884.0 2764.2,884.0 2768.6,884.0 2773.1,884.0 2777.6,884.0 2782.1,884.0 2786.5,884.0 2791.0,884.0 2795.5,884.0 2799.9,884.0 2804.4,884.0 2808.9,884.0 2813.3,884.0 2817.8,884.0 2822.3,884.0 2826.8,884.0 2831.2,884.0 2835.7,884.0 2840.2,884.0 2844.6,884.0 2849.1,884.0 2853.6,884.0 2858.0,884.0 2862.5,884.0 2867.0,884.0 2871.5,884.0 2875.9,884.0 2880.4,884.0 2884.9,884.0 2889.3,884.0 2893.8,884.0 2898.3,884.0 2902.7,884.0 2907.2,884.0 2911.7,884.0 2916.2,884.0" fill="none" stroke="#858585" stroke-width="15" stroke-linejoin="round"/>
<polyline points="2925.1,1403.0 2929.6,1403.1 2934.0,1403.3 2938.5,1403.4 2943.0,1403.6 2947.4,1403.7 2951.9,1403.9 2956.4,1404.0 2960.9,1404.2 2965.3,1404.3 2969.8,1404.4 2974.3,1404.6 2978.7,1404.7 2983.2,1404.9 2987.7,1405.0 2992.1,1405.2 2996.6,1405.3 3001.1,1405.5 3005.6,1405.6 3010.0,1405.7 3014.5,1405.9 3019.0,1406.0 3023.4,1406.2 3027.9,1406.3 3032.4,1406.5 3036.8,1406.6 3041.3,1406.8 3045.8,1406.9 3050.3,1407.0 3054.7,1407.2 3059.2,1407.3 3063.7,1407.5 3068.1,1407.6 3072.6,1407.8 3077.1,1407.9 3081.5,1408.1 3086.0,1408.2 3090.5,1408.3 3095.0,1408.5 3099.4,1408.6 3103.9,1408.8 3108.4,1408.9" fill="none" stroke="#4d4d4d" stroke-width="24" stroke-linejoin="round"/>
<polyline points="2925.1,1403.0 2929.6,1403.1 2934.0,1403.3 2938.5,1403.4 2943.0,1403.6 2947.4,1403.7 2951.9,1403.9 2956.4,1404.0 2960.9,1404.2 2965.3,1404.3 2969.8,1404.4 2974.3,1404.6 2978.7,1404.7 2983.2,1404.9 2987.7,1405.0 2992.1,1405.2 2996.6,1405.3 3001.1,1405.5 3005.6,1405.6 3010.0,1405.7 3014.5,1405.9 3019.0,1406.0 3023.4,1406.2 3027.9,1406.3 3032.4,1406.5 3036.8,1406.6 3041.3,1406.8 3045.8,1406.9 3050.3,1407.0 3054.7,1407.2 3059.2,1407.3 3063.7,1407.5 3068.1,1407.6 3072.6,1407.8 3077.1,1407.9 3081.5,1408.1 3086.0,1408.2 3090.5,1408.3 3095.0,1408.5 3099.4,1408.6 3103.9,1408.8 3108.4,1408.9" fill="none" stroke="#858585" stroke-width="17" stroke-linejoin="round"/>
<line x1="2925.1" y1="1399.0" x2="2976.5" y2="1399.0" stroke="#5050a0" stroke-width="10"/>
<line x1="2474.5" y1="1418.0" x2="2474.5" y2="905.0" stroke="#4a40c0" stroke-width="4"/>
<line x1="2467.0" y1="905.0" x2="2467.0" y2="1466.0" stroke="#1e1e5a" stroke-width="4" stroke-dasharray="6,4"/>
<line x1="2477.0" y1="905.0" x2="2477.0" y2="1466.0" stroke="#6a6ad8" stroke-width="2" stroke-dasharray="3,3"/>
<line x1="2920.5" y1="884.0" x2="2920.5" y2="1405.0" stroke="#1e1e5a" stroke-width="4"/>
<line x1="2926.0" y1="877.0" x2="2926.0" y2="1446.0" stroke="#3a3a90" stroke-width="3" stroke-dasharray="6,4"/>
<rect x="2915.0" y="875.0" width="18.0" height="18.0" fill="#f4f4f4" stroke="#5060c0" stroke-width="2"/>
<line x1="2367.0" y1="946.0" x2="2647.0" y2="946.0" stroke="#444" stroke-width="3.5" stroke-dasharray="7,7"/>
<line x1="2864.0" y1="1400.0" x2="2905.0" y2="1400.0" stroke="#444" stroke-width="3.5" stroke-dasharray="7,7"/>
<rect x="2244.5" y="813.5" width="866.1" height="698.0" fill="none" stroke="#262626" stroke-width="5"/>
<line x1="2334.2" y1="1511.5" x2="2334.2" y2="1496.5" stroke="#222" stroke-width="3"/>
<line x1="2423.9" y1="1511.5" x2="2423.9" y2="1496.5" stroke="#222" stroke-width="3"/>
<line x1="2513.6" y1="1511.5" x2="2513.6" y2="1496.5" stroke="#222" stroke-width="3"/>
<line x1="2603.3" y1="1511.5" x2="2603.3" y2="1496.5" stroke="#222" stroke-width="3"/>
<line x1="2753.0" y1="1511.5" x2="2753.0" y2="1496.5" stroke="#222" stroke-width="3"/>
<line x1="2842.4" y1="1511.5" x2="2842.4" y2="1496.5" stroke="#222" stroke-width="3"/>
<line x1="2931.8" y1="1511.5" x2="2931.8" y2="1496.5" stroke="#222" stroke-width="3"/>
<line x1="3021.2" y1="1511.5" x2="3021.2" y2="1496.5" stroke="#222" stroke-width="3"/>
<line x1="2289.3" y1="1511.5" x2="2289.3" y2="1503.5" stroke="#222" stroke-width="3"/>
<line x1="2379.1" y1="1511.5" x2="2379.1" y2="1503.5" stroke="#222" stroke-width="3"/>
<line x1="2468.8" y1="1511.5" x2="2468.8" y2="1503.5" stroke="#222" stroke-width="3"/>
<line x1="2558.4" y1="1511.5" x2="2558.4" y2="1503.5" stroke="#222" stroke-width="3"/>
<line x1="2648.2" y1="1511.5" x2="2648.2" y2="1503.5" stroke="#222" stroke-width="3"/>
<line x1="2797.7" y1="1511.5" x2="2797.7" y2="1503.5" stroke="#222" stroke-width="3"/>
<line x1="2887.1" y1="1511.5" x2="2887.1" y2="1503.5" stroke="#222" stroke-width="3"/>
<line x1="2976.5" y1="1511.5" x2="2976.5" y2="1503.5" stroke="#222" stroke-width="3"/>
<line x1="3065.9" y1="1511.5" x2="3065.9" y2="1503.5" stroke="#222" stroke-width="3"/>
<polygon points="2683.5,828.5 2693.5,828.5 2714.5,798.5 2704.5,798.5" fill="#f8f8f8"/>
<line x1="2683.5" y1="828.5" x2="2704.5" y2="798.5" stroke="#222" stroke-width="3"/>
<line x1="2693.5" y1="828.5" x2="2714.5" y2="798.5" stroke="#222" stroke-width="3"/>
<polygon points="2683.5,1526.5 2693.5,1526.5 2714.5,1496.5 2704.5,1496.5" fill="#f8f8f8"/>
<line x1="2683.5" y1="1526.5" x2="2704.5" y2="1496.5" stroke="#222" stroke-width="3"/>
<line x1="2693.5" y1="1526.5" x2="2714.5" y2="1496.5" stroke="#222" stroke-width="3"/>
<text x="2244.5" y="1561.0" font-size="41" text-anchor="middle" fill="#111">10</text>
<text x="2334.2" y="1561.0" font-size="41" text-anchor="middle" fill="#111">12</text>
<text x="2423.9" y="1561.0" font-size="41" text-anchor="middle" fill="#111">14</text>
<text x="2513.6" y="1561.0" font-size="41" text-anchor="middle" fill="#111">16</text>
<text x="2603.3" y="1561.0" font-size="41" text-anchor="middle" fill="#111">18</text>
<text x="2753.0" y="1561.0" font-size="41" text-anchor="middle" fill="#111">42</text>
<text x="2842.4" y="1561.0" font-size="41" text-anchor="middle" fill="#111">44</text>
<text x="2931.8" y="1561.0" font-size="41" text-anchor="middle" fill="#111">46</text>
<text x="3021.2" y="1561.0" font-size="41" text-anchor="middle" fill="#111">48</text>
<text x="3110.6" y="1561.0" font-size="41" text-anchor="middle" fill="#111">50</text>
<text x="2678.0" y="1622.0" font-size="58.5" text-anchor="middle" fill="#111">Time (s)</text>
<text x="2184.0" y="1143.0" font-size="58.5" text-anchor="middle" fill="#111" transform="rotate(-90 2184.0 1143.0)">Current (a.u.)</text>
<text x="2487.0" y="1121.0" font-size="34.5" text-anchor="start" fill="#111">0.19 s</text>
<text x="2943.0" y="1121.0" font-size="34.5" text-anchor="start" fill="#111">0.23 s</text>
<line x1="2247.0" y1="844.5" x2="2349.0" y2="844.5" stroke="#222" stroke-width="4"/>
<rect x="2289.0" y="834.5" width="20.0" height="20.0" fill="#f4f4f4" stroke="#555" stroke-width="2.5"/>
<text x="2360.0" y="859.5" font-size="40" text-anchor="start" fill="#111">380 nm</text>
<polyline points="139.0,2245.0 359.3,2245.0" fill="none" stroke="#c02a48" stroke-width="23" stroke-linejoin="round"/>
<polyline points="139.0,2245.0 359.3,2245.0" fill="none" stroke="#e36a70" stroke-width="15" stroke-linejoin="round"/>
<polyline points="365.7,1822.0 393.3,1822.0" fill="none" stroke="#c02a48" stroke-width="23" stroke-linejoin="round"/>
<polyline points="365.7,1822.0 393.3,1822.0" fill="none" stroke="#e36a70" stroke-width="15" stroke-linejoin="round"/>
<polyline points="401.8,1784.5 406.0,1784.3 410.3,1784.1 414.5,1783.8 418.8,1783.6 423.0,1783.4 427.3,1783.2 431.5,1783.0 435.8,1782.8 440.0,1782.5 444.3,1782.3 448.5,1782.1 452.8,1781.9 457.0,1781.7 461.3,1781.4 465.5,1781.2 469.8,1781.0 474.0,1780.8 478.3,1780.6 482.5,1780.4 486.8,1780.1 491.0,1779.9 495.3,1779.7 499.5,1779.5 503.8,1779.3 508.0,1779.1 512.3,1778.8 516.5,1778.6 520.8,1778.4 525.0,1778.2 529.3,1778.0 533.5,1777.7 537.8,1777.5 542.0,1777.3 546.3,1777.1 550.5,1776.9 554.8,1776.7 559.0,1776.4 563.3,1776.2 567.5,1776.0" fill="none" stroke="#c02a48" stroke-width="25" stroke-linejoin="round"/>
<polyline points="401.8,1784.5 406.0,1784.3 410.3,1784.1 414.5,1783.8 418.8,1783.6 423.0,1783.4 427.3,1783.2 431.5,1783.0 435.8,1782.8 440.0,1782.5 444.3,1782.3 448.5,1782.1 452.8,1781.9 457.0,1781.7 461.3,1781.4 465.5,1781.2 469.8,1781.0 474.0,1780.8 478.3,1780.6 482.5,1780.4 486.8,1780.1 491.0,1779.9 495.3,1779.7 499.5,1779.5 503.8,1779.3 508.0,1779.1 512.3,1778.8 516.5,1778.6 520.8,1778.4 525.0,1778.2 529.3,1778.0 533.5,1777.7 537.8,1777.5 542.0,1777.3 546.3,1777.1 550.5,1776.9 554.8,1776.7 559.0,1776.4 563.3,1776.2 567.5,1776.0" fill="none" stroke="#e36a70" stroke-width="17" stroke-linejoin="round"/>
<polyline points="572.9,1765.5 581.4,1765.5 589.9,1765.5 598.4,1765.5 606.9,1765.5 615.4,1765.5 623.9,1765.5 632.4,1765.5 640.9,1765.5 649.4,1765.5 657.9,1765.5 666.4,1765.5 674.9,1765.5 683.4,1765.5 691.9,1765.5 700.4,1765.5 708.9,1765.5 717.4,1765.5 725.9,1765.5 734.4,1765.5 742.9,1765.5 751.4,1765.5 759.9,1765.5 768.4,1765.5 776.9,1765.5 785.4,1765.5 793.9,1765.5 802.4,1765.5 810.9,1765.5 819.4,1765.5" fill="none" stroke="#c02a48" stroke-width="23" stroke-linejoin="round"/>
<polyline points="572.9,1765.5 581.4,1765.5 589.9,1765.5 598.4,1765.5 606.9,1765.5 615.4,1765.5 623.9,1765.5 632.4,1765.5 640.9,1765.5 649.4,1765.5 657.9,1765.5 666.4,1765.5 674.9,1765.5 683.4,1765.5 691.9,1765.5 700.4,1765.5 708.9,1765.5 717.4,1765.5 725.9,1765.5 734.4,1765.5 742.9,1765.5 751.4,1765.5 759.9,1765.5 768.4,1765.5 776.9,1765.5 785.4,1765.5 793.9,1765.5 802.4,1765.5 810.9,1765.5 819.4,1765.5" fill="none" stroke="#e36a70" stroke-width="15" stroke-linejoin="round"/>
<polyline points="832.2,2193.7 834.3,2194.9 836.4,2196.1 838.5,2197.2 840.7,2198.3 842.8,2199.3 844.9,2200.4 847.0,2201.4 849.2,2202.3 851.3,2203.3 853.4,2204.2 855.5,2205.0 857.7,2205.9 859.8,2206.7 861.9,2207.5 864.0,2208.3 866.2,2209.0 868.3,2209.8 870.4,2210.5 872.5,2211.2 874.7,2211.8 876.8,2212.5 878.9,2213.1 881.0,2213.7 883.2,2214.3 885.3,2214.8 887.4,2215.4 889.5,2215.9 891.7,2216.4 893.8,2216.9 895.9,2217.4 898.0,2217.9 900.2,2218.4 902.3,2218.8 904.4,2219.2 906.5,2219.6 908.7,2220.0 910.8,2220.4 912.9,2220.8 915.0,2221.2 917.2,2221.5 919.3,2221.9 921.4,2222.2 923.5,2222.5 925.7,2222.8 927.8,2223.1 929.9,2223.4 932.0,2223.7 934.2,2224.0 936.3,2224.3 938.4,2224.5 940.5,2224.8 942.7,2225.0 944.8,2225.3 946.9,2225.5 949.0,2225.7 951.2,2225.9 953.3,2226.1 955.4,2226.3 957.5,2226.5 959.7,2226.7 961.8,2226.9 963.9,2227.1 966.0,2227.3 968.2,2227.4 970.3,2227.6 972.4,2227.7 974.5,2227.9 976.7,2228.0 978.8,2228.2 980.9,2228.3 983.0,2228.5 985.2,2228.6 987.3,2228.7 989.4,2228.8 991.5,2229.0 993.7,2229.1 995.8,2229.2 997.9,2229.3 1000.0,2229.4 1002.2,2229.5 1004.3,2229.6" fill="none" stroke="#c02a48" stroke-width="23" stroke-linejoin="round"/>
<polyline points="832.2,2193.7 834.3,2194.9 836.4,2196.1 838.5,2197.2 840.7,2198.3 842.8,2199.3 844.9,2200.4 847.0,2201.4 849.2,2202.3 851.3,2203.3 853.4,2204.2 855.5,2205.0 857.7,2205.9 859.8,2206.7 861.9,2207.5 864.0,2208.3 866.2,2209.0 868.3,2209.8 870.4,2210.5 872.5,2211.2 874.7,2211.8 876.8,2212.5 878.9,2213.1 881.0,2213.7 883.2,2214.3 885.3,2214.8 887.4,2215.4 889.5,2215.9 891.7,2216.4 893.8,2216.9 895.9,2217.4 898.0,2217.9 900.2,2218.4 902.3,2218.8 904.4,2219.2 906.5,2219.6 908.7,2220.0 910.8,2220.4 912.9,2220.8 915.0,2221.2 917.2,2221.5 919.3,2221.9 921.4,2222.2 923.5,2222.5 925.7,2222.8 927.8,2223.1 929.9,2223.4 932.0,2223.7 934.2,2224.0 936.3,2224.3 938.4,2224.5 940.5,2224.8 942.7,2225.0 944.8,2225.3 946.9,2225.5 949.0,2225.7 951.2,2225.9 953.3,2226.1 955.4,2226.3 957.5,2226.5 959.7,2226.7 961.8,2226.9 963.9,2227.1 966.0,2227.3 968.2,2227.4 970.3,2227.6 972.4,2227.7 974.5,2227.9 976.7,2228.0 978.8,2228.2 980.9,2228.3 983.0,2228.5 985.2,2228.6 987.3,2228.7 989.4,2228.8 991.5,2229.0 993.7,2229.1 995.8,2229.2 997.9,2229.3 1000.0,2229.4 1002.2,2229.5 1004.3,2229.6" fill="none" stroke="#e36a70" stroke-width="15" stroke-linejoin="round"/>
<circle cx="395.4" cy="1822.0" r="10.0" fill="#fbe8ee" stroke="#b03050" stroke-width="2.5"/>
<circle cx="403.9" cy="1785.0" r="10.0" fill="#fbe8ee" stroke="#c05050" stroke-width="2.5"/>
<circle cx="412.4" cy="1776.0" r="9.0" fill="#fbe8ee" stroke="#b03050" stroke-width="2.5"/>
<circle cx="827.0" cy="1766.0" r="10.0" fill="#fbe8ee" stroke="#b03050" stroke-width="2.5"/>
<line x1="361.0" y1="2245.0" x2="361.0" y2="1830.0" stroke="#b02040" stroke-width="4"/>
<line x1="357.0" y1="1833.0" x2="357.0" y2="2287.0" stroke="#3a3a9a" stroke-width="3" stroke-dasharray="5,4"/>
<line x1="366.0" y1="1840.0" x2="366.0" y2="2287.0" stroke="#2a4a4a" stroke-width="3" stroke-dasharray="5,4"/>
<line x1="827.0" y1="1776.0" x2="827.0" y2="2190.0" stroke="#b02040" stroke-width="4"/>
<line x1="848.4" y1="1804.0" x2="848.4" y2="2258.0" stroke="#333" stroke-width="3" stroke-dasharray="6,6"/>
<line x1="827.0" y1="2200.0" x2="827.0" y2="2261.0" stroke="#2a2a8a" stroke-width="3" stroke-dasharray="5,4"/>
<line x1="329.0" y1="1833.5" x2="519.0" y2="1833.5" stroke="#333" stroke-width="3.5" stroke-dasharray="7,7"/>
<line x1="743.0" y1="2207.7" x2="829.0" y2="2207.7" stroke="#333" stroke-width="3.5" stroke-dasharray="7,7"/>
<rect x="139.0" y="1674.0" width="865.0" height="698.0" fill="none" stroke="#262626" stroke-width="5"/>
<line x1="180.8" y1="2372.0" x2="180.8" y2="2386.0" stroke="#222" stroke-width="3"/>
<line x1="265.8" y1="2372.0" x2="265.8" y2="2386.0" stroke="#222" stroke-width="3"/>
<line x1="350.8" y1="2372.0" x2="350.8" y2="2386.0" stroke="#222" stroke-width="3"/>
<line x1="435.8" y1="2372.0" x2="435.8" y2="2386.0" stroke="#222" stroke-width="3"/>
<line x1="520.8" y1="2372.0" x2="520.8" y2="2386.0" stroke="#222" stroke-width="3"/>
<line x1="621.8" y1="2372.0" x2="621.8" y2="2386.0" stroke="#222" stroke-width="3"/>
<line x1="706.8" y1="2372.0" x2="706.8" y2="2386.0" stroke="#222" stroke-width="3"/>
<line x1="791.8" y1="2372.0" x2="791.8" y2="2386.0" stroke="#222" stroke-width="3"/>
<line x1="876.8" y1="2372.0" x2="876.8" y2="2386.0" stroke="#222" stroke-width="3"/>
<line x1="961.8" y1="2372.0" x2="961.8" y2="2386.0" stroke="#222" stroke-width="3"/>
<line x1="223.3" y1="2372.0" x2="223.3" y2="2380.0" stroke="#222" stroke-width="3"/>
<line x1="308.3" y1="2372.0" x2="308.3" y2="2380.0" stroke="#222" stroke-width="3"/>
<line x1="393.3" y1="2372.0" x2="393.3" y2="2380.0" stroke="#222" stroke-width="3"/>
<line x1="478.3" y1="2372.0" x2="478.3" y2="2380.0" stroke="#222" stroke-width="3"/>
<line x1="563.3" y1="2372.0" x2="563.3" y2="2380.0" stroke="#222" stroke-width="3"/>
<line x1="579.3" y1="2372.0" x2="579.3" y2="2380.0" stroke="#222" stroke-width="3"/>
<line x1="664.3" y1="2372.0" x2="664.3" y2="2380.0" stroke="#222" stroke-width="3"/>
<line x1="749.3" y1="2372.0" x2="749.3" y2="2380.0" stroke="#222" stroke-width="3"/>
<line x1="834.3" y1="2372.0" x2="834.3" y2="2380.0" stroke="#222" stroke-width="3"/>
<line x1="919.3" y1="2372.0" x2="919.3" y2="2380.0" stroke="#222" stroke-width="3"/>
<polygon points="556.5,1689.0 566.5,1689.0 587.5,1659.0 577.5,1659.0" fill="#f8f8f8"/>
<line x1="556.5" y1="1689.0" x2="577.5" y2="1659.0" stroke="#222" stroke-width="3"/>
<line x1="566.5" y1="1689.0" x2="587.5" y2="1659.0" stroke="#222" stroke-width="3"/>
<polygon points="556.5,2387.0 566.5,2387.0 587.5,2357.0 577.5,2357.0" fill="#f8f8f8"/>
<line x1="556.5" y1="2387.0" x2="577.5" y2="2357.0" stroke="#222" stroke-width="3"/>
<line x1="566.5" y1="2387.0" x2="587.5" y2="2357.0" stroke="#222" stroke-width="3"/>
<text x="180.8" y="2428.0" font-size="41" text-anchor="middle" fill="#111">86</text>
<text x="265.8" y="2428.0" font-size="41" text-anchor="middle" fill="#111">88</text>
<text x="350.8" y="2428.0" font-size="41" text-anchor="middle" fill="#111">90</text>
<text x="435.8" y="2428.0" font-size="41" text-anchor="middle" fill="#111">92</text>
<text x="520.8" y="2428.0" font-size="41" text-anchor="middle" fill="#111">94</text>
<text x="621.8" y="2428.0" font-size="41" text-anchor="middle" fill="#111">116</text>
<text x="706.8" y="2428.0" font-size="41" text-anchor="middle" fill="#111">118</text>
<text x="791.8" y="2428.0" font-size="41" text-anchor="middle" fill="#111">120</text>
<text x="876.8" y="2428.0" font-size="41" text-anchor="middle" fill="#111">122</text>
<text x="961.8" y="2428.0" font-size="41" text-anchor="middle" fill="#111">124</text>
<text x="572.0" y="2514.0" font-size="58.5" text-anchor="middle" fill="#111">Time (s)</text>
<text x="101.0" y="2022.0" font-size="58.5" text-anchor="middle" fill="#111" transform="rotate(-90 101.0 2022.0)">Current (a.u.)</text>
<text x="374.0" y="2042.0" font-size="34.5" text-anchor="start" fill="#111">0.21 s</text>
<text x="873.0" y="2038.0" font-size="34.5" text-anchor="start" fill="#111">0.48 s</text>
<line x1="144.0" y1="1708.0" x2="250.0" y2="1708.0" stroke="#c02a48" stroke-width="5"/>
<circle cx="196.0" cy="1708.0" r="10.5" fill="#f8f8f8" stroke="#b05070" stroke-width="2.5"/>
<text x="259.0" y="1724.0" font-size="40" text-anchor="start" fill="#111">480 nm</text>
<polyline points="1181.0,2313.0 1377.5,2313.0" fill="none" stroke="#4f86b8" stroke-width="22" stroke-linejoin="round"/>
<polyline points="1181.0,2313.0 1377.5,2313.0" fill="none" stroke="#9cc8ea" stroke-width="14" stroke-linejoin="round"/>
<line x1="1181.0" y1="2323.0" x2="1377.5" y2="2323.0" stroke="#6a4ad8" stroke-width="3"/>
<polyline points="1387.6,1818.0 1390.9,1816.8 1394.3,1815.6 1397.7,1814.5 1401.0,1813.4 1404.4,1812.3 1407.8,1811.2 1411.2,1810.1 1414.5,1809.1 1417.9,1808.0 1421.3,1807.0 1424.6,1806.0 1428.0,1805.1 1431.4,1804.1 1434.7,1803.2 1438.1,1802.2 1441.5,1801.3 1444.9,1800.5 1448.2,1799.6 1451.6,1798.7 1455.0,1797.9 1458.3,1797.1 1461.7,1796.2 1465.1,1795.4 1468.4,1794.7 1471.8,1793.9 1475.2,1793.1 1478.6,1792.4 1481.9,1791.7 1485.3,1791.0 1488.7,1790.3 1492.0,1789.6 1495.4,1788.9 1498.8,1788.2 1502.1,1787.6 1505.5,1786.9 1508.9,1786.3 1512.3,1785.7 1515.6,1785.1 1519.0,1784.5 1522.4,1783.9 1525.7,1783.3 1529.1,1782.8 1532.5,1782.2 1535.8,1781.7 1539.2,1781.1 1542.6,1780.6 1546.0,1780.1 1549.3,1779.6 1552.7,1779.1 1556.1,1778.6 1559.4,1778.1 1562.8,1777.6 1566.2,1777.2 1569.5,1776.7 1572.9,1776.3 1576.3,1775.8 1579.7,1775.4 1583.0,1775.0 1586.4,1774.6 1589.8,1774.2 1593.1,1773.8 1596.5,1773.4 1599.9,1773.0 1603.2,1772.6 1606.6,1772.2 1610.0,1771.9 1613.4,1771.5 1616.7,1771.2 1620.1,1770.8 1623.5,1770.5 1626.8,1770.2 1630.2,1769.8 1633.6,1769.5 1636.9,1769.2 1640.3,1768.9 1643.7,1768.6 1647.1,1768.3 1650.4,1768.0 1653.8,1767.7 1657.2,1767.4 1660.5,1767.1 1663.9,1766.9 1667.3,1766.6 1670.6,1766.3 1674.0,1766.1 1677.4,1765.8 1680.8,1765.6 1684.1,1765.3 1687.5,1765.1 1690.9,1764.8 1694.2,1764.6 1697.6,1764.4" fill="none" stroke="#4f86b8" stroke-width="23" stroke-linejoin="round"/>
<polyline points="1387.6,1818.0 1390.9,1816.8 1394.3,1815.6 1397.7,1814.5 1401.0,1813.4 1404.4,1812.3 1407.8,1811.2 1411.2,1810.1 1414.5,1809.1 1417.9,1808.0 1421.3,1807.0 1424.6,1806.0 1428.0,1805.1 1431.4,1804.1 1434.7,1803.2 1438.1,1802.2 1441.5,1801.3 1444.9,1800.5 1448.2,1799.6 1451.6,1798.7 1455.0,1797.9 1458.3,1797.1 1461.7,1796.2 1465.1,1795.4 1468.4,1794.7 1471.8,1793.9 1475.2,1793.1 1478.6,1792.4 1481.9,1791.7 1485.3,1791.0 1488.7,1790.3 1492.0,1789.6 1495.4,1788.9 1498.8,1788.2 1502.1,1787.6 1505.5,1786.9 1508.9,1786.3 1512.3,1785.7 1515.6,1785.1 1519.0,1784.5 1522.4,1783.9 1525.7,1783.3 1529.1,1782.8 1532.5,1782.2 1535.8,1781.7 1539.2,1781.1 1542.6,1780.6 1546.0,1780.1 1549.3,1779.6 1552.7,1779.1 1556.1,1778.6 1559.4,1778.1 1562.8,1777.6 1566.2,1777.2 1569.5,1776.7 1572.9,1776.3 1576.3,1775.8 1579.7,1775.4 1583.0,1775.0 1586.4,1774.6 1589.8,1774.2 1593.1,1773.8 1596.5,1773.4 1599.9,1773.0 1603.2,1772.6 1606.6,1772.2 1610.0,1771.9 1613.4,1771.5 1616.7,1771.2 1620.1,1770.8 1623.5,1770.5 1626.8,1770.2 1630.2,1769.8 1633.6,1769.5 1636.9,1769.2 1640.3,1768.9 1643.7,1768.6 1647.1,1768.3 1650.4,1768.0 1653.8,1767.7 1657.2,1767.4 1660.5,1767.1 1663.9,1766.9 1667.3,1766.6 1670.6,1766.3 1674.0,1766.1 1677.4,1765.8 1680.8,1765.6 1684.1,1765.3 1687.5,1765.1 1690.9,1764.8 1694.2,1764.6 1697.6,1764.4" fill="none" stroke="#9cc8ea" stroke-width="15" stroke-linejoin="round"/>
<polyline points="1701.0,1744.0 1707.9,1744.0 1714.8,1744.0 1721.7,1744.0 1728.6,1744.0 1735.4,1744.0 1742.3,1744.0 1749.2,1744.0 1756.1,1744.0 1763.0,1744.0 1769.8,1744.0 1776.7,1744.0 1783.6,1744.0 1790.5,1744.0 1797.4,1744.0 1804.2,1744.0 1811.1,1744.0 1818.0,1744.0 1824.9,1744.0 1831.8,1744.0 1838.6,1744.0 1845.5,1744.0 1852.4,1744.0 1859.3,1744.0 1866.2,1744.0 1873.0,1744.0 1879.9,1744.0 1886.8,1744.0 1893.7,1744.0 1900.6,1744.0" fill="none" stroke="#4f86b8" stroke-width="24" stroke-linejoin="round"/>
<polyline points="1701.0,1744.0 1707.9,1744.0 1714.8,1744.0 1721.7,1744.0 1728.6,1744.0 1735.4,1744.0 1742.3,1744.0 1749.2,1744.0 1756.1,1744.0 1763.0,1744.0 1769.8,1744.0 1776.7,1744.0 1783.6,1744.0 1790.5,1744.0 1797.4,1744.0 1804.2,1744.0 1811.1,1744.0 1818.0,1744.0 1824.9,1744.0 1831.8,1744.0 1838.6,1744.0 1845.5,1744.0 1852.4,1744.0 1859.3,1744.0 1866.2,1744.0 1873.0,1744.0 1879.9,1744.0 1886.8,1744.0 1893.7,1744.0 1900.6,1744.0" fill="none" stroke="#9cc8ea" stroke-width="16" stroke-linejoin="round"/>
<polyline points="1905.7,2256.7 1907.4,2259.3 1909.2,2261.7 1910.9,2264.0 1912.6,2266.1 1914.3,2268.2 1916.0,2270.1 1917.8,2271.9 1919.5,2273.7 1921.2,2275.3 1922.9,2276.9 1924.6,2278.3 1926.4,2279.7 1928.1,2281.0 1929.8,2282.3 1931.5,2283.4 1933.2,2284.6 1935.0,2285.6 1936.7,2286.6 1938.4,2287.5 1940.1,2288.4 1941.8,2289.3 1943.6,2290.1 1945.3,2290.8 1947.0,2291.5 1948.7,2292.2 1950.4,2292.8 1952.2,2293.4 1953.9,2294.0 1955.6,2294.6 1957.3,2295.1 1959.0,2295.5 1960.8,2296.0 1962.5,2296.4 1964.2,2296.8 1965.9,2297.2 1967.6,2297.6 1969.4,2297.9 1971.1,2298.3 1972.8,2298.6 1974.5,2298.9 1976.2,2299.2 1978.0,2299.4 1979.7,2299.7 1981.4,2299.9 1983.1,2300.1 1984.8,2300.3 1986.6,2300.5 1988.3,2300.7 1990.0,2300.9 1991.7,2301.1 1993.4,2301.2 1995.2,2301.4 1996.9,2301.5 1998.6,2301.6 2000.3,2301.8 2002.0,2301.9 2003.8,2302.0 2005.5,2302.1 2007.2,2302.2 2008.9,2302.3 2010.6,2302.4 2012.4,2302.5 2014.1,2302.6 2015.8,2302.6 2017.5,2302.7 2019.2,2302.8 2021.0,2302.9 2022.7,2302.9 2024.4,2303.0 2026.1,2303.0 2027.8,2303.1 2029.6,2303.1 2031.3,2303.2 2033.0,2303.2 2034.7,2303.3 2036.4,2303.3 2038.2,2303.3 2039.9,2303.4 2041.6,2303.4 2043.3,2303.4 2045.0,2303.5 2046.8,2303.5 2048.5,2303.5 2050.2,2303.6" fill="none" stroke="#4f86b8" stroke-width="22" stroke-linejoin="round"/>
<polyline points="1905.7,2256.7 1907.4,2259.3 1909.2,2261.7 1910.9,2264.0 1912.6,2266.1 1914.3,2268.2 1916.0,2270.1 1917.8,2271.9 1919.5,2273.7 1921.2,2275.3 1922.9,2276.9 1924.6,2278.3 1926.4,2279.7 1928.1,2281.0 1929.8,2282.3 1931.5,2283.4 1933.2,2284.6 1935.0,2285.6 1936.7,2286.6 1938.4,2287.5 1940.1,2288.4 1941.8,2289.3 1943.6,2290.1 1945.3,2290.8 1947.0,2291.5 1948.7,2292.2 1950.4,2292.8 1952.2,2293.4 1953.9,2294.0 1955.6,2294.6 1957.3,2295.1 1959.0,2295.5 1960.8,2296.0 1962.5,2296.4 1964.2,2296.8 1965.9,2297.2 1967.6,2297.6 1969.4,2297.9 1971.1,2298.3 1972.8,2298.6 1974.5,2298.9 1976.2,2299.2 1978.0,2299.4 1979.7,2299.7 1981.4,2299.9 1983.1,2300.1 1984.8,2300.3 1986.6,2300.5 1988.3,2300.7 1990.0,2300.9 1991.7,2301.1 1993.4,2301.2 1995.2,2301.4 1996.9,2301.5 1998.6,2301.6 2000.3,2301.8 2002.0,2301.9 2003.8,2302.0 2005.5,2302.1 2007.2,2302.2 2008.9,2302.3 2010.6,2302.4 2012.4,2302.5 2014.1,2302.6 2015.8,2302.6 2017.5,2302.7 2019.2,2302.8 2021.0,2302.9 2022.7,2302.9 2024.4,2303.0 2026.1,2303.0 2027.8,2303.1 2029.6,2303.1 2031.3,2303.2 2033.0,2303.2 2034.7,2303.3 2036.4,2303.3 2038.2,2303.3 2039.9,2303.4 2041.6,2303.4 2043.3,2303.4 2045.0,2303.5 2046.8,2303.5 2048.5,2303.5 2050.2,2303.6" fill="none" stroke="#9cc8ea" stroke-width="14" stroke-linejoin="round"/>
<line x1="1385.6" y1="2313.0" x2="1385.6" y2="1820.0" stroke="#2a5ad0" stroke-width="4"/>
<line x1="1380.0" y1="2000.0" x2="1380.0" y2="2320.0" stroke="#444" stroke-width="2"/>
<polygon points="1386.0,1807.0 1397.0,1826.0 1375.0,1826.0" fill="#b8daf4" stroke="#5070b0" stroke-width="2.5"/>
<line x1="1402.0" y1="1789.0" x2="1402.0" y2="2335.0" stroke="#d03050" stroke-width="3.5" stroke-dasharray="6,6"/>
<line x1="1294.0" y1="1803.0" x2="1548.0" y2="1803.0" stroke="#d03050" stroke-width="3.5" stroke-dasharray="8,8"/>
<line x1="1901.0" y1="1757.0" x2="1901.0" y2="2245.0" stroke="#6a6a6a" stroke-width="4"/>
<line x1="1906.4" y1="2032.0" x2="1906.4" y2="2242.0" stroke="#3a70d8" stroke-width="3"/>
<line x1="1919.0" y1="2034.0" x2="1919.0" y2="2242.0" stroke="#e0944a" stroke-width="3" stroke-dasharray="6,5"/>
<line x1="1920.0" y1="2270.0" x2="1920.0" y2="2340.0" stroke="#333" stroke-width="3" stroke-dasharray="6,6"/>
<line x1="1900.0" y1="2266.0" x2="1900.0" y2="2333.0" stroke="#d03050" stroke-width="3.5" stroke-dasharray="6,6"/>
<line x1="1800.0" y1="2263.4" x2="2018.0" y2="2263.4" stroke="#d03050" stroke-width="3.5" stroke-dasharray="8,8"/>
<polygon points="1909.0,1737.0 1920.0,1756.0 1898.0,1756.0" fill="#f0f0f0" stroke="#707070" stroke-width="2.5"/>
<polygon points="1912.0,2237.1 1921.9,2254.2 1902.1,2254.2" fill="#d8d0f4" stroke="#7070c0" stroke-width="2.5"/>
<rect x="1181.0" y="1668.0" width="867.5" height="697.0" fill="none" stroke="#262626" stroke-width="5"/>
<line x1="1215.7" y1="2365.0" x2="1215.7" y2="2352.0" stroke="#222" stroke-width="3"/>
<line x1="1283.1" y1="2365.0" x2="1283.1" y2="2352.0" stroke="#222" stroke-width="3"/>
<line x1="1350.5" y1="2365.0" x2="1350.5" y2="2352.0" stroke="#222" stroke-width="3"/>
<line x1="1417.9" y1="2365.0" x2="1417.9" y2="2352.0" stroke="#222" stroke-width="3"/>
<line x1="1485.3" y1="2365.0" x2="1485.3" y2="2352.0" stroke="#222" stroke-width="3"/>
<line x1="1552.7" y1="2365.0" x2="1552.7" y2="2352.0" stroke="#222" stroke-width="3"/>
<line x1="1620.1" y1="2365.0" x2="1620.1" y2="2352.0" stroke="#222" stroke-width="3"/>
<line x1="1740.6" y1="2365.0" x2="1740.6" y2="2352.0" stroke="#222" stroke-width="3"/>
<line x1="1809.4" y1="2365.0" x2="1809.4" y2="2352.0" stroke="#222" stroke-width="3"/>
<line x1="1878.2" y1="2365.0" x2="1878.2" y2="2352.0" stroke="#222" stroke-width="3"/>
<line x1="1947.0" y1="2365.0" x2="1947.0" y2="2352.0" stroke="#222" stroke-width="3"/>
<line x1="2015.8" y1="2365.0" x2="2015.8" y2="2352.0" stroke="#222" stroke-width="3"/>
<line x1="1249.4" y1="2365.0" x2="1249.4" y2="2358.0" stroke="#222" stroke-width="3"/>
<line x1="1316.8" y1="2365.0" x2="1316.8" y2="2358.0" stroke="#222" stroke-width="3"/>
<line x1="1384.2" y1="2365.0" x2="1384.2" y2="2358.0" stroke="#222" stroke-width="3"/>
<line x1="1451.6" y1="2365.0" x2="1451.6" y2="2358.0" stroke="#222" stroke-width="3"/>
<line x1="1519.0" y1="2365.0" x2="1519.0" y2="2358.0" stroke="#222" stroke-width="3"/>
<line x1="1586.4" y1="2365.0" x2="1586.4" y2="2358.0" stroke="#222" stroke-width="3"/>
<line x1="1653.8" y1="2365.0" x2="1653.8" y2="2358.0" stroke="#222" stroke-width="3"/>
<line x1="1706.2" y1="2365.0" x2="1706.2" y2="2358.0" stroke="#222" stroke-width="3"/>
<line x1="1775.0" y1="2365.0" x2="1775.0" y2="2358.0" stroke="#222" stroke-width="3"/>
<line x1="1843.8" y1="2365.0" x2="1843.8" y2="2358.0" stroke="#222" stroke-width="3"/>
<line x1="1912.6" y1="2365.0" x2="1912.6" y2="2358.0" stroke="#222" stroke-width="3"/>
<line x1="1981.4" y1="2365.0" x2="1981.4" y2="2358.0" stroke="#222" stroke-width="3"/>
<polygon points="1685.5,1683.0 1695.5,1683.0 1716.5,1653.0 1706.5,1653.0" fill="#f8f8f8"/>
<line x1="1685.5" y1="1683.0" x2="1706.5" y2="1653.0" stroke="#222" stroke-width="3"/>
<line x1="1695.5" y1="1683.0" x2="1716.5" y2="1653.0" stroke="#222" stroke-width="3"/>
<polygon points="1685.5,2380.0 1695.5,2380.0 1716.5,2350.0 1706.5,2350.0" fill="#f8f8f8"/>
<line x1="1685.5" y1="2380.0" x2="1706.5" y2="2350.0" stroke="#222" stroke-width="3"/>
<line x1="1695.5" y1="2380.0" x2="1716.5" y2="2350.0" stroke="#222" stroke-width="3"/>
<text x="1209.7" y="2421.0" font-size="41" text-anchor="middle" fill="#111">86</text>
<text x="1344.5" y="2421.0" font-size="41" text-anchor="middle" fill="#111">90</text>
<text x="1479.3" y="2421.0" font-size="41" text-anchor="middle" fill="#111">94</text>
<text x="1614.1" y="2421.0" font-size="41" text-anchor="middle" fill="#111">98</text>
<text x="1734.6" y="2421.0" font-size="41" text-anchor="middle" fill="#111">116</text>
<text x="1872.2" y="2421.0" font-size="41" text-anchor="middle" fill="#111">120</text>
<text x="2009.8" y="2421.0" font-size="41" text-anchor="middle" fill="#111">124</text>
<text x="1614.0" y="2501.0" font-size="58.5" text-anchor="middle" fill="#111">Time (s)</text>
<text x="1145.0" y="2017.0" font-size="58.5" text-anchor="middle" fill="#111" transform="rotate(-90 1145.0 2017.0)">Current (a.u.)</text>
<text x="1404.0" y="2039.0" font-size="34.5" text-anchor="start" fill="#111">0.50 s</text>
<text x="1928.0" y="2031.0" font-size="34.5" text-anchor="start" fill="#111">0.57 s</text>
<line x1="1190.0" y1="1702.0" x2="1292.0" y2="1702.0" stroke="#4a60b0" stroke-width="5"/>
<polygon points="1240.0,1689.0 1251.0,1708.0 1229.0,1708.0" fill="#c8e4f8" stroke="#5a80c0" stroke-width="2.5"/>
<text x="1303.0" y="1717.5" font-size="40" text-anchor="start" fill="#111">580 nm</text>
<polyline points="2461.1,2137.6 2462.2,2136.6 2463.5,2135.6 2464.8,2134.5 2466.1,2133.5 2467.6,2132.4 2469.1,2131.3 2470.6,2130.1 2472.3,2129.0 2474.0,2127.8 2475.7,2126.6 2477.5,2125.3 2479.4,2124.1 2481.3,2122.8 2483.2,2121.5 2485.2,2120.1 2487.3,2118.7 2489.4,2117.3 2491.5,2115.9 2493.7,2114.4 2495.9,2112.9 2498.2,2111.3 2500.5,2109.8 2502.8,2108.1 2505.2,2106.5 2507.5,2104.8 2510.0,2103.1 2512.4,2101.4 2514.9,2099.6 2517.4,2097.8 2519.9,2095.9 2522.4,2094.0 2525.0,2092.1 2527.5,2090.1 2530.1,2088.1 2532.7,2086.0 2535.3,2083.9 2537.9,2081.8 2540.5,2079.6 2543.1,2077.4 2545.8,2075.1 2548.4,2072.8 2551.0,2070.5 2553.6,2068.1 2556.2,2065.6 2558.8,2063.1 2561.4,2060.6 2564.0,2058.0 2566.6,2055.4 2569.2,2052.7 2571.7,2050.0 2574.2,2047.3 2576.7,2044.4 2579.2,2041.6 2581.7,2038.6 2584.1,2035.7 2586.6,2032.7 2588.9,2029.6 2591.3,2026.5 2593.6,2023.3 2595.9,2020.0 2598.2,2016.7 2600.5,2013.2 2602.9,2009.6 2605.3,2005.8 2607.7,2001.8 2610.2,1997.8 2612.6,1993.6 2615.2,1989.3 2617.7,1984.9 2620.3,1980.3 2622.8,1975.7 2625.4,1971.0 2628.1,1966.1 2630.7,1961.2 2633.3,1956.2 2636.0,1951.2 2638.6,1946.0 2641.3,1940.8 2644.0,1935.6 2646.6,1930.3 2649.3,1925.0 2652.0,1919.6 2654.7,1914.2 2657.3,1908.7 2660.0,1903.3 2662.6,1897.8 2665.3,1892.4 2667.9,1886.9 2670.5,1881.4 2673.1,1875.9 2675.7,1870.5 2678.2,1865.1 2680.8,1859.7 2683.3,1854.3 2685.8,1849.0 2688.2,1843.7 2690.6,1838.5 2693.0,1833.4 2695.4,1828.3 2697.7,1823.2 2700.0,1818.3 2702.2,1813.4 2704.4,1808.6 2706.6,1803.9 2708.7,1799.3 2710.7,1794.9 2712.7,1790.5 2714.7,1786.2 2716.6,1782.1 2718.5,1778.1 2720.3,1774.2 2722.0,1770.5 2723.7,1766.9 2725.3,1763.5 2726.8,1760.3 2728.3,1757.2 2729.7,1754.2 2731.0,1751.5 2732.3,1748.9 2733.5,1746.5" fill="none" stroke="#e05070" stroke-width="3.5" stroke-dasharray="12,10" stroke-linejoin="round"/>
<line x1="2343.0" y1="1803.5" x2="2548.0" y2="1803.5" stroke="#6cbcc8" stroke-width="4.5"/>
<line x1="2548.0" y1="1804.0" x2="2441.0" y2="2038.0" stroke="#2ec0b0" stroke-width="3"/>
<text x="2297.0" y="1786.0" font-size="28" text-anchor="start" fill="#3aa6d6">Ag/Ag NPs/TiO<tspan font-size="18.2" dy="7.0">2</tspan><tspan dy="-7.0"> NTs/Ti</tspan><tspan font-size="18.2" dy="-11.8">[46]</tspan></text>
<line x1="2301.0" y1="1881.0" x2="2482.0" y2="1881.0" stroke="#555" stroke-width="4.5"/>
<line x1="2482.0" y1="1882.0" x2="2411.0" y2="2066.0" stroke="#333" stroke-width="3"/>
<text x="2309.0" y="1864.0" font-size="28" text-anchor="start" fill="#5a2838">BiOCl-TiO<tspan font-size="18.2" dy="7.0">2</tspan><tspan font-size="18.2" dy="-18.8">[40]</tspan></text>
<line x1="2530.0" y1="1881.0" x2="2629.0" y2="1881.0" stroke="#f6c48a" stroke-width="4.5"/>
<line x1="2629.0" y1="1882.0" x2="2522.0" y2="2007.0" stroke="#f09a58" stroke-width="3"/>
<text x="2537.0" y="1865.0" font-size="28" text-anchor="start" fill="#f0a050">Ga<tspan font-size="18.2" dy="7.0">2</tspan><tspan dy="-7.0">O</tspan><tspan font-size="18.2" dy="7.0">3</tspan><tspan font-size="18.2" dy="-18.8">[42]</tspan></text>
<line x1="2769.0" y1="2137.5" x2="2907.0" y2="2137.5" stroke="#5ab8a8" stroke-width="4.5"/>
<line x1="2769.0" y1="2138.0" x2="2452.0" y2="2282.0" stroke="#5a8a88" stroke-width="3"/>
<text x="2768.0" y="2112.0" font-size="28" text-anchor="start" fill="#2a9a88">ZnO/TiO<tspan font-size="18.2" dy="7.0">2</tspan><tspan font-size="18.2" dy="-18.8">[43]</tspan></text>
<line x1="2297.0" y1="2197.6" x2="2421.0" y2="2197.6" stroke="#50c8b8" stroke-width="4.5"/>
<line x1="2421.0" y1="2197.6" x2="2372.0" y2="2338.0" stroke="#38c0c0" stroke-width="3"/>
<text x="2291.0" y="2181.0" font-size="28" text-anchor="start" fill="#222">TiO<tspan font-size="18.2" dy="7.0">2</tspan><tspan dy="-7.0">/CuZnS</tspan><tspan font-size="18.2" dy="-11.8">[41]</tspan></text>
<line x1="2432.0" y1="2222.6" x2="2556.0" y2="2222.6" stroke="#505060" stroke-width="4.5"/>
<line x1="2432.0" y1="2223.0" x2="2415.0" y2="2279.0" stroke="#505060" stroke-width="3"/>
<text x="2445.0" y="2211.0" font-size="28" text-anchor="start" fill="#5a5ab8">Te/TiO<tspan font-size="18.2" dy="7.0">2</tspan><tspan font-size="18.2" dy="-18.8">[45]</tspan></text>
<line x1="2660.0" y1="2231.0" x2="2832.0" y2="2231.0" stroke="#b4b848" stroke-width="4.5"/>
<line x1="2660.0" y1="2232.0" x2="2456.0" y2="2313.0" stroke="#8a9a40" stroke-width="3"/>
<text x="2677.0" y="2214.0" font-size="28" text-anchor="start" fill="#9aa030">Ga<tspan font-size="18.2" dy="7.0">2</tspan><tspan dy="-7.0">O</tspan><tspan font-size="18.2" dy="7.0">3</tspan><tspan dy="-7.0">/CuI</tspan><tspan font-size="18.2" dy="-11.8">[49]</tspan></text>
<line x1="2671.0" y1="2277.3" x2="2832.0" y2="2277.3" stroke="#d8e078" stroke-width="4.5"/>
<line x1="2671.0" y1="2278.0" x2="2499.0" y2="2325.0" stroke="#c0c850" stroke-width="3"/>
<text x="2673.0" y="2264.0" font-size="28" text-anchor="start" fill="#f0b040">TiO<tspan font-size="18.2" dy="7.0">2</tspan><tspan dy="-7.0">/P</tspan><tspan font-size="18.2" dy="7.0">3</tspan><tspan dy="-7.0">HT</tspan><tspan font-size="18.2" dy="-11.8">[47]</tspan></text>
<line x1="2608.0" y1="2330.5" x2="2844.0" y2="2330.5" stroke="#484880" stroke-width="4.5"/>
<path d="M2608,2333 C2560,2340 2500,2352 2467,2359 C2440,2360 2420,2348 2407,2339" fill="none" stroke="#4040a8" stroke-width="3.5"/>
<text x="2665.0" y="2316.0" font-size="28" text-anchor="start" fill="#3838a8">Ga<tspan font-size="18.2" dy="7.0">2</tspan><tspan dy="-7.0">O</tspan><tspan font-size="18.2" dy="7.0">3</tspan><tspan dy="-7.0">/ZnO</tspan><tspan font-size="18.2" dy="-11.8">[48]</tspan></text>
<text x="2889.0" y="2256.0" font-size="28" text-anchor="start" fill="#333">Au/WO<tspan font-size="18.2" dy="7.0">3</tspan><tspan dy="-7.0">/TiO</tspan><tspan font-size="18.2" dy="7.0">2</tspan><tspan font-size="18.2" dy="-18.8">[44]</tspan></text>
<polygon points="2461.1,2119.6 2465.5,2131.4 2478.2,2132.0 2468.2,2139.9 2471.6,2152.1 2461.1,2145.1 2450.5,2152.1 2453.9,2139.9 2443.9,2132.0 2456.6,2131.4" fill="#e8203c" stroke="#e8203c" stroke-width="1"/>
<polygon points="2595.9,2002.0 2600.3,2013.9 2613.0,2014.5 2603.1,2022.4 2606.5,2034.6 2595.9,2027.6 2585.3,2034.6 2588.7,2022.4 2578.8,2014.5 2591.5,2013.9" fill="#e8203c" stroke="#e8203c" stroke-width="1"/>
<polygon points="2733.5,1728.5 2737.9,1740.4 2750.6,1741.0 2740.6,1748.9 2744.0,1761.1 2733.5,1754.1 2722.9,1761.1 2726.3,1748.9 2716.3,1741.0 2729.0,1740.4" fill="#e8203c" stroke="#e8203c" stroke-width="1"/>
<text x="2759.0" y="1759.0" font-size="28" text-anchor="start" fill="#e8203c">This work</text>
<circle cx="2420.2" cy="2084.9" r="11.5" fill="#5a2838" stroke="#4a2030" stroke-width="1"/>
<polygon points="2439.3,2034.1 2453.6,2058.8 2425.0,2058.8" fill="#2a4ac0" stroke="#2040b0" stroke-width="1"/>
<polygon points="2527.2,2024.1 2520.7,2035.4 2507.7,2035.4 2501.2,2024.1 2507.7,2012.8 2520.7,2012.8" fill="#f05020" stroke="#e84818" stroke-width="1"/>
<polygon points="2439.3,2298.7 2452.5,2275.9 2426.1,2275.9" fill="#28a070" stroke="#20905a" stroke-width="1"/>
<polygon points="2420.2,2284.4 2432.2,2298.8 2420.2,2313.2 2408.2,2298.8" fill="#9a60c8" stroke="#8050c0" stroke-width="1"/>
<polygon points="2392.5,2328.0 2369.7,2314.8 2369.7,2341.2" fill="#50b8d0" stroke="#40a8c8" stroke-width="1"/>
<circle cx="2406.6" cy="2328.0" r="12.0" fill="#2a4aa8" stroke="#2040a0" stroke-width="1"/>
<circle cx="2439.3" cy="2325.0" r="11.0" fill="#b0b030" stroke="#8a9010" stroke-width="2"/>
<line x1="2429.3" y1="2325.0" x2="2449.3" y2="2325.0" stroke="#6a7010" stroke-width="2"/>
<polygon points="2473.7,2328.0 2496.5,2314.8 2496.5,2341.2" fill="#b8a020" stroke="#a09018" stroke-width="1"/>
<rect x="2998.9" y="2276.5" width="22.0" height="22.0" fill="#3a3a3a" stroke="#333" stroke-width="1"/>
<rect x="2283.5" y="1721.5" width="815.0" height="656.5" fill="none" stroke="#262626" stroke-width="5"/>
<line x1="2352.1" y1="2378.0" x2="2352.1" y2="2365.0" stroke="#222" stroke-width="3"/>
<line x1="2488.3" y1="2378.0" x2="2488.3" y2="2365.0" stroke="#222" stroke-width="3"/>
<line x1="2624.5" y1="2378.0" x2="2624.5" y2="2365.0" stroke="#222" stroke-width="3"/>
<line x1="2760.7" y1="2378.0" x2="2760.7" y2="2365.0" stroke="#222" stroke-width="3"/>
<line x1="2896.9" y1="2378.0" x2="2896.9" y2="2365.0" stroke="#222" stroke-width="3"/>
<line x1="3033.1" y1="2378.0" x2="3033.1" y2="2365.0" stroke="#222" stroke-width="3"/>
<line x1="2283.5" y1="2328.0" x2="2296.5" y2="2328.0" stroke="#222" stroke-width="3"/>
<text x="2267.0" y="2342.0" font-size="39" text-anchor="end" fill="#111">0.0</text>
<line x1="2283.5" y1="2226.7" x2="2296.5" y2="2226.7" stroke="#222" stroke-width="3"/>
<text x="2267.0" y="2240.7" font-size="39" text-anchor="end" fill="#111">0.5</text>
<line x1="2283.5" y1="2125.4" x2="2296.5" y2="2125.4" stroke="#222" stroke-width="3"/>
<text x="2267.0" y="2139.4" font-size="39" text-anchor="end" fill="#111">1.0</text>
<line x1="2283.5" y1="2024.1" x2="2296.5" y2="2024.1" stroke="#222" stroke-width="3"/>
<text x="2267.0" y="2038.1" font-size="39" text-anchor="end" fill="#111">1.5</text>
<line x1="2283.5" y1="1922.8" x2="2296.5" y2="1922.8" stroke="#222" stroke-width="3"/>
<text x="2267.0" y="1936.8" font-size="39" text-anchor="end" fill="#111">2.0</text>
<line x1="2283.5" y1="1821.5" x2="2296.5" y2="1821.5" stroke="#222" stroke-width="3"/>
<text x="2267.0" y="1835.5" font-size="39" text-anchor="end" fill="#111">2.5</text>
<line x1="2283.5" y1="1720.2" x2="2296.5" y2="1720.2" stroke="#222" stroke-width="3"/>
<text x="2267.0" y="1734.2" font-size="39" text-anchor="end" fill="#111">3.0</text>
<text x="2352.1" y="2424.0" font-size="40" text-anchor="middle" fill="#111">300</text>
<text x="2488.3" y="2424.0" font-size="40" text-anchor="middle" fill="#111">400</text>
<text x="2624.5" y="2424.0" font-size="40" text-anchor="middle" fill="#111">500</text>
<text x="2760.7" y="2424.0" font-size="40" text-anchor="middle" fill="#111">600</text>
<text x="2896.9" y="2424.0" font-size="40" text-anchor="middle" fill="#111">700</text>
<text x="3033.1" y="2424.0" font-size="40" text-anchor="middle" fill="#111">800</text>
<text x="2691.0" y="2491.0" font-size="65" text-anchor="middle" fill="#111">Wavelength (nm)</text>
<text x="2192.0" y="2050.0" font-size="65" text-anchor="middle" fill="#111" transform="rotate(-90 2192.0 2050.0)">Responsivity (A/W)</text>
<text x="11.4" y="81.2" font-size="87.5" text-anchor="start" fill="#111" textLength="100" lengthAdjust="spacingAndGlyphs">(a)</text>
<text x="1068.2" y="85.8" font-size="89" text-anchor="start" fill="#111" textLength="106" lengthAdjust="spacingAndGlyphs">(b)</text>
<text x="2125.3" y="85.8" font-size="89" text-anchor="start" fill="#111" textLength="102" lengthAdjust="spacingAndGlyphs">(c)</text>
<text x="32.2" y="816.4" font-size="88" text-anchor="start" fill="#111" textLength="109" lengthAdjust="spacingAndGlyphs">(d)</text>
<text x="1058.2" y="811.2" font-size="83" text-anchor="start" fill="#111" textLength="94" lengthAdjust="spacingAndGlyphs">(e)</text>
<text x="2123.5" y="814.6" font-size="87.5" text-anchor="start" fill="#111" textLength="80" lengthAdjust="spacingAndGlyphs">(f)</text>
<text x="20.6" y="1717.5" font-size="87.5" text-anchor="start" fill="#111" textLength="106" lengthAdjust="spacingAndGlyphs">(g)</text>
<text x="1046.6" y="1712.0" font-size="87" text-anchor="start" fill="#111" textLength="106" lengthAdjust="spacingAndGlyphs">(h)</text>
<text x="2103.5" y="1719.3" font-size="87.5" text-anchor="start" fill="#111" textLength="75" lengthAdjust="spacingAndGlyphs">(i)</text>
<line x1="935.0" y1="121.0" x2="776.0" y2="152.0" stroke="#c0143c" stroke-width="3.5"/>
<line x1="1068.0" y1="131.0" x2="1351.0" y2="222.0" stroke="#c0143c" stroke-width="3.5"/>
<line x1="910.0" y1="239.0" x2="801.0" y2="278.0" stroke="#c0143c" stroke-width="3.5"/>
<line x1="1105.0" y1="257.0" x2="1373.0" y2="371.0" stroke="#c0143c" stroke-width="3.5"/>
<line x1="932.0" y1="601.0" x2="745.0" y2="566.0" stroke="#c0143c" stroke-width="3.5"/>
<line x1="1068.0" y1="622.0" x2="1257.0" y2="651.0" stroke="#c0143c" stroke-width="3.5"/>
<circle cx="776" cy="152" r="4" fill="#c0143c"/>
<circle cx="801" cy="278" r="4" fill="#c0143c"/>
<circle cx="745" cy="566" r="4" fill="#c0143c"/>
<circle cx="1351" cy="222" r="4" fill="#c0143c"/>
<circle cx="1373" cy="371" r="4" fill="#c0143c"/>
<circle cx="1257" cy="651" r="4" fill="#c0143c"/>
<text x="949.0" y="134.0" font-size="38" text-anchor="start" fill="#c0143c">Cr/Au</text>
<text x="864.0" y="228.0" font-size="38" text-anchor="start" fill="#c0143c">TiO<tspan font-size="24.7" dy="8.4">2</tspan><tspan dy="-8.4">@GaO</tspan><tspan font-size="24.7" dy="8.4">x</tspan><tspan dy="-8.4">N</tspan><tspan font-size="24.7" dy="8.4">y</tspan><tspan dy="-8.4">-Ag</tspan></text>
<text x="1018.0" y="586.0" font-size="41" text-anchor="start" fill="#c0143c">GaO<tspan font-size="24.6" dy="10.2">x</tspan><tspan dy="-10.2">N</tspan><tspan font-size="24.6" dy="10.2">y</tspan></text>
<text x="903.0" y="664.0" font-size="41" text-anchor="start" fill="#c0143c">FTO</text>
</svg>
</body></html>
